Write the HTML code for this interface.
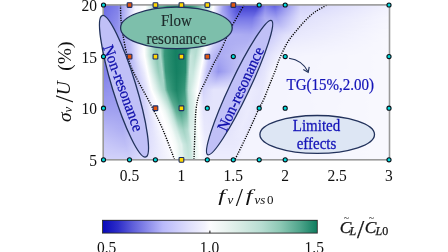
<!DOCTYPE html>
<html><head><meta charset="utf-8">
<style>
html,body{margin:0;padding:0;background:#fff;width:448px;height:252px;overflow:hidden;position:relative}
#hm{position:absolute;left:103.5px;top:5.2px;width:285.5px;height:154.3px;overflow:hidden}
#hm i{position:absolute;left:0;width:100%;display:block}
#cb{position:absolute;left:102.5px;top:220.3px;width:214.8px;height:12.8px;background:linear-gradient(90deg,#0a0ab9 0.00%,#2d2dc8 7.00%,#5f5fda 14.00%,#8c8cea 21.00%,#b9b9fa 28.00%,#dedefc 40.00%,#f2f2fd 47.50%,#fcfcfe 50.00%,#ebf4f1 57.00%,#d7ebe4 64.00%,#b7ddd2 74.00%,#8cc8b4 83.00%,#50a58c 92.00%,#0f7d5f 100.00%)}
svg{position:absolute;left:0;top:0}
text{font-family:"Liberation Serif","DejaVu Serif",serif}
</style></head><body>
<div id="hm">
<i style="top:0.0px;height:1.5px;background:linear-gradient(90deg,#6969e4 0.0px,#7171e6 4.5px,#7878e7 9.0px,#7f7fe9 13.5px,#a3a3f1 18.5px,#c3c3f7 23.5px,#ddddfb 27.5px,#f6f6fe 31.5px,#fafafe 36.5px,#ffffff 41.5px,#e4f2ee 45.0px,#c8e6de 48.5px,#9bd0bf 51.5px,#6ab59e 54.5px,#5faf96 58.5px,#2d9173 63.5px,#258b6d 67.1px,#1d8567 70.8px,#148062 74.5px,#1d8567 78.5px,#258b6d 82.5px,#2d9173 86.5px,#46a084 89.5px,#5faf96 92.5px,#80c1ad 96.0px,#a0d2c3 99.5px,#cee9e1 104.4px,#ffffff 109.4px,#dedefb 113.0px,#bcbcf6 116.7px,#9797ee 120.3px,#7e7ee9 124.3px,#6666e3 128.3px,#5252d8 132.3px,#3e3ece 136.3px,#3e3ece 140.8px,#3e3ece 145.3px,#3e3ece 149.8px,#3e3ece 154.3px,#5d5dde 157.9px,#8181e9 161.5px,#7171e6 166.0px,#6262e0 170.6px,#7474e6 174.9px,#8888eb 179.2px,#9c9cef 183.5px,#afaff3 187.9px,#c1c1f7 192.2px,#d3d3fa 196.5px,#d4d4fa 201.4px,#d6d6fa 206.4px,#d8d8fb 211.3px,#d9d9fb 216.3px,#dbdbfb 221.2px,#ddddfb 226.2px,#dfdffb 231.1px,#e0e0fc 236.1px,#e2e2fc 241.0px,#e4e4fc 245.9px,#e6e6fc 250.9px,#e7e7fc 255.8px,#e9e9fd 260.8px,#ebebfd 265.7px,#ececfd 270.7px,#eeeefd 275.6px,#f0f0fd 280.6px,#f2f2fe 285.5px)"></i>
<i style="top:1.0px;height:1.5px;background:linear-gradient(90deg,#6a6ae4 0.0px,#7272e6 4.5px,#7979e7 9.0px,#8080e9 13.5px,#a3a3f1 18.4px,#c3c3f7 23.4px,#ddddfb 27.4px,#f6f6fe 31.4px,#fafafe 36.4px,#ffffff 41.4px,#e4f2ee 44.9px,#c8e6de 48.4px,#9bd0bf 51.4px,#6ab59e 54.4px,#5faf96 58.4px,#2d9173 63.4px,#258b6d 67.0px,#1d8567 70.7px,#148062 74.4px,#1d8567 78.4px,#258b6d 82.4px,#2d9173 86.4px,#46a084 89.4px,#5faf96 92.4px,#80c1ad 95.9px,#a0d2c3 99.4px,#cee9e1 104.3px,#ffffff 109.3px,#dfdffb 112.8px,#bebef6 116.4px,#9a9aef 119.9px,#8282e9 123.9px,#6a6ae4 127.9px,#5656da 131.8px,#4242d0 135.8px,#4242d0 140.3px,#4242d0 144.8px,#4242d0 149.3px,#4242d0 153.8px,#6161e0 157.6px,#8484ea 161.4px,#7575e7 166.1px,#6666e3 170.7px,#7979e7 175.0px,#8c8cec 179.3px,#9f9ff0 183.6px,#b1b1f3 187.9px,#c2c2f7 192.2px,#d4d4fa 196.5px,#d5d5fa 201.4px,#d7d7fb 206.4px,#d9d9fb 211.3px,#dadafb 216.3px,#dcdcfb 221.2px,#dedefb 226.2px,#dfdffb 231.1px,#e1e1fc 236.1px,#e3e3fc 241.0px,#e4e4fc 245.9px,#e6e6fc 250.9px,#e8e8fc 255.8px,#eaeafd 260.8px,#ebebfd 265.7px,#ededfd 270.7px,#efeffd 275.6px,#f0f0fd 280.6px,#f2f2fe 285.5px)"></i>
<i style="top:2.0px;height:1.5px;background:linear-gradient(90deg,#6b6be4 0.0px,#7272e6 4.5px,#7a7ae8 9.0px,#8181e9 13.5px,#a3a3f1 18.4px,#c3c3f7 23.3px,#ddddfb 27.3px,#f6f6fe 31.3px,#fafafe 36.3px,#ffffff 41.3px,#e4f2ee 44.8px,#c8e6de 48.3px,#9bd0bf 51.3px,#6ab59e 54.3px,#5faf96 58.3px,#2d9173 63.3px,#258b6d 67.0px,#1d8567 70.6px,#148062 74.3px,#1d8567 78.3px,#258b6d 82.3px,#2d9173 86.3px,#46a084 89.3px,#5faf96 92.3px,#80c1ad 95.8px,#a0d2c3 99.3px,#cee9e1 104.2px,#ffffff 109.1px,#e0e0fc 112.6px,#c0c0f6 116.1px,#9e9eef 119.5px,#8686ea 123.5px,#6e6ee5 127.4px,#5a5adc 131.4px,#4747d2 135.3px,#4747d2 139.8px,#4747d2 144.3px,#4747d2 148.8px,#4747d2 153.3px,#6464e2 157.3px,#8888eb 161.3px,#7979e8 166.1px,#6b6be4 170.9px,#7d7de8 175.2px,#9090ed 179.4px,#a2a2f0 183.7px,#b3b3f4 188.0px,#c4c4f7 192.2px,#d5d5fa 196.5px,#d6d6fa 201.4px,#d8d8fb 206.4px,#dadafb 211.3px,#dbdbfb 216.3px,#ddddfb 221.2px,#dfdffb 226.2px,#e0e0fc 231.1px,#e2e2fc 236.1px,#e4e4fc 241.0px,#e5e5fc 245.9px,#e7e7fc 250.9px,#e8e8fc 255.8px,#eaeafd 260.8px,#ececfd 265.7px,#ededfd 270.7px,#efeffd 275.6px,#f1f1fd 280.6px,#f2f2fe 285.5px)"></i>
<i style="top:3.0px;height:1.5px;background:linear-gradient(90deg,#6c6ce5 0.0px,#7373e6 4.5px,#7b7be8 9.0px,#8282e9 13.5px,#a4a4f1 18.4px,#c3c3f7 23.2px,#ddddfb 27.2px,#f6f6fe 31.2px,#fafafe 36.2px,#ffffff 41.2px,#e4f2ee 44.7px,#c8e6de 48.2px,#9bd0bf 51.2px,#6ab59e 54.2px,#5faf96 58.2px,#2d9173 63.2px,#258b6d 66.9px,#1d8567 70.6px,#148062 74.2px,#1d8567 78.2px,#258b6d 82.2px,#2d9173 86.2px,#46a084 89.2px,#5faf96 92.2px,#80c1ad 95.7px,#a0d2c3 99.2px,#cee9e1 104.1px,#ffffff 109.0px,#e1e1fc 112.3px,#c2c2f7 115.7px,#a1a1f0 119.1px,#8a8aeb 123.1px,#7373e6 127.0px,#5e5ede 130.9px,#4b4bd5 134.9px,#4b4bd5 139.4px,#4b4bd5 143.9px,#4b4bd5 148.4px,#4b4bd5 152.9px,#6868e3 157.0px,#8b8beb 161.2px,#7e7ee8 166.1px,#7070e6 171.0px,#8282e9 175.3px,#9494ed 179.5px,#a5a5f1 183.8px,#b6b6f4 188.0px,#c6c6f8 192.3px,#d6d6fa 196.5px,#d7d7fb 201.4px,#d9d9fb 206.4px,#dbdbfb 211.3px,#dcdcfb 216.3px,#dedefb 221.2px,#dfdffb 226.2px,#e1e1fc 231.1px,#e3e3fc 236.1px,#e4e4fc 241.0px,#e6e6fc 245.9px,#e7e7fc 250.9px,#e9e9fd 255.8px,#ebebfd 260.8px,#ececfd 265.7px,#eeeefd 270.7px,#f0f0fd 275.6px,#f1f1fd 280.6px,#f3f3fe 285.5px)"></i>
<i style="top:4.0px;height:1.5px;background:linear-gradient(90deg,#6d6de5 0.0px,#7474e6 4.5px,#7c7ce8 9.0px,#8383ea 13.5px,#a4a4f1 18.3px,#c3c3f7 23.1px,#ddddfb 27.1px,#f6f6fe 31.1px,#fafafe 36.1px,#ffffff 41.1px,#e4f2ee 44.6px,#c8e6de 48.1px,#9bd0bf 51.1px,#6ab59e 54.1px,#5faf96 58.1px,#2d9173 63.1px,#258b6d 66.8px,#1d8567 70.5px,#148062 74.1px,#1d8567 78.1px,#258b6d 82.1px,#2d9173 86.1px,#46a084 89.1px,#5faf96 92.1px,#80c1ad 95.6px,#a0d2c3 99.1px,#cee9e1 104.0px,#ffffff 108.8px,#d4d4fa 113.8px,#a4a4f1 118.7px,#8e8eec 122.7px,#7777e7 126.6px,#6262e0 130.5px,#4f4fd7 134.4px,#4f4fd7 138.9px,#4f4fd7 143.4px,#4f4fd7 147.9px,#4f4fd7 152.4px,#6c6ce5 156.8px,#8e8eec 161.1px,#8686ea 164.5px,#7e7ee8 167.9px,#7575e7 171.2px,#8686ea 175.4px,#9898ee 179.6px,#a8a8f2 183.9px,#b8b8f5 188.1px,#c8c8f8 192.3px,#d7d7fb 196.5px,#d8d8fb 201.4px,#dadafb 206.4px,#dbdbfb 211.3px,#ddddfb 216.3px,#dfdffb 221.2px,#e0e0fc 226.2px,#e2e2fc 231.1px,#e3e3fc 236.1px,#e5e5fc 241.0px,#e6e6fc 245.9px,#e8e8fc 250.9px,#eaeafd 255.8px,#ebebfd 260.8px,#ededfd 265.7px,#eeeefd 270.7px,#f0f0fd 275.6px,#f2f2fe 280.6px,#f3f3fe 285.5px)"></i>
<i style="top:5.0px;height:1.5px;background:linear-gradient(90deg,#6e6ee5 0.0px,#7575e7 4.5px,#7c7ce8 9.0px,#8484ea 13.5px,#a5a5f1 18.3px,#c3c3f7 23.1px,#ddddfb 27.1px,#f6f6fe 31.1px,#fafafe 36.1px,#ffffff 41.1px,#e4f2ee 44.6px,#c8e6de 48.1px,#9bd0bf 51.1px,#6ab59e 54.1px,#5faf96 58.1px,#2d9173 63.1px,#258b6d 66.7px,#1d8567 70.4px,#148062 74.1px,#1d8567 78.1px,#258b6d 82.1px,#2d9173 86.1px,#46a084 89.1px,#5faf96 92.1px,#80c1ad 95.6px,#a0d2c3 99.1px,#cee9e1 103.9px,#ffffff 108.6px,#d5d5fa 113.5px,#a7a7f1 118.4px,#9292ed 122.2px,#7b7be8 126.1px,#6666e2 130.0px,#5353d9 133.9px,#5353d9 138.4px,#5353d9 142.9px,#5353d9 147.4px,#5353d9 151.9px,#7070e6 156.5px,#9292ed 161.1px,#8a8aeb 164.5px,#8282ea 167.9px,#7a7ae8 171.4px,#8b8beb 175.5px,#9c9cef 179.7px,#ababf2 183.9px,#babaf5 188.1px,#c9c9f8 192.3px,#d8d8fb 196.5px,#d9d9fb 201.4px,#dbdbfb 206.4px,#dcdcfb 211.3px,#dedefb 216.3px,#dfdffb 221.2px,#e1e1fc 226.2px,#e3e3fc 231.1px,#e4e4fc 236.1px,#e6e6fc 241.0px,#e7e7fc 245.9px,#e9e9fd 250.9px,#eaeafd 255.8px,#ececfd 260.8px,#ededfd 265.7px,#efeffd 270.7px,#f0f0fd 275.6px,#f2f2fe 280.6px,#f3f3fe 285.5px)"></i>
<i style="top:6.0px;height:1.5px;background:linear-gradient(90deg,#6f6fe5 0.0px,#7676e7 4.5px,#7d7de8 9.0px,#8585ea 13.5px,#a5a5f1 18.2px,#c3c3f7 23.0px,#ddddfb 27.0px,#f6f6fe 31.0px,#fafafe 36.0px,#ffffff 41.0px,#e4f2ee 44.5px,#c8e6de 48.0px,#9bd0bf 51.0px,#6ab59e 54.0px,#5faf96 58.0px,#2d9173 63.0px,#258b6d 66.7px,#1d8567 70.3px,#148062 74.0px,#1d8567 78.0px,#258b6d 82.0px,#2d9173 86.0px,#46a084 89.0px,#5faf96 92.0px,#80c1ad 95.5px,#a0d2c3 99.0px,#cee9e1 103.7px,#ffffff 108.5px,#d7d7fb 113.2px,#aaaaf2 118.0px,#9595ee 121.8px,#7f7fe9 125.7px,#6969e4 129.6px,#5757db 133.5px,#5757db 138.0px,#5757db 142.5px,#5757db 147.0px,#5757db 151.5px,#7474e6 156.2px,#9595ee 161.0px,#8e8eec 164.5px,#8787ea 168.0px,#8080e9 171.5px,#9393ed 176.5px,#a5a5f1 181.5px,#b7b7f5 186.5px,#c8c8f8 191.5px,#d9d9fb 196.5px,#dadafb 201.4px,#dcdcfb 206.4px,#ddddfb 211.3px,#dfdffb 216.3px,#e0e0fc 221.2px,#e2e2fc 226.2px,#e3e3fc 231.1px,#e5e5fc 236.1px,#e6e6fc 241.0px,#e8e8fc 245.9px,#e9e9fd 250.9px,#ebebfd 255.8px,#ececfd 260.8px,#eeeefd 265.7px,#efeffd 270.7px,#f1f1fd 275.6px,#f2f2fe 280.6px,#f4f4fe 285.5px)"></i>
<i style="top:7.0px;height:1.5px;background:linear-gradient(90deg,#6f6fe5 0.0px,#7777e7 4.5px,#7e7ee9 9.0px,#8585ea 13.5px,#a5a5f1 18.2px,#c3c3f7 22.9px,#ddddfb 26.9px,#f6f6fe 30.9px,#fafafe 35.9px,#ffffff 40.9px,#e4f2ee 44.4px,#c8e6de 47.9px,#9bd0bf 50.9px,#6ab59e 53.9px,#5faf96 57.9px,#2d9173 62.9px,#258b6d 66.6px,#1d8567 70.2px,#148062 73.9px,#1d8567 77.9px,#258b6d 81.9px,#2d9173 85.9px,#46a084 88.9px,#5faf96 91.9px,#80c1ad 95.4px,#a0d2c3 98.9px,#cee9e1 103.6px,#ffffff 108.3px,#d8d8fb 112.9px,#adadf3 117.6px,#9999ef 121.4px,#8484ea 125.3px,#6e6ee5 129.1px,#5c5cdd 133.0px,#5c5cdd 137.5px,#5c5cdd 142.0px,#5c5cdd 146.5px,#5c5cdd 151.0px,#7979e7 155.9px,#9999ee 160.9px,#9292ed 164.5px,#8b8bec 168.1px,#8585ea 171.7px,#9797ee 176.6px,#a9a9f2 181.6px,#b9b9f5 186.6px,#cacaf8 191.5px,#dadafb 196.5px,#dbdbfb 201.4px,#ddddfb 206.4px,#dedefb 211.3px,#e0e0fc 216.3px,#e1e1fc 221.2px,#e3e3fc 226.2px,#e4e4fc 231.1px,#e6e6fc 236.1px,#e7e7fc 241.0px,#e8e8fc 245.9px,#eaeafd 250.9px,#ebebfd 255.8px,#ededfd 260.8px,#eeeefd 265.7px,#f0f0fd 270.7px,#f1f1fd 275.6px,#f3f3fe 280.6px,#f4f4fe 285.5px)"></i>
<i style="top:8.0px;height:1.5px;background:linear-gradient(90deg,#7070e6 0.0px,#7878e7 4.5px,#7f7fe9 9.0px,#8686ea 13.5px,#a6a6f1 18.2px,#c3c3f7 22.8px,#ddddfb 26.8px,#f6f6fe 30.8px,#fafafe 35.8px,#ffffff 40.8px,#e4f2ee 44.3px,#c8e6de 47.8px,#9bd0bf 50.8px,#6ab59e 53.8px,#5faf96 57.8px,#2d9173 62.8px,#258b6d 66.5px,#1d8567 70.2px,#148062 73.8px,#1d8567 77.8px,#258b6d 81.8px,#2d9173 85.8px,#46a084 88.8px,#5faf96 91.8px,#80c1ad 95.3px,#a0d2c3 98.8px,#cee9e1 103.5px,#ffffff 108.2px,#d9d9fb 112.7px,#b1b1f3 117.2px,#9d9def 121.0px,#8888eb 124.8px,#7373e6 128.7px,#6060df 132.5px,#6060df 137.0px,#6060df 141.5px,#6060df 146.0px,#6060df 150.5px,#7373e6 154.0px,#8787eb 157.4px,#9c9cef 160.8px,#9696ee 164.5px,#9090ec 168.2px,#8a8aeb 171.8px,#9b9bef 176.8px,#acacf2 181.7px,#bcbcf6 186.6px,#ccccf9 191.6px,#dbdbfb 196.5px,#dcdcfb 201.4px,#dedefb 206.4px,#dfdffb 211.3px,#e1e1fc 216.3px,#e2e2fc 221.2px,#e3e3fc 226.2px,#e5e5fc 231.1px,#e6e6fc 236.1px,#e8e8fc 241.0px,#e9e9fd 245.9px,#ebebfd 250.9px,#ececfd 255.8px,#ededfd 260.8px,#efeffd 265.7px,#f0f0fd 270.7px,#f2f2fe 275.6px,#f3f3fe 280.6px,#f4f4fe 285.5px)"></i>
<i style="top:9.0px;height:1.5px;background:linear-gradient(90deg,#7171e6 0.0px,#7878e7 4.5px,#8080e9 9.0px,#8787eb 13.5px,#a6a6f1 18.1px,#c3c3f7 22.8px,#ddddfb 26.8px,#f6f6fe 30.8px,#fafafe 35.8px,#ffffff 40.8px,#e4f2ee 44.3px,#c8e6de 47.8px,#9bd0bf 50.8px,#6ab59e 53.8px,#5faf96 57.8px,#2d9173 62.8px,#258b6d 66.4px,#1d8567 70.1px,#148062 73.8px,#1d8567 77.8px,#258b6d 81.8px,#2d9173 85.8px,#46a084 88.8px,#5faf96 91.8px,#80c1ad 95.3px,#a0d2c3 98.8px,#cee9e1 103.4px,#ffffff 108.0px,#dbdbfb 112.4px,#b4b4f4 116.8px,#a1a1f0 120.6px,#8c8cec 124.4px,#7878e7 128.2px,#6464e1 132.0px,#6464e1 136.5px,#6464e1 141.0px,#6464e1 145.5px,#6464e1 150.0px,#7777e7 153.6px,#8b8bec 157.2px,#a0a0f0 160.8px,#9a9aef 164.5px,#9595ee 168.2px,#8f8fec 172.0px,#a0a0f0 176.9px,#afaff3 181.8px,#bebef6 186.7px,#cecef9 191.6px,#dcdcfb 196.5px,#ddddfb 201.4px,#dfdffb 206.4px,#e0e0fc 211.3px,#e2e2fc 216.3px,#e3e3fc 221.2px,#e4e4fc 226.2px,#e6e6fc 231.1px,#e7e7fc 236.1px,#e8e8fc 241.0px,#eaeafd 245.9px,#ebebfd 250.9px,#ededfd 255.8px,#eeeefd 260.8px,#efeffd 265.7px,#f1f1fd 270.7px,#f2f2fe 275.6px,#f3f3fe 280.6px,#f5f5fe 285.5px)"></i>
<i style="top:10.0px;height:1.5px;background:linear-gradient(90deg,#7272e6 0.0px,#7979e8 4.5px,#8181e9 9.0px,#8888eb 13.5px,#a7a7f1 18.1px,#c3c3f7 22.7px,#ddddfb 26.7px,#f6f6fe 30.7px,#fafafe 35.7px,#ffffff 40.7px,#e4f2ee 44.2px,#c8e6de 47.7px,#9bd0bf 50.7px,#6ab59e 53.7px,#5faf96 57.7px,#2d9173 62.7px,#258b6d 66.3px,#1d8567 70.0px,#148062 73.7px,#1d8567 77.7px,#258b6d 81.7px,#2d9173 85.7px,#46a084 88.7px,#5faf96 91.7px,#80c1ad 95.2px,#a0d2c3 98.7px,#cee9e1 103.3px,#ffffff 107.9px,#dcdcfb 112.1px,#b7b7f5 116.4px,#a4a4f1 120.2px,#9191ed 124.0px,#7c7ce8 127.8px,#6868e4 131.6px,#6868e4 136.1px,#6868e4 140.6px,#6868e4 145.1px,#6868e4 149.6px,#7c7ce8 153.3px,#8f8fec 157.0px,#a3a3f1 160.7px,#9e9ef0 164.5px,#9999ee 168.3px,#9494ed 172.1px,#a4a4f1 177.0px,#b2b2f4 181.9px,#c1c1f7 186.8px,#d0d0fa 191.6px,#ddddfb 196.5px,#dedefb 201.4px,#e0e0fc 206.4px,#e1e1fc 211.3px,#e2e2fc 216.3px,#e4e4fc 221.2px,#e5e5fc 226.2px,#e6e6fc 231.1px,#e8e8fc 236.1px,#e9e9fd 241.0px,#eaeafd 245.9px,#ececfd 250.9px,#ededfd 255.8px,#eeeefd 260.8px,#f0f0fd 265.7px,#f1f1fd 270.7px,#f3f3fe 275.6px,#f4f4fe 280.6px,#f5f5fe 285.5px)"></i>
<i style="top:11.0px;height:1.5px;background:linear-gradient(90deg,#7373e6 0.0px,#7a7ae8 4.5px,#8282e9 9.0px,#8989eb 13.5px,#a7a7f1 18.1px,#c3c3f7 22.6px,#ddddfb 26.6px,#f6f6fe 30.6px,#fafafe 35.6px,#ffffff 40.6px,#e4f2ee 44.1px,#c8e6de 47.6px,#9bcfbf 50.6px,#6ab59e 53.6px,#5faf96 57.6px,#2d9173 62.6px,#258b6d 66.3px,#1d8567 69.9px,#158062 73.6px,#1d8567 77.6px,#258b6d 81.6px,#2d9173 85.6px,#46a084 88.6px,#5faf96 91.6px,#80c1ad 95.1px,#a0d2c3 98.6px,#cee9e1 103.2px,#ffffff 107.7px,#dedefb 111.9px,#babaf5 116.0px,#a8a8f2 119.8px,#9595ee 123.6px,#8181e9 127.3px,#6d6de5 131.1px,#6d6de5 135.6px,#6d6de5 140.1px,#6d6de5 144.6px,#6d6de5 149.1px,#8080e9 152.9px,#9393ed 156.8px,#a6a6f1 160.6px,#a2a2f0 164.5px,#9e9ef0 168.4px,#9999ef 172.3px,#a8a8f2 177.1px,#b6b6f4 182.0px,#c4c4f7 186.8px,#d2d2fa 191.7px,#dedefb 196.5px,#dfdffb 201.4px,#e1e1fc 206.4px,#e2e2fc 211.3px,#e3e3fc 216.3px,#e5e5fc 221.2px,#e6e6fc 226.2px,#e7e7fc 231.1px,#e9e9fd 236.1px,#eaeafd 241.0px,#ebebfd 245.9px,#ececfd 250.9px,#eeeefd 255.8px,#efeffd 260.8px,#f0f0fd 265.7px,#f2f2fe 270.7px,#f3f3fe 275.6px,#f4f4fe 280.6px,#f6f6fe 285.5px)"></i>
<i style="top:12.0px;height:1.5px;background:linear-gradient(90deg,#7474e6 0.0px,#7b7be8 4.5px,#8282ea 9.0px,#8a8aeb 13.5px,#a7a7f1 18.0px,#c3c3f7 22.5px,#ddddfb 26.5px,#f6f6fe 30.5px,#fafafe 35.5px,#ffffff 40.5px,#e4f2ee 44.0px,#c8e6de 47.5px,#9bd0bf 50.5px,#6ab59e 53.5px,#5faf96 57.5px,#2d9173 62.5px,#258b6d 66.2px,#1d8567 69.9px,#148062 73.5px,#1d8567 77.5px,#258b6d 81.5px,#2d9173 85.5px,#46a084 88.5px,#5faf96 91.5px,#80c1ad 95.0px,#a0d2c3 98.5px,#cee9e1 103.0px,#ffffff 107.5px,#dfdffb 111.6px,#bdbdf6 115.6px,#ababf2 119.4px,#9999ef 123.1px,#8686ea 126.9px,#7272e6 130.6px,#7272e6 135.1px,#7272e6 139.6px,#7272e6 144.1px,#7272e6 148.6px,#8585ea 152.6px,#9797ee 156.6px,#a9a9f2 160.5px,#a6a6f1 164.5px,#a2a2f0 168.5px,#9e9ef0 172.5px,#acacf2 177.3px,#b9b9f5 182.1px,#c6c6f8 186.9px,#d3d3fa 191.7px,#dfdffb 196.5px,#e0e0fc 201.4px,#e2e2fc 206.4px,#e3e3fc 211.3px,#e4e4fc 216.3px,#e5e5fc 221.2px,#e7e7fc 226.2px,#e8e8fc 231.1px,#e9e9fd 236.1px,#ebebfd 241.0px,#ececfd 245.9px,#ededfd 250.9px,#eeeefd 255.8px,#f0f0fd 260.8px,#f1f1fd 265.7px,#f2f2fe 270.7px,#f3f3fe 275.6px,#f5f5fe 280.6px,#f6f6fe 285.5px)"></i>
<i style="top:13.0px;height:1.5px;background:linear-gradient(90deg,#7474e6 0.0px,#7c7ce8 4.5px,#8383ea 9.0px,#8b8beb 13.5px,#a8a8f2 18.1px,#c3c3f7 22.6px,#ddddfb 26.6px,#f5f5fe 30.6px,#fafafe 35.5px,#ffffff 40.5px,#e3f2ee 43.9px,#c8e6de 47.4px,#9cd0c0 50.4px,#6bb69f 53.4px,#5faf96 57.5px,#2d9173 62.5px,#258b6d 66.1px,#1d8567 69.8px,#148062 73.5px,#1d8567 77.5px,#258b6d 81.5px,#2d9173 85.5px,#47a085 88.4px,#61b097 91.4px,#81c2ae 94.9px,#a1d2c3 98.4px,#cee9e2 102.9px,#ffffff 107.4px,#e0e0fc 111.4px,#bfbff6 115.5px,#a8a8f2 120.4px,#9090ec 125.4px,#7676e7 130.3px,#7676e7 134.9px,#7676e7 139.4px,#7676e7 143.9px,#7676e7 148.4px,#8888eb 152.6px,#9b9bef 156.8px,#acacf2 161.0px,#a9a9f2 164.9px,#a6a6f1 168.9px,#a3a3f1 172.9px,#afaff3 177.6px,#bcbcf6 182.3px,#c8c8f8 187.0px,#d5d5fa 191.7px,#e0e0fc 196.4px,#e1e1fc 201.4px,#e2e2fc 206.3px,#e4e4fc 211.3px,#e5e5fc 216.2px,#e6e6fc 221.2px,#e7e7fc 226.1px,#e9e9fd 231.1px,#eaeafd 236.0px,#ebebfd 241.0px,#ececfd 245.9px,#ededfd 250.9px,#efeffd 255.8px,#f0f0fd 260.8px,#f1f1fd 265.7px,#f2f2fe 270.7px,#f4f4fe 275.6px,#f5f5fe 280.6px,#f6f6fe 285.5px)"></i>
<i style="top:14.0px;height:1.5px;background:linear-gradient(90deg,#7474e6 0.0px,#7c7ce8 4.5px,#8484ea 9.1px,#8c8cec 13.6px,#a8a8f2 18.2px,#c2c2f7 22.7px,#dcdcfb 26.8px,#f4f4fe 30.8px,#fafafe 35.6px,#ffffff 40.4px,#e4f2ee 43.8px,#c8e6de 47.3px,#9cd0c0 50.3px,#6db7a0 53.3px,#60b097 57.4px,#2d9173 62.4px,#258b6d 66.1px,#1d8567 69.7px,#148062 73.4px,#1d8567 77.4px,#258b6d 81.4px,#2d9173 85.4px,#48a186 88.3px,#63b199 91.2px,#83c3af 94.7px,#a1d3c4 98.2px,#cee9e2 102.7px,#ffffff 107.2px,#e0e0fc 111.3px,#c0c0f6 115.4px,#aaaaf2 120.3px,#9292ed 125.2px,#7a7ae8 130.1px,#7a7ae8 134.7px,#7a7ae8 139.2px,#7a7ae8 143.8px,#7a7ae8 148.3px,#8b8bec 152.7px,#9d9def 157.2px,#aeaef3 161.6px,#ababf2 165.5px,#a9a9f2 169.5px,#a6a6f1 173.4px,#b2b2f4 178.0px,#bebef6 182.6px,#cacaf8 187.1px,#d6d6fa 191.7px,#e0e0fc 196.3px,#e2e2fc 201.3px,#e3e3fc 206.2px,#e4e4fc 211.2px,#e5e5fc 216.1px,#e6e6fc 221.1px,#e8e8fc 226.0px,#e9e9fd 231.0px,#eaeafd 235.9px,#ebebfd 240.9px,#ededfd 245.9px,#eeeefd 250.8px,#efeffd 255.8px,#f0f0fd 260.7px,#f1f1fd 265.7px,#f3f3fe 270.6px,#f4f4fe 275.6px,#f5f5fe 280.5px,#f6f6fe 285.5px)"></i>
<i style="top:15.0px;height:1.5px;background:linear-gradient(90deg,#7474e6 0.0px,#7c7ce8 4.6px,#8484ea 9.1px,#8d8dec 13.7px,#a8a8f2 18.2px,#c1c1f7 22.8px,#dbdbfb 26.9px,#f3f3fe 31.0px,#f9f9fe 35.7px,#ffffff 40.3px,#e4f3ef 43.8px,#c8e6de 47.2px,#9dd1c1 50.2px,#6fb8a1 53.2px,#61b097 57.3px,#2d9173 62.3px,#258b6d 66.0px,#1d8567 69.7px,#148062 73.3px,#1d8567 77.3px,#258b6d 81.3px,#2d9173 85.3px,#49a287 88.2px,#66b39b 91.0px,#85c4b0 94.5px,#a2d3c4 98.0px,#cfe9e2 102.5px,#ffffff 107.0px,#e1e1fc 111.2px,#c1c1f7 115.3px,#acacf2 120.2px,#9595ee 125.0px,#7e7ee8 129.9px,#7d7de8 134.4px,#7d7de8 139.0px,#7d7de8 143.6px,#7d7de8 148.2px,#8e8eec 152.9px,#a0a0f0 157.6px,#b0b0f3 162.2px,#aeaef3 166.1px,#acacf2 170.0px,#aaaaf2 173.9px,#b6b6f4 178.4px,#c1c1f7 182.8px,#ccccf9 187.3px,#d7d7fb 191.7px,#e1e1fc 196.2px,#e2e2fc 201.1px,#e3e3fc 206.1px,#e5e5fc 211.1px,#e6e6fc 216.0px,#e7e7fc 221.0px,#e8e8fc 226.0px,#e9e9fd 230.9px,#eaeafd 235.9px,#ececfd 240.8px,#ededfd 245.8px,#eeeefd 250.8px,#efeffd 255.7px,#f0f0fd 260.7px,#f2f2fe 265.7px,#f3f3fe 270.6px,#f4f4fe 275.6px,#f5f5fe 280.5px,#f6f6fe 285.5px)"></i>
<i style="top:16.0px;height:1.5px;background:linear-gradient(90deg,#7474e6 0.0px,#7d7de8 4.6px,#8585ea 9.1px,#8e8eec 13.7px,#a8a8f2 18.3px,#c1c1f7 22.9px,#dadafb 27.0px,#f2f2fe 31.2px,#f9f9fe 35.7px,#ffffff 40.3px,#e3f2ee 43.7px,#c8e6de 47.1px,#9ed1c2 50.1px,#71b9a3 53.1px,#61b098 57.3px,#2d9173 62.3px,#258b6d 65.9px,#1d8567 69.6px,#148062 73.3px,#1d8567 77.3px,#258b6d 81.3px,#2d9173 85.3px,#4aa388 88.1px,#69b49d 90.8px,#87c5b1 94.3px,#a3d4c5 97.8px,#cfe9e2 102.3px,#ffffff 106.8px,#e1e1fc 111.1px,#c2c2f7 115.3px,#aeaef3 120.1px,#9898ee 124.8px,#8181e9 129.6px,#8181e9 134.2px,#8181e9 138.8px,#8080e9 143.5px,#8080e9 148.1px,#9292ed 153.0px,#a3a3f1 158.0px,#b3b3f4 162.9px,#b1b1f3 166.7px,#b0b0f3 170.6px,#aeaef3 174.5px,#b9b9f5 178.8px,#c3c3f7 183.1px,#cecef9 187.4px,#d8d8fb 191.7px,#e1e1fc 196.1px,#e3e3fc 201.0px,#e4e4fc 206.0px,#e5e5fc 211.0px,#e6e6fc 215.9px,#e7e7fc 220.9px,#e8e8fc 225.9px,#eaeafd 230.8px,#ebebfd 235.8px,#ececfd 240.8px,#ededfd 245.8px,#eeeefd 250.7px,#efeffd 255.7px,#f1f1fd 260.7px,#f2f2fe 265.6px,#f3f3fe 270.6px,#f4f4fe 275.6px,#f5f5fe 280.5px,#f6f6fe 285.5px)"></i>
<i style="top:17.0px;height:1.5px;background:linear-gradient(90deg,#7474e6 0.0px,#7d7de8 4.6px,#8686ea 9.2px,#8f8fec 13.8px,#a8a8f2 18.4px,#c0c0f6 23.1px,#dadafb 27.2px,#f1f1fd 31.3px,#f8f8fe 35.8px,#ffffff 40.2px,#e4f2ee 43.6px,#c8e6de 46.9px,#9fd2c2 49.9px,#73baa4 52.9px,#62b198 57.2px,#47a185 59.7px,#2d9173 62.2px,#258b6d 65.9px,#1d8567 69.6px,#148062 73.2px,#1d8567 77.2px,#258b6d 81.2px,#2d9173 85.2px,#4ca388 87.9px,#6bb69e 90.7px,#88c6b3 94.2px,#a4d4c6 97.7px,#d0eae3 102.2px,#ffffff 106.7px,#e2e2fc 110.9px,#c4c4f7 115.2px,#afaff3 119.9px,#9b9bef 124.7px,#8585ea 129.4px,#8484ea 134.0px,#8484ea 138.7px,#8484ea 143.3px,#8383ea 147.9px,#9090ed 151.8px,#9d9def 155.7px,#a9a9f2 159.6px,#b5b5f4 163.5px,#b4b4f4 167.4px,#b3b3f4 171.2px,#b2b2f4 175.0px,#bcbcf6 179.2px,#c6c6f8 183.4px,#d0d0fa 187.6px,#d9d9fb 191.8px,#e2e2fc 195.9px,#e3e3fc 200.9px,#e4e4fc 205.9px,#e5e5fc 210.9px,#e7e7fc 215.8px,#e8e8fc 220.8px,#e9e9fd 225.8px,#eaeafd 230.8px,#ebebfd 235.7px,#ececfd 240.7px,#ededfd 245.7px,#efeffd 250.7px,#f0f0fd 255.6px,#f1f1fd 260.6px,#f2f2fe 265.6px,#f3f3fe 270.6px,#f4f4fe 275.5px,#f5f5fe 280.5px,#f7f7fe 285.5px)"></i>
<i style="top:18.0px;height:1.5px;background:linear-gradient(90deg,#7474e6 0.0px,#7d7de8 4.6px,#8686ea 9.2px,#9090ec 13.8px,#a8a8f2 18.5px,#c0c0f6 23.2px,#d9d9fb 27.3px,#f0f0fd 31.5px,#f7f7fe 35.8px,#ffffff 40.2px,#e4f3ef 43.5px,#c8e6de 46.8px,#a0d2c3 49.8px,#75bba5 52.8px,#63b199 57.2px,#2d9173 62.2px,#258b6d 65.8px,#1d8567 69.5px,#147f61 73.2px,#1d8567 77.2px,#258b6d 81.2px,#2d9173 85.2px,#4da489 87.8px,#6eb7a0 90.5px,#8ac7b4 94.0px,#a5d5c6 97.5px,#d0eae3 102.0px,#ffffff 106.5px,#e3e3fc 110.8px,#c5c5f7 115.2px,#b1b1f3 119.8px,#9e9eef 124.5px,#8888eb 129.2px,#8888eb 133.8px,#8787eb 138.5px,#8787eb 143.2px,#8686ea 147.8px,#9393ed 151.9px,#a0a0f0 156.0px,#acacf2 160.1px,#b7b7f5 164.2px,#b7b7f5 168.0px,#b6b6f4 171.7px,#b6b6f4 175.5px,#bfbff6 179.6px,#c8c8f8 183.6px,#d2d2fa 187.7px,#dadafb 191.8px,#e3e3fc 195.8px,#e4e4fc 200.8px,#e5e5fc 205.8px,#e6e6fc 210.8px,#e7e7fc 215.8px,#e8e8fc 220.7px,#e9e9fd 225.7px,#eaeafd 230.7px,#ececfd 235.7px,#ededfd 240.7px,#eeeefd 245.6px,#efeffd 250.6px,#f0f0fd 255.6px,#f1f1fd 260.6px,#f2f2fe 265.6px,#f3f3fe 270.6px,#f5f5fe 275.5px,#f6f6fe 280.5px,#f7f7fe 285.5px)"></i>
<i style="top:19.0px;height:1.5px;background:linear-gradient(90deg,#7474e6 0.0px,#7e7ee8 4.6px,#8787eb 9.3px,#9191ed 13.9px,#a8a8f2 18.6px,#bfbff6 23.3px,#d8d8fb 27.5px,#efeffd 31.7px,#f7f7fe 35.9px,#ffffff 40.1px,#e4f2ee 43.4px,#c8e6de 46.7px,#a1d2c3 49.7px,#77bca7 52.7px,#63b199 57.1px,#2d9173 62.1px,#258b6d 65.8px,#1d8567 69.4px,#148062 73.1px,#1d8567 77.1px,#258b6d 81.1px,#2d9173 85.1px,#4ea58a 87.7px,#70b8a2 90.3px,#8cc8b5 93.8px,#a6d5c7 97.3px,#d1eae3 101.8px,#ffffff 106.3px,#e3e3fc 110.7px,#c6c6f8 115.1px,#b3b3f4 119.7px,#a0a0f0 124.3px,#8c8cec 128.9px,#8b8beb 133.6px,#8b8beb 138.3px,#8a8aeb 143.0px,#8a8aeb 147.7px,#9696ee 152.0px,#a3a3f1 156.3px,#aeaef3 160.6px,#babaf5 164.8px,#babaf5 168.6px,#babaf5 172.3px,#babaf5 176.0px,#c4c4f7 181.0px,#cfcff9 185.9px,#d9d9fb 190.8px,#e3e3fc 195.7px,#e4e4fc 200.7px,#e5e5fc 205.7px,#e6e6fc 210.7px,#e7e7fc 215.7px,#e9e9fd 220.7px,#eaeafd 225.6px,#ebebfd 230.6px,#ececfd 235.6px,#ededfd 240.6px,#eeeefd 245.6px,#efeffd 250.6px,#f0f0fd 255.6px,#f1f1fd 260.6px,#f2f2fe 265.5px,#f4f4fe 270.5px,#f5f5fe 275.5px,#f6f6fe 280.5px,#f7f7fe 285.5px)"></i>
<i style="top:20.0px;height:1.5px;background:linear-gradient(90deg,#7474e6 0.0px,#7e7ee9 4.7px,#8888eb 9.3px,#9191ed 14.0px,#a9a9f2 18.7px,#bebef6 23.4px,#d7d7fb 27.6px,#eeeefd 31.9px,#f6f6fe 36.0px,#ffffff 40.0px,#e4f3ef 43.3px,#c8e6de 46.6px,#a2d3c4 49.6px,#79bda8 52.6px,#64b299 57.0px,#2d9173 62.0px,#258b6d 65.7px,#1d8567 69.4px,#148062 73.0px,#1d8567 77.0px,#258b6d 81.0px,#2d9173 85.0px,#4fa58b 87.6px,#73baa4 90.1px,#8ec8b6 93.6px,#a7d5c7 97.1px,#d1eae4 101.6px,#ffffff 106.1px,#e4e4fc 110.6px,#c7c7f8 115.0px,#b5b5f4 119.6px,#a3a3f1 124.1px,#8f8fec 128.7px,#8f8fec 133.4px,#8e8eec 138.1px,#8e8eec 142.9px,#8d8dec 147.6px,#9999ef 152.1px,#a5a5f1 156.5px,#b1b1f3 161.0px,#bcbcf6 165.5px,#bdbdf6 169.2px,#bdbdf6 172.9px,#bdbdf6 176.6px,#c7c7f8 181.3px,#d1d1fa 186.1px,#dbdbfb 190.8px,#e4e4fc 195.6px,#e5e5fc 200.6px,#e6e6fc 205.6px,#e7e7fc 210.6px,#e8e8fc 215.6px,#e9e9fd 220.6px,#eaeafd 225.6px,#ebebfd 230.6px,#ececfd 235.6px,#ededfd 240.5px,#eeeefd 245.5px,#efeffd 250.5px,#f1f1fd 255.5px,#f2f2fe 260.5px,#f3f3fe 265.5px,#f4f4fe 270.5px,#f5f5fe 275.5px,#f6f6fe 280.5px,#f7f7fe 285.5px)"></i>
<i style="top:21.0px;height:1.5px;background:linear-gradient(90deg,#7474e6 0.0px,#7e7ee9 4.7px,#8888eb 9.3px,#9292ed 14.0px,#a9a9f2 18.8px,#bebef6 23.5px,#d6d6fa 27.8px,#ededfd 32.0px,#f6f6fe 36.0px,#ffffff 40.0px,#e4f2ee 43.2px,#c8e6de 46.5px,#a3d3c5 49.5px,#7bbea9 52.5px,#65b29a 57.0px,#2d9173 62.0px,#258b6d 65.7px,#1d8567 69.3px,#148062 73.0px,#1d8567 77.0px,#258b6d 81.0px,#2d9173 85.0px,#76bba6 90.0px,#8fc9b7 93.5px,#a8d6c8 97.0px,#d2eae4 101.5px,#ffffff 106.0px,#e4e4fc 110.5px,#c8c8f8 115.0px,#b7b7f5 119.5px,#a6a6f1 124.0px,#9393ed 128.5px,#9292ed 133.2px,#9292ed 138.0px,#9191ed 142.7px,#9090ed 147.5px,#9c9cef 152.1px,#a8a8f2 156.8px,#b3b3f4 161.5px,#bebef6 166.1px,#bfbff6 169.8px,#c0c0f6 173.4px,#c1c1f7 177.1px,#cacaf8 181.7px,#d4d4fa 186.3px,#dcdcfb 190.9px,#e4e4fc 195.5px,#e5e5fc 200.2px,#e6e6fc 205.0px,#e7e7fc 209.7px,#e8e8fc 214.4px,#e9e9fd 219.2px,#eaeafd 223.9px,#ebebfd 228.6px,#ececfd 233.4px,#ededfd 238.1px,#eeeefd 242.9px,#efeffd 247.6px,#f0f0fd 252.3px,#f1f1fd 257.1px,#f2f2fe 261.8px,#f3f3fe 266.5px,#f4f4fe 271.3px,#f5f5fe 276.0px,#f6f6fe 280.8px,#f7f7fe 285.5px)"></i>
<i style="top:22.0px;height:1.5px;background:linear-gradient(90deg,#7474e6 0.0px,#7e7ee9 4.7px,#8989eb 9.4px,#9393ed 14.1px,#a9a9f2 18.9px,#bdbdf6 23.6px,#d6d6fa 27.9px,#ececfd 32.2px,#f5f5fe 36.1px,#ffffff 39.9px,#e4f2ee 43.1px,#c8e6de 46.4px,#a4d4c5 49.4px,#7dbfab 52.4px,#65b29a 56.9px,#2d9173 61.9px,#258b6d 65.6px,#1d8567 69.3px,#148062 72.9px,#1d8567 76.9px,#258b6d 80.9px,#2d9173 84.9px,#78bda7 89.8px,#91cab9 93.3px,#a9d6c9 96.8px,#d2ebe4 101.3px,#ffffff 105.8px,#e5e5fc 110.4px,#c9c9f8 114.9px,#b9b9f5 119.4px,#a8a8f2 123.8px,#9797ee 128.2px,#9696ee 133.0px,#9595ee 137.8px,#9494ed 142.6px,#9393ed 147.4px,#a0a0f0 152.2px,#ababf2 157.1px,#b6b6f4 161.9px,#c1c1f7 166.8px,#c2c2f7 170.4px,#c4c4f7 174.0px,#c5c5f7 177.6px,#cdcdf9 182.1px,#d6d6fa 186.5px,#ddddfb 190.9px,#e5e5fc 195.4px,#e6e6fc 200.1px,#e7e7fc 204.8px,#e8e8fc 209.6px,#e9e9fd 214.3px,#eaeafd 219.1px,#ebebfd 223.8px,#ececfd 228.6px,#ececfd 233.3px,#ededfd 238.1px,#eeeefd 242.8px,#efeffd 247.5px,#f0f0fd 252.3px,#f1f1fd 257.0px,#f2f2fe 261.8px,#f3f3fe 266.5px,#f4f4fe 271.3px,#f5f5fe 276.0px,#f6f6fe 280.8px,#f7f7fe 285.5px)"></i>
<i style="top:23.0px;height:1.5px;background:linear-gradient(90deg,#7474e6 0.0px,#7f7fe9 4.7px,#8a8aeb 9.4px,#9494ed 14.1px,#a9a9f2 18.9px,#bdbdf6 23.8px,#d5d5fa 28.1px,#ebebfd 32.4px,#f5f5fe 36.1px,#ffffff 39.9px,#e4f2ee 43.1px,#c8e6de 46.2px,#a4d4c6 49.2px,#7fc0ac 52.2px,#66b39b 56.9px,#2d9173 61.9px,#258b6d 65.5px,#1d8567 69.2px,#148062 72.9px,#1d8567 76.9px,#258b6d 80.9px,#2d9173 84.9px,#7bbea9 89.6px,#93cbba 93.1px,#a9d7c9 96.6px,#d3ebe4 101.1px,#ffffff 105.6px,#e5e5fc 110.2px,#cbcbf9 114.9px,#bbbbf5 119.2px,#ababf2 123.6px,#9a9aef 128.0px,#9999ef 132.8px,#9898ee 137.6px,#9797ee 142.4px,#9797ee 147.2px,#a0a0f0 151.3px,#a9a9f2 155.3px,#b2b2f4 159.4px,#babaf5 163.4px,#c3c3f7 167.4px,#c5c5f7 171.0px,#c7c7f8 174.6px,#c9c9f8 178.2px,#d1d1fa 182.4px,#d7d7fb 186.7px,#dedefb 191.0px,#e5e5fc 195.2px,#e6e6fc 200.0px,#e7e7fc 204.7px,#e8e8fc 209.5px,#e9e9fd 214.2px,#eaeafd 219.0px,#ebebfd 223.7px,#ececfd 228.5px,#ededfd 233.2px,#eeeefd 238.0px,#efeffd 242.7px,#f0f0fd 247.5px,#f1f1fd 252.2px,#f2f2fe 257.0px,#f3f3fe 261.7px,#f4f4fe 266.5px,#f5f5fe 271.2px,#f5f5fe 276.0px,#f6f6fe 280.7px,#f7f7fe 285.5px)"></i>
<i style="top:24.0px;height:1.5px;background:linear-gradient(90deg,#7474e6 0.0px,#7f7fe9 4.7px,#8a8aeb 9.5px,#9595ee 14.2px,#a9a9f2 19.0px,#bcbcf6 23.9px,#d4d4fa 28.2px,#eaeafd 32.6px,#f4f4fe 36.2px,#ffffff 39.8px,#e4f2ee 43.0px,#c8e6de 46.1px,#a5d5c6 49.1px,#81c1ad 52.1px,#67b39b 56.8px,#2d9173 61.8px,#258b6d 65.5px,#1d8567 69.1px,#148062 72.8px,#1d8567 76.8px,#258b6d 80.8px,#2d9173 84.8px,#7dc0ab 89.4px,#95ccbb 92.9px,#aad7ca 96.4px,#d3ebe5 100.9px,#ffffff 105.4px,#e6e6fc 110.1px,#ccccf9 114.8px,#bcbcf6 119.1px,#adadf3 123.4px,#9e9eef 127.7px,#9d9def 132.6px,#9c9cef 137.4px,#9b9bef 142.3px,#9a9aef 147.1px,#a3a3f1 151.3px,#acacf2 155.5px,#b4b4f4 159.7px,#bdbdf6 163.9px,#c6c6f8 168.1px,#c8c8f8 171.6px,#cacaf8 175.2px,#cdcdf9 178.7px,#d3d3fa 182.8px,#d9d9fb 186.9px,#e0e0fc 191.0px,#e6e6fc 195.1px,#e7e7fc 199.9px,#e8e8fc 204.6px,#e9e9fd 209.4px,#e9e9fd 214.2px,#eaeafd 218.9px,#ebebfd 223.7px,#ececfd 228.4px,#ededfd 233.2px,#eeeefd 237.9px,#efeffd 242.7px,#f0f0fd 247.4px,#f1f1fd 252.2px,#f2f2fe 257.0px,#f3f3fe 261.7px,#f4f4fe 266.5px,#f5f5fe 271.2px,#f6f6fe 276.0px,#f7f7fe 280.7px,#f8f8fe 285.5px)"></i>
<i style="top:25.0px;height:1.5px;background:linear-gradient(90deg,#7474e6 0.0px,#7f7fe9 4.7px,#8b8beb 9.5px,#9696ee 14.2px,#a9a9f2 19.1px,#bcbcf6 24.0px,#d3d3fa 28.4px,#e9e9fd 32.7px,#f4f4fe 36.2px,#ffffff 39.8px,#e4f2ee 42.9px,#c8e6de 46.0px,#a6d5c7 49.0px,#83c2af 52.0px,#67b39c 56.8px,#2d9173 61.8px,#258b6d 65.4px,#1d8567 69.1px,#148062 72.8px,#1d8567 76.8px,#258b6d 80.8px,#2d9173 84.8px,#80c1ad 89.3px,#97cdbc 92.8px,#abd8ca 96.3px,#d4ebe5 100.8px,#ffffff 105.3px,#e6e6fc 110.0px,#cdcdf9 114.8px,#bebef6 119.0px,#b0b0f3 123.3px,#a1a1f0 127.5px,#a0a0f0 132.4px,#9f9ff0 137.3px,#9e9ef0 142.1px,#9d9def 147.0px,#a6a6f1 151.3px,#aeaef3 155.7px,#b7b7f5 160.0px,#bfbff6 164.4px,#c8c8f8 168.7px,#cbcbf9 172.2px,#cecef9 175.7px,#d1d1fa 179.2px,#d6d6fa 183.2px,#dbdbfb 187.1px,#e1e1fc 191.1px,#e6e6fc 195.0px,#e7e7fc 199.8px,#e8e8fc 204.5px,#e9e9fd 209.3px,#eaeafd 214.1px,#ebebfd 218.8px,#ececfd 223.6px,#ededfd 228.3px,#eeeefd 233.1px,#eeeefd 237.9px,#efeffd 242.6px,#f0f0fd 247.4px,#f1f1fd 252.2px,#f2f2fe 256.9px,#f3f3fe 261.7px,#f4f4fe 266.4px,#f5f5fe 271.2px,#f6f6fe 276.0px,#f7f7fe 280.7px,#f8f8fe 285.5px)"></i>
<i style="top:26.0px;height:1.5px;background:linear-gradient(90deg,#7474e6 0.0px,#8080e9 4.8px,#8c8cec 9.5px,#9797ee 14.3px,#aaaaf2 19.2px,#bbbbf5 24.1px,#d2d2fa 28.5px,#e7e7fc 32.9px,#f3f3fe 36.3px,#ffffff 39.7px,#e4f2ee 42.8px,#c8e6de 45.9px,#a7d6c8 48.9px,#85c4b0 51.9px,#68b49c 56.7px,#2d9173 61.7px,#258b6d 65.4px,#1d8567 69.0px,#158062 72.7px,#1d8567 76.7px,#258b6d 80.7px,#2d9173 84.7px,#82c2ae 89.1px,#98cebd 92.6px,#acd8cb 96.1px,#d4ece5 100.6px,#ffffff 105.1px,#e7e7fc 109.9px,#cecef9 114.7px,#c0c0f6 118.9px,#b2b2f4 123.1px,#a4a4f1 127.3px,#a3a3f1 132.2px,#a2a2f0 137.1px,#a1a1f0 142.0px,#a0a0f0 146.9px,#a9a9f2 151.4px,#b1b1f3 155.9px,#b9b9f5 160.4px,#c2c2f7 164.9px,#cacaf8 169.4px,#cecef9 172.8px,#d1d1fa 176.3px,#d4d4fa 179.8px,#d9d9fb 183.5px,#ddddfb 187.3px,#e2e2fc 191.1px,#e7e7fc 194.9px,#e8e8fc 199.7px,#e9e9fd 204.4px,#e9e9fd 209.2px,#eaeafd 214.0px,#ebebfd 218.7px,#ececfd 223.5px,#ededfd 228.3px,#eeeefd 233.0px,#efeffd 237.8px,#f0f0fd 242.6px,#f1f1fd 247.3px,#f2f2fe 252.1px,#f2f2fe 256.9px,#f3f3fe 261.7px,#f4f4fe 266.4px,#f5f5fe 271.2px,#f6f6fe 276.0px,#f7f7fe 280.7px,#f8f8fe 285.5px)"></i>
<i style="top:27.0px;height:1.5px;background:linear-gradient(90deg,#7474e6 0.0px,#8080e9 4.8px,#8c8cec 9.6px,#9898ee 14.4px,#aaaaf2 19.3px,#babaf5 24.2px,#d2d2fa 28.7px,#e6e6fc 33.1px,#f3f3fe 36.4px,#ffffff 39.6px,#e4f3ef 42.7px,#c8e6de 45.8px,#a8d6c8 48.8px,#87c5b1 51.8px,#69b49d 56.6px,#4aa388 59.1px,#2d9173 61.6px,#258b6d 65.3px,#1d8567 69.0px,#148062 72.6px,#1d8567 76.6px,#258b6d 80.6px,#2d9173 84.6px,#85c4b0 88.9px,#9acfbf 92.4px,#add8cc 95.9px,#d5ece6 100.4px,#ffffff 104.9px,#e7e7fc 109.8px,#cfcff9 114.6px,#c2c2f7 118.8px,#b5b5f4 122.9px,#a8a8f2 127.0px,#a6a6f1 132.0px,#a5a5f1 136.9px,#a4a4f1 141.8px,#a3a3f1 146.8px,#acacf2 151.4px,#b4b4f4 156.1px,#bcbcf6 160.7px,#c4c4f7 165.4px,#cdcdf9 170.0px,#d0d0fa 173.4px,#d4d4fa 176.9px,#d8d8fb 180.3px,#ddddfb 185.1px,#e2e2fc 189.9px,#e7e7fc 194.8px,#e8e8fc 199.5px,#e9e9fd 204.3px,#eaeafd 209.1px,#ebebfd 213.9px,#ececfd 218.6px,#ededfd 223.4px,#ededfd 228.2px,#eeeefd 233.0px,#efeffd 237.7px,#f0f0fd 242.5px,#f1f1fd 247.3px,#f2f2fe 252.1px,#f3f3fe 256.8px,#f4f4fe 261.6px,#f4f4fe 266.4px,#f5f5fe 271.2px,#f6f6fe 275.9px,#f7f7fe 280.7px,#f8f8fe 285.5px)"></i>
<i style="top:28.0px;height:1.5px;background:linear-gradient(90deg,#7474e6 0.0px,#8080e9 4.8px,#8d8dec 9.6px,#9999ef 14.4px,#aaaaf2 19.4px,#babaf5 24.3px,#d1d1fa 28.8px,#e5e5fc 33.3px,#f2f2fe 36.4px,#ffffff 39.6px,#e4f2ee 42.6px,#c8e6de 45.7px,#a9d6c9 48.7px,#88c6b3 51.7px,#69b59d 56.6px,#2d9173 61.6px,#258b6d 65.2px,#1d8567 68.9px,#148062 72.6px,#1d8567 76.6px,#258b6d 80.6px,#2d9173 84.6px,#88c5b2 88.7px,#9bd0c0 92.2px,#aed9cc 95.7px,#d5ece6 100.2px,#ffffff 104.7px,#e8e8fc 109.7px,#d0d0fa 114.6px,#c4c4f7 118.7px,#b7b7f5 122.7px,#ababf2 126.8px,#aaaaf2 131.8px,#a8a8f2 136.7px,#a7a7f1 141.7px,#a6a6f1 146.7px,#aeaef3 151.5px,#b6b6f4 156.3px,#bfbff6 161.1px,#c7c7f8 165.9px,#cfcff9 170.7px,#d3d3fa 174.0px,#d7d7fb 177.4px,#dbdbfb 180.8px,#dfdffb 185.4px,#e4e4fc 190.0px,#e8e8fc 194.7px,#e9e9fd 199.4px,#eaeafd 204.2px,#eaeafd 209.0px,#ebebfd 213.8px,#ececfd 218.6px,#ededfd 223.3px,#eeeefd 228.1px,#efeffd 232.9px,#f0f0fd 237.7px,#f0f0fd 242.5px,#f1f1fd 247.2px,#f2f2fe 252.0px,#f3f3fe 256.8px,#f4f4fe 261.6px,#f5f5fe 266.4px,#f6f6fe 271.2px,#f6f6fe 275.9px,#f7f7fe 280.7px,#f8f8fe 285.5px)"></i>
<i style="top:29.0px;height:1.5px;background:linear-gradient(90deg,#7474e6 0.0px,#8181e9 4.8px,#8d8dec 9.7px,#9a9aef 14.5px,#aaaaf2 19.5px,#b9b9f5 24.5px,#d0d0fa 29.0px,#e4e4fc 33.4px,#f2f2fe 36.5px,#ffffff 39.5px,#e4f3ef 42.5px,#c8e6de 45.5px,#aad7c9 48.5px,#8ac7b4 51.5px,#6ab59d 56.5px,#2d9173 61.5px,#258b6d 65.2px,#1d8567 68.9px,#148062 72.5px,#1d8567 76.5px,#258b6d 80.5px,#2d9173 84.5px,#8ac7b4 88.6px,#9dd1c1 92.1px,#afd9cd 95.6px,#d6ece6 100.1px,#ffffff 104.6px,#e8e8fc 109.5px,#d2d2fa 114.5px,#c6c6f8 118.5px,#babaf5 122.6px,#aeaef3 126.6px,#adadf3 131.6px,#acacf2 136.6px,#aaaaf2 141.5px,#a9a9f2 146.5px,#b1b1f3 151.5px,#b9b9f5 156.4px,#c1c1f7 161.4px,#c9c9f8 166.4px,#d1d1fa 171.3px,#d6d6fa 174.7px,#dadafb 178.0px,#dedefb 181.3px,#e2e2fc 185.7px,#e5e5fc 190.1px,#e8e8fc 194.5px,#e9e9fd 199.3px,#eaeafd 204.1px,#ebebfd 208.9px,#ececfd 213.7px,#ededfd 218.5px,#ededfd 223.3px,#eeeefd 228.0px,#efeffd 232.8px,#f0f0fd 237.6px,#f1f1fd 242.4px,#f2f2fe 247.2px,#f2f2fe 252.0px,#f3f3fe 256.8px,#f4f4fe 261.6px,#f5f5fe 266.3px,#f6f6fe 271.1px,#f7f7fe 275.9px,#f7f7fe 280.7px,#f8f8fe 285.5px)"></i>
<i style="top:30.0px;height:1.5px;background:linear-gradient(90deg,#7474e6 0.0px,#8181e9 4.8px,#8e8eec 9.7px,#9a9aef 14.5px,#a5a5f1 17.9px,#afaff3 21.2px,#b9b9f5 24.6px,#d0d0fa 29.1px,#e4e4fc 33.6px,#f2f2fe 36.6px,#ffffff 39.5px,#e3f2ee 42.5px,#c8e6de 45.5px,#aad7c9 48.5px,#8bc7b4 51.5px,#6cb69f 56.5px,#2d9173 61.5px,#258b6d 65.1px,#1d8567 68.8px,#148062 72.5px,#1d8567 76.4px,#258b6d 80.4px,#2d9173 84.4px,#8dc8b6 88.4px,#9fd1c2 91.9px,#afdacd 95.4px,#d6ece6 99.9px,#ffffff 104.3px,#e8e8fc 109.3px,#d2d2fa 114.2px,#c6c6f8 118.2px,#babaf5 122.1px,#afaff3 126.1px,#aeaef3 130.1px,#adadf3 134.1px,#acacf2 138.1px,#ababf2 142.2px,#ababf2 146.2px,#b3b3f4 151.1px,#babaf5 156.1px,#c2c2f7 161.0px,#cacaf8 166.0px,#d2d2fa 170.9px,#d7d7fb 174.3px,#dbdbfb 177.7px,#e0e0fc 181.1px,#e3e3fc 185.4px,#e6e6fc 189.7px,#e9e9fd 194.0px,#eaeafd 198.8px,#eaeafd 203.6px,#ebebfd 208.4px,#ececfd 213.2px,#ededfd 218.1px,#eeeefd 222.9px,#efeffd 227.7px,#efeffd 232.5px,#f0f0fd 237.3px,#f1f1fd 242.1px,#f2f2fe 247.0px,#f3f3fe 251.8px,#f3f3fe 256.6px,#f4f4fe 261.4px,#f5f5fe 266.2px,#f6f6fe 271.0px,#f7f7fe 275.9px,#f7f7fe 280.7px,#f8f8fe 285.5px)"></i>
<i style="top:31.0px;height:1.5px;background:linear-gradient(90deg,#7575e7 0.0px,#8181e9 4.8px,#8e8eec 9.7px,#9a9aef 14.5px,#a5a5f1 17.9px,#afaff3 21.3px,#b9b9f5 24.7px,#d0d0fa 29.2px,#e5e5fc 33.7px,#f2f2fe 36.6px,#ffffff 39.6px,#e3f2ee 42.6px,#c7e6dd 45.6px,#aad7c9 48.6px,#8bc7b4 51.6px,#6fb8a1 56.5px,#2e9174 61.4px,#258b6d 65.1px,#1d8567 68.8px,#148062 72.4px,#1c8567 76.4px,#248b6d 80.3px,#2c9072 84.3px,#90cab8 88.3px,#a0d2c3 91.8px,#afdacd 95.2px,#d6ece6 99.6px,#ffffff 104.1px,#e8e8fc 108.9px,#d1d1fa 113.8px,#c6c6f8 117.7px,#babaf5 121.6px,#afaff3 125.5px,#aeaef3 129.6px,#adadf3 133.6px,#adadf3 137.6px,#acacf2 141.7px,#acacf2 145.7px,#b3b3f4 150.6px,#bbbbf5 155.5px,#c3c3f7 160.4px,#cacaf8 165.2px,#d2d2fa 170.1px,#d7d7fb 173.6px,#dbdbfb 177.0px,#e0e0fc 180.4px,#e3e3fc 184.7px,#e6e6fc 189.0px,#e9e9fd 193.2px,#eaeafd 198.1px,#ebebfd 202.9px,#ececfd 207.8px,#ededfd 212.6px,#ededfd 217.5px,#eeeefd 222.4px,#efeffd 227.2px,#f0f0fd 232.1px,#f0f0fd 236.9px,#f1f1fd 241.8px,#f2f2fe 246.6px,#f3f3fe 251.5px,#f4f4fe 256.4px,#f4f4fe 261.2px,#f5f5fe 266.1px,#f6f6fe 270.9px,#f7f7fe 275.8px,#f7f7fe 280.6px,#f8f8fe 285.5px)"></i>
<i style="top:32.0px;height:1.5px;background:linear-gradient(90deg,#7575e7 0.0px,#8282e9 4.8px,#8e8eec 9.7px,#9a9aef 14.5px,#a5a5f1 18.0px,#afaff3 21.4px,#babaf5 24.9px,#d0d0fa 29.3px,#e5e5fc 33.8px,#f2f2fe 36.7px,#ffffff 39.6px,#e3f2ee 42.6px,#c7e5dd 45.6px,#a9d7c9 48.6px,#8bc7b4 51.6px,#72baa3 56.5px,#2e9274 61.4px,#258c6e 65.0px,#1d8668 68.7px,#147f61 72.4px,#1c8567 76.3px,#248a6c 80.2px,#2b9072 84.1px,#93ccba 88.2px,#a2d3c4 91.6px,#b0dacd 95.0px,#d6ece6 99.4px,#ffffff 103.9px,#e8e8fc 108.6px,#d1d1fa 113.3px,#c5c5f7 117.2px,#babaf5 121.1px,#aeaef3 125.0px,#aeaef3 129.0px,#aeaef3 133.1px,#adadf3 137.1px,#adadf3 141.2px,#adadf3 145.2px,#b4b4f4 150.0px,#bcbcf6 154.9px,#c3c3f7 159.7px,#cbcbf9 164.5px,#d2d2fa 169.3px,#d7d7fb 172.8px,#dcdcfb 176.3px,#e0e0fc 179.8px,#e4e4fc 184.0px,#e7e7fc 188.2px,#eaeafd 192.4px,#ebebfd 197.3px,#ebebfd 202.2px,#ececfd 207.1px,#ededfd 212.0px,#eeeefd 216.9px,#eeeefd 221.8px,#efeffd 226.7px,#f0f0fd 231.6px,#f1f1fd 236.5px,#f1f1fd 241.4px,#f2f2fe 246.3px,#f3f3fe 251.2px,#f4f4fe 256.1px,#f4f4fe 261.0px,#f5f5fe 265.9px,#f6f6fe 270.8px,#f7f7fe 275.7px,#f7f7fe 280.6px,#f8f8fe 285.5px)"></i>
<i style="top:33.0px;height:1.5px;background:linear-gradient(90deg,#7676e7 0.0px,#8282e9 4.8px,#8e8eec 9.7px,#9a9aef 14.5px,#a5a5f1 18.0px,#afaff3 21.5px,#babaf5 25.0px,#d1d1fa 29.4px,#e6e6fc 33.9px,#f2f2fe 36.8px,#ffffff 39.7px,#e3f2ee 42.7px,#c6e5dd 45.7px,#a9d7c9 48.7px,#8bc7b4 51.7px,#76bba6 56.5px,#2f9274 61.3px,#268c6e 65.0px,#1d8668 68.7px,#148062 72.3px,#1c8567 76.2px,#238a6c 80.1px,#2b8f71 84.0px,#97cdbc 88.1px,#a3d4c5 91.5px,#b0dace 94.8px,#d6ece7 99.2px,#ffffff 103.6px,#e8e8fc 108.3px,#d0d0fa 112.9px,#c5c5f7 116.7px,#b9b9f5 120.6px,#aeaef3 124.4px,#aeaef3 128.5px,#aeaef3 132.5px,#aeaef3 136.6px,#aeaef3 140.7px,#aeaef3 144.7px,#b5b5f4 149.5px,#bcbcf6 154.2px,#c3c3f7 159.0px,#cbcbf9 163.8px,#d2d2fa 168.5px,#d7d7fb 172.1px,#dcdcfb 175.6px,#e1e1fc 179.2px,#e4e4fc 183.4px,#e7e7fc 187.5px,#eaeafd 191.7px,#ebebfd 196.6px,#ececfd 201.6px,#ededfd 206.5px,#ededfd 211.4px,#eeeefd 216.4px,#efeffd 221.3px,#f0f0fd 226.2px,#f0f0fd 231.2px,#f1f1fd 236.1px,#f2f2fe 241.1px,#f2f2fe 246.0px,#f3f3fe 250.9px,#f4f4fe 255.9px,#f5f5fe 260.8px,#f5f5fe 265.7px,#f6f6fe 270.7px,#f7f7fe 275.6px,#f8f8fe 280.6px,#f8f8fe 285.5px)"></i>
<i style="top:34.0px;height:1.5px;background:linear-gradient(90deg,#7676e7 0.0px,#8282e9 4.8px,#8e8eec 9.7px,#9999ef 14.5px,#a5a5f1 18.1px,#afaff3 21.6px,#babaf5 25.2px,#d1d1fa 29.6px,#e6e6fc 33.9px,#f3f3fe 36.8px,#ffffff 39.7px,#e2f2ee 42.7px,#c6e5dc 45.7px,#a9d6c9 48.7px,#8bc7b4 51.7px,#79bda8 56.5px,#2f9275 61.3px,#268c6e 64.9px,#1d8668 68.6px,#148062 72.3px,#1c8567 76.1px,#238a6c 80.0px,#2a8f71 83.8px,#99cfbe 88.1px,#a5d4c6 91.3px,#b0dace 94.6px,#d6ede7 99.0px,#ffffff 103.4px,#e7e7fc 107.9px,#d0d0fa 112.5px,#c4c4f7 116.3px,#b9b9f5 120.0px,#aeaef3 123.8px,#aeaef3 127.9px,#aeaef3 132.0px,#aeaef3 136.1px,#aeaef3 140.2px,#aeaef3 144.3px,#b6b6f4 148.9px,#bdbdf6 153.6px,#c4c4f7 158.3px,#cbcbf9 163.0px,#d2d2fa 167.7px,#d7d7fb 171.3px,#dcdcfb 175.0px,#e1e1fc 178.6px,#e4e4fc 182.7px,#e8e8fc 186.8px,#ebebfd 190.9px,#ececfd 195.9px,#ececfd 200.9px,#ededfd 205.9px,#eeeefd 210.8px,#eeeefd 215.8px,#efeffd 220.8px,#f0f0fd 225.8px,#f1f1fd 230.7px,#f1f1fd 235.7px,#f2f2fe 240.7px,#f3f3fe 245.7px,#f3f3fe 250.7px,#f4f4fe 255.6px,#f5f5fe 260.6px,#f5f5fe 265.6px,#f6f6fe 270.6px,#f7f7fe 275.5px,#f8f8fe 280.5px,#f8f8fe 285.5px)"></i>
<i style="top:35.0px;height:1.5px;background:linear-gradient(90deg,#7777e7 0.0px,#8282ea 4.8px,#8e8eec 9.7px,#9999ee 14.5px,#a5a5f1 18.1px,#afaff3 21.7px,#babaf5 25.3px,#d2d2fa 29.7px,#e6e6fc 34.0px,#f3f3fe 36.9px,#ffffff 39.8px,#e2f2ee 42.8px,#c5e5dc 45.8px,#a9d6c9 48.8px,#8bc7b4 51.8px,#7cbfaa 56.5px,#309375 61.2px,#268c6e 64.9px,#1d8668 68.6px,#148062 72.2px,#1b8466 76.0px,#22896b 79.9px,#298e70 83.7px,#9cd0c0 88.0px,#a6d5c7 91.2px,#b0dace 94.4px,#d6ede7 98.8px,#ffffff 103.1px,#e7e7fc 107.6px,#cfcff9 112.1px,#c4c4f7 115.8px,#b9b9f5 119.5px,#aeaef3 123.2px,#aeaef3 127.4px,#aeaef3 131.5px,#afaff3 135.6px,#afaff3 139.7px,#afaff3 143.8px,#b6b6f4 148.4px,#bdbdf6 153.0px,#c4c4f7 157.6px,#cbcbf9 162.3px,#d2d2fa 166.9px,#d7d7fb 170.6px,#dcdcfb 174.3px,#e1e1fc 178.0px,#e5e5fc 182.0px,#e8e8fc 186.1px,#ececfd 190.2px,#ececfd 194.9px,#ededfd 199.7px,#ededfd 204.5px,#eeeefd 209.2px,#efeffd 214.0px,#efeffd 218.8px,#f0f0fd 223.5px,#f1f1fd 228.3px,#f1f1fd 233.1px,#f2f2fe 237.8px,#f3f3fe 242.6px,#f3f3fe 247.4px,#f4f4fe 252.1px,#f4f4fe 256.9px,#f5f5fe 261.7px,#f6f6fe 266.4px,#f6f6fe 271.2px,#f7f7fe 276.0px,#f8f8fe 280.7px,#f8f8fe 285.5px)"></i>
<i style="top:36.0px;height:1.5px;background:linear-gradient(90deg,#7878e7 0.0px,#8383ea 4.8px,#8e8eec 9.7px,#9999ee 14.5px,#a4a4f1 18.2px,#b0b0f3 21.8px,#bbbbf5 25.5px,#d2d2fa 29.8px,#e7e7fc 34.1px,#f3f3fe 37.0px,#ffffff 39.8px,#e2f2ed 42.8px,#c5e4dc 45.8px,#a8d6c9 48.8px,#8bc7b4 51.8px,#7fc0ac 56.5px,#309375 61.2px,#268c6e 64.8px,#1d8668 68.5px,#158062 72.2px,#1b8466 76.0px,#22896b 79.8px,#298e70 83.5px,#9fd2c2 87.9px,#a8d6c8 91.0px,#b1dace 94.2px,#d7ede7 98.6px,#ffffff 102.9px,#e7e7fc 107.3px,#cfcff9 111.6px,#c4c4f7 115.3px,#b9b9f5 119.0px,#adadf3 122.7px,#aeaef3 126.8px,#afaff3 130.9px,#afaff3 135.1px,#b0b0f3 139.2px,#b0b0f3 143.3px,#b7b7f5 147.9px,#bebef6 152.4px,#c5c5f7 157.0px,#cbcbf9 161.5px,#d2d2fa 166.1px,#d7d7fb 169.8px,#dcdcfb 173.6px,#e2e2fc 177.4px,#e5e5fc 181.4px,#e9e9fd 185.4px,#ececfd 189.4px,#ededfd 194.2px,#ededfd 199.0px,#eeeefd 203.8px,#efeffd 208.6px,#efeffd 213.4px,#f0f0fd 218.2px,#f0f0fd 223.0px,#f1f1fd 227.8px,#f2f2fe 232.6px,#f2f2fe 237.4px,#f3f3fe 242.3px,#f3f3fe 247.1px,#f4f4fe 251.9px,#f5f5fe 256.7px,#f5f5fe 261.5px,#f6f6fe 266.3px,#f6f6fe 271.1px,#f7f7fe 275.9px,#f8f8fe 280.7px,#f8f8fe 285.5px)"></i>
<i style="top:37.0px;height:1.5px;background:linear-gradient(90deg,#7878e7 0.0px,#8383ea 4.8px,#8e8eec 9.7px,#9898ee 14.5px,#a4a4f1 18.2px,#b0b0f3 21.9px,#bbbbf5 25.6px,#d2d2fa 29.9px,#e7e7fc 34.2px,#f3f3fe 37.1px,#ffffff 39.9px,#e1f2ed 42.9px,#c4e4dc 45.9px,#a8d6c8 48.9px,#8bc7b4 51.9px,#82c2ae 56.5px,#319376 61.1px,#278c6e 64.8px,#1e8668 68.5px,#148062 72.1px,#1b8466 75.9px,#21896b 79.6px,#288d6f 83.4px,#a2d3c4 87.8px,#a9d7c9 90.9px,#b1dace 94.0px,#d7ede7 98.3px,#ffffff 102.7px,#e7e7fc 106.9px,#cecef9 111.2px,#c3c3f7 114.8px,#b8b8f5 118.5px,#adadf3 122.1px,#aeaef3 126.2px,#afaff3 130.4px,#b0b0f3 134.5px,#b0b0f3 138.7px,#b1b1f3 142.8px,#b8b8f5 147.3px,#bebef6 151.8px,#c5c5f7 156.3px,#cbcbf9 160.8px,#d2d2fa 165.3px,#d7d7fb 169.1px,#ddddfb 172.9px,#e2e2fc 176.7px,#e6e6fc 180.7px,#e9e9fd 184.7px,#ededfd 188.6px,#ededfd 193.5px,#eeeefd 198.3px,#eeeefd 203.2px,#efeffd 208.0px,#f0f0fd 212.9px,#f0f0fd 217.7px,#f1f1fd 222.5px,#f1f1fd 227.4px,#f2f2fe 232.2px,#f2f2fe 237.1px,#f3f3fe 241.9px,#f4f4fe 246.8px,#f4f4fe 251.6px,#f5f5fe 256.4px,#f5f5fe 261.3px,#f6f6fe 266.1px,#f7f7fe 271.0px,#f7f7fe 275.8px,#f8f8fe 280.7px,#f8f8fe 285.5px)"></i>
<i style="top:38.0px;height:1.5px;background:linear-gradient(90deg,#7979e7 0.0px,#8383ea 4.8px,#8e8eec 9.7px,#9898ee 14.5px,#a4a4f1 18.2px,#b0b0f3 22.0px,#bbbbf5 25.7px,#d3d3fa 30.0px,#e8e8fc 34.3px,#f3f3fe 37.1px,#ffffff 39.9px,#e1f1ed 42.9px,#c4e4db 45.9px,#a8d6c8 48.9px,#8bc7b4 51.9px,#85c4b0 56.5px,#319376 61.1px,#278d6f 64.8px,#1e8668 68.4px,#147f61 72.1px,#1b8466 75.8px,#21886a 79.5px,#278d6f 83.3px,#a5d4c6 87.7px,#abd7ca 90.8px,#b1dbce 93.8px,#d7ede7 98.1px,#ffffff 102.4px,#e7e7fc 106.6px,#cecef9 110.8px,#c3c3f7 114.4px,#b8b8f5 117.9px,#adadf3 121.5px,#aeaef3 125.7px,#afaff3 129.9px,#b0b0f3 134.0px,#b1b1f3 138.2px,#b2b2f4 142.4px,#b9b9f5 146.8px,#bfbff6 151.2px,#c5c5f7 155.6px,#ccccf9 160.0px,#d2d2fa 164.5px,#d7d7fb 168.3px,#ddddfb 172.2px,#e2e2fc 176.1px,#e6e6fc 180.0px,#eaeafd 184.0px,#ededfd 187.9px,#eeeefd 192.8px,#eeeefd 197.6px,#efeffd 202.5px,#efeffd 207.4px,#f0f0fd 212.3px,#f0f0fd 217.2px,#f1f1fd 222.0px,#f2f2fe 226.9px,#f2f2fe 231.8px,#f3f3fe 236.7px,#f3f3fe 241.6px,#f4f4fe 246.4px,#f4f4fe 251.3px,#f5f5fe 256.2px,#f5f5fe 261.1px,#f6f6fe 266.0px,#f7f7fe 270.9px,#f7f7fe 275.7px,#f8f8fe 280.6px,#f8f8fe 285.5px)"></i>
<i style="top:39.0px;height:1.5px;background:linear-gradient(90deg,#7979e8 0.0px,#8383ea 4.8px,#8e8eec 9.7px,#9898ee 14.5px,#a4a4f1 18.3px,#b0b0f3 22.1px,#bbbbf5 25.9px,#d3d3fa 30.2px,#e8e8fc 34.4px,#f4f4fe 37.2px,#ffffff 40.0px,#e1f1ed 43.0px,#c3e4db 46.0px,#a8d6c8 49.0px,#8bc7b4 52.0px,#88c6b3 56.5px,#329476 61.0px,#278d6f 64.7px,#1e8668 68.4px,#148062 72.0px,#1b8466 75.7px,#21886a 79.4px,#278c6e 83.1px,#a8d6c8 87.6px,#add8cb 90.6px,#b1dbcf 93.7px,#d7ede7 97.9px,#ffffff 102.2px,#e6e6fc 106.3px,#cdcdf9 110.3px,#c2c2f7 113.9px,#b8b8f5 117.4px,#adadf3 121.0px,#aeaef3 125.1px,#afaff3 129.3px,#b1b1f3 133.5px,#b2b2f4 137.7px,#b3b3f4 141.9px,#b9b9f5 146.2px,#c0c0f6 150.6px,#c6c6f8 154.9px,#ccccf9 159.3px,#d2d2fa 163.6px,#d8d8fb 167.6px,#ddddfb 171.5px,#e3e3fc 175.5px,#e6e6fc 179.4px,#eaeafd 183.2px,#eeeefd 187.1px,#eeeefd 192.0px,#efeffd 196.9px,#efeffd 201.9px,#f0f0fd 206.8px,#f0f0fd 211.7px,#f1f1fd 216.6px,#f1f1fd 221.5px,#f2f2fe 226.5px,#f2f2fe 231.4px,#f3f3fe 236.3px,#f4f4fe 241.2px,#f4f4fe 246.1px,#f5f5fe 251.1px,#f5f5fe 256.0px,#f6f6fe 260.9px,#f6f6fe 265.8px,#f7f7fe 270.7px,#f7f7fe 275.7px,#f8f8fe 280.6px,#f8f8fe 285.5px)"></i>
<i style="top:40.0px;height:1.5px;background:linear-gradient(90deg,#7a7ae8 0.0px,#8484ea 4.8px,#8e8eec 9.7px,#9898ee 14.5px,#a4a4f1 18.3px,#b0b0f3 22.2px,#bcbcf6 26.0px,#d3d3fa 30.3px,#e9e9fd 34.5px,#f4f4fe 37.3px,#ffffff 40.0px,#e1f1ed 43.0px,#c3e3db 46.0px,#a7d6c8 49.0px,#8bc7b4 52.0px,#8cc7b5 56.5px,#329477 61.0px,#278d6f 64.7px,#1e8668 68.3px,#148062 72.0px,#1a8466 75.7px,#20886a 79.3px,#268c6e 83.0px,#abd7ca 87.5px,#aed9cc 90.5px,#b2dbcf 93.5px,#d7ede7 97.7px,#ffffff 102.0px,#e6e6fc 105.9px,#cdcdf9 109.9px,#c2c2f7 113.4px,#b7b7f5 116.9px,#acacf2 120.4px,#aeaef3 124.6px,#b0b0f3 128.8px,#b1b1f3 133.0px,#b3b3f4 137.2px,#b4b4f4 141.4px,#babaf5 145.7px,#c0c0f6 150.0px,#c6c6f8 154.3px,#ccccf9 158.6px,#d2d2fa 162.8px,#d8d8fb 166.9px,#ddddfb 170.9px,#e3e3fc 174.9px,#e7e7fc 178.7px,#eaeafd 182.5px,#eeeefd 186.3px,#efeffd 191.3px,#efeffd 196.3px,#f0f0fd 201.2px,#f0f0fd 206.2px,#f1f1fd 211.1px,#f1f1fd 216.1px,#f2f2fe 221.1px,#f2f2fe 226.0px,#f3f3fe 231.0px,#f3f3fe 235.9px,#f4f4fe 240.9px,#f4f4fe 245.8px,#f5f5fe 250.8px,#f5f5fe 255.8px,#f6f6fe 260.7px,#f6f6fe 265.7px,#f7f7fe 270.6px,#f7f7fe 275.6px,#f8f8fe 280.5px,#f8f8fe 285.5px)"></i>
<i style="top:41.0px;height:1.5px;background:linear-gradient(90deg,#7a7ae8 0.0px,#8484ea 4.8px,#8e8eec 9.7px,#9797ee 14.5px,#a4a4f1 18.4px,#b0b0f3 22.3px,#bcbcf6 26.2px,#d4d4fa 30.4px,#e9e9fd 34.6px,#f4f4fe 37.3px,#ffffff 40.1px,#e0f1ed 43.1px,#c2e3da 46.1px,#a7d6c8 49.1px,#8bc7b4 52.1px,#8fc9b7 56.5px,#339477 60.9px,#278d6f 64.6px,#1e8668 68.3px,#148062 71.9px,#1a8365 75.6px,#208769 79.2px,#258b6d 82.8px,#add9cc 87.4px,#b0dacd 90.3px,#b2dbcf 93.3px,#d7ede7 97.5px,#ffffff 101.7px,#e6e6fc 105.6px,#ccccf9 109.5px,#c2c2f7 112.9px,#b7b7f5 116.4px,#acacf2 119.8px,#aeaef3 124.0px,#b0b0f3 128.3px,#b2b2f4 132.5px,#b3b3f4 136.7px,#b5b5f4 140.9px,#bbbbf5 145.1px,#c1c1f7 149.4px,#c6c6f8 153.6px,#ccccf9 157.8px,#d2d2fa 162.0px,#d8d8fb 166.1px,#dedefb 170.2px,#e3e3fc 174.3px,#e7e7fc 178.0px,#ebebfd 181.8px,#efeffd 185.6px,#efeffd 190.6px,#f0f0fd 195.6px,#f0f0fd 200.6px,#f1f1fd 205.6px,#f1f1fd 210.6px,#f2f2fe 215.6px,#f2f2fe 220.6px,#f3f3fe 225.6px,#f3f3fe 230.5px,#f4f4fe 235.5px,#f4f4fe 240.5px,#f4f4fe 245.5px,#f5f5fe 250.5px,#f5f5fe 255.5px,#f6f6fe 260.5px,#f6f6fe 265.5px,#f7f7fe 270.5px,#f7f7fe 275.5px,#f8f8fe 280.5px,#f8f8fe 285.5px)"></i>
<i style="top:42.0px;height:1.5px;background:linear-gradient(90deg,#7b7be8 0.0px,#8484ea 4.8px,#8e8eec 9.7px,#9797ee 14.5px,#a4a4f1 18.4px,#b0b0f3 22.4px,#bcbcf6 26.3px,#d4d4fa 30.5px,#e9e9fd 34.7px,#f4f4fe 37.4px,#ffffff 40.1px,#e0f1ed 43.1px,#c2e3da 46.1px,#a7d5c8 49.1px,#8bc7b4 52.1px,#92cbb9 56.5px,#339577 60.9px,#288d6f 64.6px,#1e8668 68.2px,#148062 71.9px,#1a8365 75.5px,#1f8769 79.1px,#258b6d 82.7px,#b0dace 87.3px,#b1dbce 90.2px,#b2dbcf 93.1px,#d7ede7 97.3px,#ffffff 101.5px,#e6e6fc 105.3px,#ccccf9 109.1px,#c1c1f7 112.5px,#b7b7f5 115.8px,#acacf2 119.2px,#aeaef3 123.5px,#b0b0f3 127.7px,#b2b2f4 132.0px,#b4b4f4 136.2px,#b6b6f4 140.5px,#bcbcf6 144.6px,#c1c1f7 148.8px,#c7c7f8 152.9px,#ccccf9 157.1px,#d2d2fa 161.2px,#d8d8fb 165.4px,#dedefb 169.5px,#e4e4fc 173.6px,#e7e7fc 177.4px,#ebebfd 181.1px,#efeffd 184.8px,#f0f0fd 189.6px,#f0f0fd 194.4px,#f1f1fd 199.2px,#f1f1fd 204.0px,#f1f1fd 208.8px,#f2f2fe 213.6px,#f2f2fe 218.4px,#f3f3fe 223.2px,#f3f3fe 228.0px,#f4f4fe 232.8px,#f4f4fe 237.6px,#f4f4fe 242.4px,#f5f5fe 247.1px,#f5f5fe 251.9px,#f6f6fe 256.7px,#f6f6fe 261.5px,#f7f7fe 266.3px,#f7f7fe 271.1px,#f7f7fe 275.9px,#f8f8fe 280.7px,#f8f8fe 285.5px)"></i>
<i style="top:43.0px;height:1.5px;background:linear-gradient(90deg,#7b7be8 0.0px,#8484ea 4.8px,#8e8eec 9.7px,#9797ee 14.5px,#a4a4f1 18.5px,#b0b0f3 22.5px,#bcbcf6 26.5px,#d4d4fa 30.6px,#eaeafd 34.8px,#f4f4fe 37.5px,#ffffff 40.2px,#e0f1ec 43.2px,#c1e3da 46.2px,#a7d5c7 49.2px,#8bc7b4 52.2px,#95ccbb 56.5px,#349578 60.8px,#288d6f 64.5px,#1e8668 68.2px,#148062 71.8px,#1a8365 75.4px,#1f8769 79.0px,#248a6c 82.5px,#b3dcd0 87.2px,#b3dbd0 90.0px,#b2dbcf 92.9px,#d8ede7 97.1px,#ffffff 101.2px,#e6e6fc 104.9px,#cbcbf9 108.6px,#c1c1f7 112.0px,#b6b6f4 115.3px,#acacf2 118.7px,#aeaef3 122.9px,#b0b0f3 127.2px,#b3b3f4 131.5px,#b5b5f4 135.7px,#b7b7f5 140.0px,#bcbcf6 144.1px,#c2c2f7 148.1px,#c7c7f8 152.2px,#cdcdf9 156.3px,#d2d2fa 160.4px,#d8d8fb 164.6px,#dedefb 168.8px,#e4e4fc 173.0px,#e8e8fc 176.7px,#ececfd 180.4px,#f0f0fd 184.1px,#f0f0fd 188.9px,#f1f1fd 193.7px,#f1f1fd 198.6px,#f1f1fd 203.4px,#f2f2fe 208.2px,#f2f2fe 213.0px,#f3f3fe 217.9px,#f3f3fe 222.7px,#f3f3fe 227.5px,#f4f4fe 232.4px,#f4f4fe 237.2px,#f5f5fe 242.0px,#f5f5fe 246.9px,#f5f5fe 251.7px,#f6f6fe 256.5px,#f6f6fe 261.3px,#f7f7fe 266.2px,#f7f7fe 271.0px,#f7f7fe 275.8px,#f8f8fe 280.7px,#f8f8fe 285.5px)"></i>
<i style="top:44.0px;height:1.5px;background:linear-gradient(90deg,#7c7ce8 0.0px,#8585ea 4.8px,#8e8eec 9.7px,#9797ee 14.5px,#a4a4f1 18.5px,#b0b0f3 22.6px,#bcbcf6 26.6px,#d4d4fa 30.8px,#eaeafd 34.9px,#f5f5fe 37.6px,#ffffff 40.2px,#e0f1ec 43.2px,#c1e2d9 46.2px,#a6d5c7 49.2px,#8bc7b4 52.2px,#98cebd 56.5px,#349578 60.8px,#288e70 64.5px,#1e8668 68.1px,#158062 71.8px,#198365 75.3px,#1e8668 78.9px,#238a6c 82.4px,#b6ddd2 87.1px,#b4dcd1 89.9px,#b3dbcf 92.7px,#d8ede7 96.8px,#ffffff 101.0px,#e5e5fc 104.6px,#cbcbf9 108.2px,#bbbbf5 113.2px,#ababf2 118.1px,#aeaef3 122.4px,#b0b0f3 126.7px,#b3b3f4 130.9px,#b5b5f4 135.2px,#b8b8f5 139.5px,#bdbdf6 143.5px,#c2c2f7 147.5px,#c8c8f8 151.6px,#cdcdf9 155.6px,#d2d2fa 159.6px,#d8d8fb 163.9px,#dedefb 168.1px,#e4e4fc 172.4px,#e8e8fc 176.0px,#ececfd 179.7px,#f0f0fd 183.3px,#f1f1fd 188.2px,#f1f1fd 193.0px,#f1f1fe 197.9px,#f2f2fe 202.8px,#f2f2fe 207.6px,#f3f3fe 212.5px,#f3f3fe 217.4px,#f3f3fe 222.2px,#f4f4fe 227.1px,#f4f4fe 232.0px,#f4f4fe 236.8px,#f5f5fe 241.7px,#f5f5fe 246.6px,#f6f6fe 251.4px,#f6f6fe 256.3px,#f6f6fe 261.2px,#f7f7fe 266.0px,#f7f7fe 270.9px,#f7f7fe 275.8px,#f8f8fe 280.6px,#f8f8fe 285.5px)"></i>
<i style="top:45.0px;height:1.5px;background:linear-gradient(90deg,#7c7ce8 0.0px,#8585ea 4.8px,#8e8eec 9.7px,#9696ee 14.5px,#a4a4f1 18.6px,#b0b0f3 22.7px,#bdbdf6 26.7px,#d5d5fa 30.9px,#ebebfd 35.0px,#f5f5fe 37.6px,#ffffff 40.2px,#dff1ec 43.2px,#c1e2d9 46.2px,#a6d5c7 49.2px,#8bc7b4 52.2px,#9bcfbf 56.5px,#349578 60.8px,#288e70 64.4px,#1e8769 68.1px,#148062 71.8px,#198365 75.3px,#1e8668 78.8px,#238a6c 82.3px,#b9ded4 87.0px,#b6ddd2 89.8px,#b3dbd0 92.5px,#d8ede7 96.6px,#ffffff 100.8px,#e5e5fc 104.3px,#cbcbf9 107.8px,#bbbbf5 112.6px,#ababf2 117.5px,#aeaef3 121.8px,#b1b1f3 126.1px,#b3b3f4 130.4px,#b6b6f4 134.7px,#b9b9f5 139.0px,#bfbff6 144.0px,#c5c5f7 148.9px,#ccccf9 153.8px,#d2d2fa 158.8px,#d8d8fb 163.1px,#dedefb 167.5px,#e5e5fc 171.8px,#e9e9fd 175.4px,#ededfd 179.0px,#f1f1fd 182.5px,#f1f1fd 187.4px,#f2f2fe 192.3px,#f2f2fe 197.2px,#f2f2fe 202.1px,#f3f3fe 207.1px,#f3f3fe 212.0px,#f3f3fe 216.9px,#f4f4fe 221.8px,#f4f4fe 226.7px,#f4f4fe 231.6px,#f5f5fe 236.5px,#f5f5fe 241.4px,#f5f5fe 246.3px,#f6f6fe 251.2px,#f6f6fe 256.1px,#f7f7fe 261.0px,#f7f7fe 265.9px,#f7f7fe 270.8px,#f8f8fe 275.7px,#f8f8fe 280.6px,#f8f8fe 285.5px)"></i>
<i style="top:46.0px;height:1.5px;background:linear-gradient(90deg,#7d7de8 0.0px,#8585ea 4.8px,#8e8eec 9.7px,#9696ee 14.5px,#a4a4f1 18.6px,#b0b0f3 22.8px,#bdbdf6 26.9px,#d5d5fa 31.0px,#ebebfd 35.1px,#f5f5fe 37.7px,#ffffff 40.3px,#dff1ec 43.3px,#c0e2d9 46.3px,#a6d5c7 49.3px,#8bc7b4 52.3px,#9ed1c1 56.5px,#359679 60.7px,#298e70 64.4px,#1f8769 68.0px,#148062 71.7px,#198365 75.2px,#1d8668 78.6px,#22896b 82.1px,#bce0d6 86.9px,#b7ded3 89.6px,#b3dbd0 92.3px,#d8ede8 96.4px,#ffffff 100.5px,#e5e5fc 103.9px,#cacaf8 107.3px,#bbbbf5 112.2px,#ababf2 117.0px,#aeaef3 121.3px,#b1b1f3 125.6px,#b4b4f4 129.9px,#b7b7f5 134.2px,#babaf5 138.5px,#c0c0f6 143.4px,#c6c6f8 148.3px,#ccccf9 153.1px,#d2d2fa 158.0px,#d8d8fb 162.4px,#dfdffb 166.8px,#e5e5fc 171.2px,#e9e9fd 174.7px,#ededfd 178.2px,#f1f1fd 181.8px,#f2f2fe 186.7px,#f2f2fe 191.7px,#f2f2fe 196.6px,#f3f3fe 201.5px,#f3f3fe 206.5px,#f3f3fe 211.4px,#f4f4fe 216.4px,#f4f4fe 221.3px,#f4f4fe 226.2px,#f5f5fe 231.2px,#f5f5fe 236.1px,#f5f5fe 241.0px,#f6f6fe 246.0px,#f6f6fe 250.9px,#f6f6fe 255.9px,#f7f7fe 260.8px,#f7f7fe 265.7px,#f7f7fe 270.7px,#f8f8fe 275.6px,#f8f8fe 280.6px,#f8f8fe 285.5px)"></i>
<i style="top:47.0px;height:1.5px;background:linear-gradient(90deg,#7d7de8 0.0px,#8585ea 4.8px,#8e8eec 9.7px,#9696ee 14.5px,#a4a4f1 18.7px,#b0b0f3 22.9px,#bdbdf6 27.0px,#d5d5fa 31.1px,#ececfd 35.2px,#f5f5fe 37.8px,#ffffff 40.3px,#dff0ec 43.3px,#c0e2d8 46.3px,#a6d5c7 49.3px,#8bc7b4 52.3px,#a1d2c3 56.5px,#359679 60.7px,#298e70 64.3px,#1f8769 68.0px,#148062 71.7px,#198365 75.1px,#1d8668 78.5px,#21896b 82.0px,#bfe1d8 86.8px,#b9ded4 89.5px,#b3dcd0 92.1px,#d8ede8 96.2px,#ffffff 100.3px,#e5e5fc 103.6px,#cacaf8 106.9px,#babaf5 111.6px,#ababf2 116.4px,#aeaef3 120.7px,#b1b1f3 125.1px,#b4b4f4 129.4px,#b8b8f5 133.7px,#bbbbf5 138.1px,#c1c1f7 142.8px,#c6c6f8 147.6px,#ccccf9 152.4px,#d2d2fa 157.2px,#d8d8fb 161.6px,#dfdffb 166.1px,#e5e5fc 170.5px,#e9e9fd 174.0px,#eeeefd 177.5px,#f2f2fe 181.0px,#f2f2fe 186.0px,#f3f3fe 191.0px,#f3f3fe 195.9px,#f3f3fe 200.9px,#f3f3fe 205.9px,#f4f4fe 210.9px,#f4f4fe 215.8px,#f4f4fe 220.8px,#f5f5fe 225.8px,#f5f5fe 230.8px,#f5f5fe 235.7px,#f6f6fe 240.7px,#f6f6fe 245.7px,#f6f6fe 250.7px,#f6f6fe 255.6px,#f7f7fe 260.6px,#f7f7fe 265.6px,#f7f7fe 270.6px,#f8f8fe 275.5px,#f8f8fe 280.5px,#f8f8fe 285.5px)"></i>
<i style="top:48.0px;height:1.5px;background:linear-gradient(90deg,#7e7ee9 0.0px,#8686ea 4.8px,#8e8eec 9.7px,#9696ee 14.5px,#a4a4f1 18.7px,#b0b0f3 22.9px,#bdbdf6 27.2px,#d6d6fa 31.2px,#ececfd 35.3px,#f6f6fe 37.8px,#ffffff 40.4px,#dff0ec 43.4px,#bfe2d8 46.4px,#a6d5c7 49.4px,#8bc7b4 52.4px,#a3d4c5 56.5px,#369679 60.6px,#298e70 64.3px,#1f8769 67.9px,#148062 71.6px,#198264 75.0px,#1d8567 78.4px,#21886a 81.8px,#c1e3da 86.7px,#badfd5 89.3px,#b3dcd0 91.9px,#d8ede8 96.0px,#ffffff 100.0px,#e4e4fc 103.3px,#c9c9f8 106.5px,#babaf5 111.1px,#ababf2 115.8px,#aeaef3 120.2px,#b1b1f3 124.5px,#b5b5f4 128.9px,#b8b8f5 133.2px,#bcbcf6 137.6px,#c1c1f7 142.3px,#c7c7f8 147.0px,#ccccf9 151.7px,#d2d2fa 156.4px,#d9d9fb 160.9px,#dfdffb 165.4px,#e6e6fc 169.9px,#eaeafd 173.4px,#eeeefd 176.8px,#f3f3fe 180.3px,#f3f3fe 185.0px,#f3f3fe 189.8px,#f3f3fe 194.6px,#f4f4fe 199.4px,#f4f4fe 204.2px,#f4f4fe 209.0px,#f4f4fe 213.7px,#f5f5fe 218.5px,#f5f5fe 223.3px,#f5f5fe 228.1px,#f5f5fe 232.9px,#f6f6fe 237.7px,#f6f6fe 242.4px,#f6f6fe 247.2px,#f6f6fe 252.0px,#f7f7fe 256.8px,#f7f7fe 261.6px,#f7f7fe 266.4px,#f7f7fe 271.1px,#f8f8fe 275.9px,#f8f8fe 280.7px,#f8f8fe 285.5px)"></i>
<i style="top:49.0px;height:1.5px;background:linear-gradient(90deg,#7e7ee9 0.0px,#8686ea 4.8px,#8e8eec 9.7px,#9595ee 14.5px,#a3a3f1 18.8px,#b1b1f3 23.0px,#bebef6 27.3px,#d6d6fa 31.3px,#ececfd 35.4px,#f6f6fe 37.9px,#ffffff 40.4px,#def0eb 43.4px,#bfe1d8 46.4px,#a5d5c6 49.4px,#8bc7b4 52.4px,#a6d5c7 56.5px,#36977a 60.6px,#298e70 64.2px,#1f8769 67.9px,#148062 71.6px,#188264 74.9px,#1c8567 78.3px,#20886a 81.7px,#c4e4db 86.6px,#bce0d6 89.2px,#b4dcd0 91.7px,#d8ede8 95.8px,#ffffff 99.8px,#e4e4fc 102.9px,#c9c9f8 106.1px,#b9b9f5 110.6px,#aaaaf2 115.2px,#aeaef3 119.6px,#b2b2f4 124.0px,#b5b5f4 128.4px,#b9b9f5 132.7px,#bdbdf6 137.1px,#c2c2f7 141.7px,#c7c7f8 146.3px,#cdcdf9 150.9px,#d2d2fa 155.6px,#d9d9fb 160.1px,#dfdffb 164.7px,#e6e6fc 169.3px,#eaeafd 172.7px,#efeffd 176.1px,#f3f3fe 179.5px,#f3f3fe 184.3px,#f4f4fe 189.1px,#f4f4fe 193.9px,#f4f4fe 198.8px,#f4f4fe 203.6px,#f4f4fe 208.4px,#f5f5fe 213.2px,#f5f5fe 218.0px,#f5f5fe 222.9px,#f5f5fe 227.7px,#f6f6fe 232.5px,#f6f6fe 237.3px,#f6f6fe 242.1px,#f6f6fe 247.0px,#f7f7fe 251.8px,#f7f7fe 256.6px,#f7f7fe 261.4px,#f7f7fe 266.2px,#f8f8fe 271.0px,#f8f8fe 275.9px,#f8f8fe 280.7px,#f8f8fe 285.5px)"></i>
<i style="top:50.0px;height:1.5px;background:linear-gradient(90deg,#7f7fe9 0.0px,#8686ea 4.8px,#8e8eec 9.7px,#9595ee 14.5px,#a3a3f1 18.8px,#b1b1f3 23.1px,#bebef6 27.5px,#d6d6fa 31.5px,#ededfd 35.5px,#f6f6fe 38.0px,#ffffff 40.5px,#def0eb 43.5px,#bee1d7 46.5px,#a5d5c6 49.5px,#8bc7b4 52.5px,#a9d7c9 56.5px,#37977a 60.5px,#298e70 64.2px,#1f8769 67.8px,#148062 71.5px,#188264 74.9px,#1c8567 78.2px,#1f8769 81.5px,#c7e6dd 86.5px,#bee1d7 89.0px,#b4dcd0 91.6px,#d8ede8 95.6px,#ffffff 99.6px,#e4e4fc 102.6px,#c8c8f8 105.6px,#b9b9f5 110.2px,#aaaaf2 114.7px,#aeaef3 119.1px,#b2b2f4 123.5px,#b6b6f4 127.9px,#babaf5 132.2px,#bebef6 136.6px,#c3c3f7 141.2px,#c8c8f8 145.7px,#cdcdf9 150.2px,#d2d2fa 154.7px,#d9d9fb 159.4px,#dfdffb 164.0px,#e6e6fc 168.7px,#ebebfd 172.0px,#efeffd 175.4px,#f4f4fe 178.7px,#f4f4fe 183.6px,#f4f4fe 188.4px,#f4f4fe 193.3px,#f4f4fe 198.1px,#f5f5fe 203.0px,#f5f5fe 207.8px,#f5f5fe 212.7px,#f5f5fe 217.6px,#f5f5fe 222.4px,#f6f6fe 227.3px,#f6f6fe 232.1px,#f6f6fe 237.0px,#f6f6fe 241.8px,#f7f7fe 246.7px,#f7f7fe 251.5px,#f7f7fe 256.4px,#f7f7fe 261.2px,#f7f7fe 266.1px,#f8f8fe 270.9px,#f8f8fe 275.8px,#f8f8fe 280.6px,#f8f8fe 285.5px)"></i>
<i style="top:51.0px;height:1.5px;background:linear-gradient(90deg,#7f7fe9 0.0px,#8686ea 4.8px,#8e8eec 9.7px,#9595ee 14.5px,#a3a3f1 18.9px,#b1b1f3 23.3px,#bebef6 27.6px,#d6d6fa 31.7px,#ededfd 35.7px,#ffffff 40.6px,#def0eb 43.6px,#bee1d7 46.6px,#a5d5c6 49.6px,#8bc7b5 52.6px,#aad7ca 56.6px,#37977a 60.5px,#2a8e70 64.2px,#1f8769 67.9px,#148062 71.5px,#1a8365 76.5px,#1f8769 81.5px,#c8e6de 86.5px,#b5dcd1 91.4px,#d9eee8 95.4px,#ffffff 99.4px,#e4e4fc 102.4px,#c8c8f8 105.4px,#b9b9f5 109.9px,#a9a9f2 114.5px,#adadf3 118.9px,#b1b1f3 123.2px,#b6b6f4 127.6px,#babaf5 131.9px,#bebef6 136.3px,#c3c3f7 140.8px,#c8c8f8 145.3px,#cdcdf9 149.7px,#d2d2fa 154.2px,#d9d9fb 158.9px,#dfdffc 163.5px,#e6e6fc 168.2px,#ededfd 173.1px,#f4f4fe 178.1px,#f4f4fe 182.9px,#f4f4fe 187.8px,#f4f4fe 192.7px,#f5f5fe 197.6px,#f5f5fe 202.5px,#f5f5fe 207.4px,#f5f5fe 212.2px,#f5f5fe 217.1px,#f6f6fe 222.0px,#f6f6fe 226.9px,#f6f6fe 231.8px,#f6f6fe 236.7px,#f6f6fe 241.5px,#f7f7fe 246.4px,#f7f7fe 251.3px,#f7f7fe 256.2px,#f7f7fe 261.1px,#f7f7fe 266.0px,#f8f8fe 270.8px,#f8f8fe 275.7px,#f8f8fe 280.6px,#f8f8fe 285.5px)"></i>
<i style="top:52.0px;height:1.5px;background:linear-gradient(90deg,#7f7fe9 0.0px,#8686ea 4.8px,#8d8dec 9.7px,#9494ed 14.5px,#a3a3f1 18.9px,#b1b1f3 23.4px,#bfbff6 27.8px,#d6d6fa 31.9px,#ededfd 35.9px,#ffffff 40.8px,#dff0ec 43.8px,#bfe2d8 46.8px,#a6d5c7 49.8px,#8cc8b5 52.7px,#aad7ca 56.7px,#37977a 60.6px,#2a8f71 64.3px,#1f8769 67.9px,#158062 71.6px,#1a8466 76.6px,#20886a 81.5px,#c8e6de 86.4px,#b6ddd2 91.3px,#daeee9 95.2px,#ffffff 99.2px,#e4e4fc 102.2px,#c8c8f8 105.2px,#b8b8f5 109.8px,#a8a8f2 114.5px,#acacf2 118.8px,#b1b1f3 123.1px,#b5b5f4 127.4px,#babaf5 131.7px,#bebef6 136.0px,#c3c3f7 140.4px,#c8c8f8 144.9px,#cdcdf9 149.4px,#d2d2fa 153.9px,#d9d9fb 158.5px,#dfdffc 163.1px,#e6e6fc 167.8px,#ededfd 172.6px,#f4f4fe 177.4px,#f4f4fe 182.3px,#f4f4fe 187.3px,#f4f4fe 192.2px,#f5f5fe 197.1px,#f5f5fe 202.0px,#f5f5fe 206.9px,#f5f5fe 211.8px,#f5f5fe 216.7px,#f6f6fe 221.6px,#f6f6fe 226.6px,#f6f6fe 231.5px,#f6f6fe 236.4px,#f6f6fe 241.3px,#f7f7fe 246.2px,#f7f7fe 251.1px,#f7f7fe 256.0px,#f7f7fe 260.9px,#f7f7fe 265.9px,#f8f8fe 270.8px,#f8f8fe 275.7px,#f8f8fe 280.6px,#f8f8fe 285.5px)"></i>
<i style="top:53.0px;height:1.5px;background:linear-gradient(90deg,#7f7fe9 0.0px,#8686ea 4.8px,#8d8dec 9.7px,#9494ed 14.5px,#a3a3f1 19.0px,#b1b1f3 23.5px,#bfbff6 28.0px,#d6d6fa 32.1px,#ececfd 36.2px,#ffffff 41.0px,#dff0ec 44.0px,#c0e2d8 47.0px,#a7d5c7 49.9px,#8dc8b6 52.8px,#aad7ca 56.8px,#37977a 60.7px,#2a8e70 64.3px,#1f8769 68.0px,#148062 71.7px,#1a8466 76.6px,#20886a 81.5px,#c8e6de 86.3px,#b7ded3 91.2px,#daeee9 95.1px,#ffffff 99.0px,#e4e4fc 102.0px,#c8c8f8 105.0px,#b7b7f5 109.7px,#a7a7f1 114.5px,#ababf2 118.7px,#b0b0f3 123.0px,#b5b5f4 127.2px,#b9b9f5 131.4px,#bebef6 135.7px,#c3c3f7 140.1px,#c8c8f8 144.6px,#cdcdf9 149.0px,#d2d2fa 153.5px,#d9d9fb 158.1px,#e0e0fc 162.7px,#e6e6fc 167.3px,#ededfd 172.1px,#f4f4fe 176.8px,#f4f4fe 181.8px,#f4f4fe 186.7px,#f4f4fe 191.6px,#f5f5fe 196.6px,#f5f5fe 201.5px,#f5f5fe 206.5px,#f5f5fe 211.4px,#f5f5fe 216.3px,#f6f6fe 221.3px,#f6f6fe 226.2px,#f6f6fe 231.2px,#f6f6fe 236.1px,#f6f6fe 241.0px,#f7f7fe 246.0px,#f7f7fe 250.9px,#f7f7fe 255.9px,#f7f7fe 260.8px,#f7f7fe 265.7px,#f8f8fe 270.7px,#f8f8fe 275.6px,#f8f8fe 280.6px,#f8f8fe 285.5px)"></i>
<i style="top:54.0px;height:1.5px;background:linear-gradient(90deg,#7f7fe9 0.0px,#8686ea 4.8px,#8d8dec 9.7px,#9494ed 14.5px,#a3a3f1 19.1px,#b1b1f3 23.6px,#bfbff6 28.2px,#d6d6fa 32.3px,#ececfd 36.4px,#ffffff 41.2px,#dff1ec 44.2px,#c0e2d9 47.2px,#a7d6c8 50.1px,#8ec8b6 53.0px,#aad7ca 57.0px,#37977a 60.7px,#2a8e70 64.4px,#1f8769 68.1px,#148062 71.7px,#1b8466 76.6px,#21886a 81.5px,#c8e6de 86.3px,#b9ded4 91.0px,#dbefe9 94.9px,#ffffff 98.8px,#e4e4fc 101.8px,#c8c8f8 104.8px,#b7b7f5 109.7px,#a5a5f1 114.5px,#aaaaf2 118.7px,#afaff3 122.8px,#b4b4f4 127.0px,#b9b9f5 131.2px,#bebef6 135.3px,#c3c3f7 139.8px,#c8c8f8 144.2px,#cdcdf9 148.7px,#d2d2fa 153.1px,#d9d9fb 157.7px,#e0e0fc 162.3px,#e6e6fc 166.9px,#ededfd 171.5px,#f4f4fe 176.2px,#f4f4fe 181.2px,#f4f4fe 186.1px,#f4f4fe 191.1px,#f5f5fe 196.1px,#f5f5fe 201.0px,#f5f5fe 206.0px,#f5f5fe 211.0px,#f5f5fe 215.9px,#f6f6fe 220.9px,#f6f6fe 225.9px,#f6f6fe 230.8px,#f6f6fe 235.8px,#f6f6fe 240.8px,#f7f7fe 245.8px,#f7f7fe 250.7px,#f7f7fe 255.7px,#f7f7fe 260.7px,#f7f7fe 265.6px,#f8f8fe 270.6px,#f8f8fe 275.6px,#f8f8fe 280.5px,#f8f8fe 285.5px)"></i>
<i style="top:55.0px;height:1.5px;background:linear-gradient(90deg,#7f7fe9 0.0px,#8686ea 4.8px,#8d8dec 9.7px,#9393ed 14.5px,#a3a3f1 19.1px,#b1b1f3 23.8px,#bfbff6 28.4px,#d6d6fa 32.5px,#ececfd 36.7px,#ffffff 41.4px,#e0f1ec 44.4px,#c1e2d9 47.4px,#a8d6c8 50.2px,#8ec9b7 53.1px,#aad7ca 57.1px,#37977a 60.8px,#2a8e70 64.5px,#1f8769 68.1px,#147f61 71.8px,#1b8466 76.6px,#21886a 81.5px,#c8e6de 86.2px,#badfd4 90.9px,#dcefea 94.8px,#ffffff 98.6px,#e4e4fc 101.6px,#c8c8f8 104.6px,#b6b6f4 109.6px,#a4a4f1 114.5px,#a9a9f2 118.6px,#aeaef3 122.7px,#b4b4f4 126.8px,#b9b9f5 130.9px,#bebef6 135.0px,#c3c3f7 139.5px,#c8c8f8 143.9px,#cdcdf9 148.3px,#d2d2fa 152.7px,#d9d9fb 157.3px,#dfdffc 161.9px,#e6e6fc 166.4px,#ededfd 171.0px,#f4f4fe 175.6px,#f4f4fe 180.6px,#f4f4fe 185.6px,#f4f4fe 190.6px,#f5f5fe 195.6px,#f5f5fe 200.5px,#f5f5fe 205.5px,#f5f5fe 210.5px,#f5f5fe 215.5px,#f6f6fe 220.5px,#f6f6fe 225.5px,#f6f6fe 230.5px,#f6f6fe 235.5px,#f6f6fe 240.5px,#f7f7fe 245.5px,#f7f7fe 250.5px,#f7f7fe 255.5px,#f7f7fe 260.5px,#f7f7fe 265.5px,#f8f8fe 270.5px,#f8f8fe 275.5px,#f8f8fe 280.5px,#f8f8fe 285.5px)"></i>
<i style="top:56.0px;height:1.5px;background:linear-gradient(90deg,#7f7fe9 0.0px,#8686ea 4.8px,#8c8cec 9.7px,#9393ed 14.5px,#a3a3f1 19.2px,#b1b1f3 23.9px,#c0c0f6 28.6px,#d6d6fa 32.7px,#ebebfd 36.9px,#ffffff 41.6px,#e0f1ec 44.6px,#c2e3da 47.6px,#a9d6c9 50.4px,#8fc9b7 53.2px,#aad7ca 57.2px,#37977a 60.9px,#2a8e70 64.5px,#1f8769 68.2px,#148062 71.9px,#1b8466 76.7px,#21896b 81.5px,#c8e6de 86.1px,#bbe0d5 90.8px,#dcefea 94.6px,#ffffff 98.4px,#e4e4fc 101.4px,#c8c8f8 104.4px,#bcbcf6 107.8px,#afaff3 111.1px,#a3a3f1 114.5px,#a8a8f2 118.5px,#aeaef3 122.6px,#b3b3f4 126.6px,#b9b9f5 130.7px,#bebef6 134.7px,#c3c3f7 139.1px,#c8c8f8 143.5px,#cdcdf9 148.0px,#d2d2fa 152.4px,#d9d9fb 156.9px,#e0e0fc 161.5px,#e6e6fc 166.0px,#ededfd 170.5px,#f4f4fe 174.9px,#f4f4fe 179.7px,#f4f4fe 184.6px,#f4f4fe 189.4px,#f5f5fe 194.2px,#f5f5fe 199.0px,#f5f5fe 203.8px,#f5f5fe 208.6px,#f5f5fe 213.4px,#f6f6fe 218.2px,#f6f6fe 223.0px,#f6f6fe 227.8px,#f6f6fe 232.6px,#f6f6fe 237.4px,#f6f6fe 242.2px,#f7f7fe 247.0px,#f7f7fe 251.9px,#f7f7fe 256.7px,#f7f7fe 261.5px,#f7f7fe 266.3px,#f8f8fe 271.1px,#f8f8fe 275.9px,#f8f8fe 280.7px,#f8f8fe 285.5px)"></i>
<i style="top:57.0px;height:1.5px;background:linear-gradient(90deg,#7f7fe9 0.0px,#8686ea 4.8px,#8c8cec 9.7px,#9393ed 14.5px,#a3a3f1 19.3px,#b1b1f3 24.0px,#c0c0f6 28.8px,#d6d6fa 33.0px,#ebebfd 37.2px,#ffffff 41.8px,#e0f1ed 44.8px,#c2e3da 47.8px,#a9d7c9 50.5px,#90cab8 53.3px,#aad7ca 57.3px,#37977a 60.9px,#2a8e70 64.6px,#1f8769 68.3px,#148062 71.9px,#1b8466 76.7px,#22896b 81.5px,#c8e6de 86.1px,#bce0d6 90.7px,#ddf0eb 94.5px,#ffffff 98.2px,#e4e4fc 101.2px,#c8c8f8 104.2px,#bbbbf5 107.7px,#aeaef3 111.1px,#a2a2f0 114.5px,#a9a9f2 119.5px,#b0b0f3 124.5px,#b7b7f5 129.4px,#bebef6 134.4px,#c3c3f7 138.8px,#c8c8f8 143.2px,#cdcdf9 147.6px,#d2d2fa 152.0px,#d9d9fb 156.5px,#e0e0fc 161.0px,#e6e6fc 165.6px,#ededfd 169.9px,#f4f4fe 174.3px,#f4f4fe 179.1px,#f4f4fe 184.0px,#f4f4fe 188.8px,#f5f5fe 193.6px,#f5f5fe 198.5px,#f5f5fe 203.3px,#f5f5fe 208.2px,#f5f5fe 213.0px,#f6f6fe 217.8px,#f6f6fe 222.7px,#f6f6fe 227.5px,#f6f6fe 232.3px,#f6f6fe 237.2px,#f6f6fe 242.0px,#f7f7fe 246.8px,#f7f7fe 251.7px,#f7f7fe 256.5px,#f7f7fe 261.3px,#f7f7fe 266.2px,#f8f8fe 271.0px,#f8f8fe 275.8px,#f8f8fe 280.7px,#f8f8fe 285.5px)"></i>
<i style="top:58.0px;height:1.5px;background:linear-gradient(90deg,#7f7fe9 0.0px,#8585ea 4.8px,#8c8cec 9.7px,#9292ed 14.5px,#a3a3f1 19.3px,#b1b1f3 24.1px,#c0c0f6 28.9px,#d6d6fa 33.2px,#ebebfd 37.4px,#ffffff 41.9px,#e1f1ed 44.9px,#c3e3da 47.9px,#aad7c9 50.7px,#90cab8 53.5px,#aad7ca 57.5px,#37977a 61.0px,#2a8e70 64.6px,#1f8769 68.3px,#148062 72.0px,#1b8466 76.7px,#22896b 81.5px,#c8e6de 86.0px,#bee1d7 90.5px,#def0eb 94.3px,#ffffff 98.1px,#e4e4fc 101.1px,#c8c8f8 104.1px,#bbbbf5 107.5px,#aeaef3 111.0px,#a0a0f0 114.5px,#a8a8f2 119.4px,#afaff3 124.3px,#b7b7f5 129.2px,#bebef6 134.1px,#c3c3f7 138.5px,#c8c8f8 142.9px,#cdcdf9 147.2px,#d2d2fa 151.6px,#d9d9fb 156.1px,#dfdffc 160.6px,#e6e6fc 165.1px,#ededfd 169.4px,#f4f4fe 173.7px,#f4f4fe 178.5px,#f4f4fe 183.4px,#f4f4fe 188.3px,#f5f5fe 193.1px,#f5f5fe 198.0px,#f5f5fe 202.9px,#f5f5fe 207.7px,#f5f5fe 212.6px,#f6f6fe 217.4px,#f6f6fe 222.3px,#f6f6fe 227.2px,#f6f6fe 232.0px,#f6f6fe 236.9px,#f6f6fe 241.7px,#f7f7fe 246.6px,#f7f7fe 251.5px,#f7f7fe 256.3px,#f7f7fe 261.2px,#f7f7fe 266.1px,#f8f8fe 270.9px,#f8f8fe 275.8px,#f8f8fe 280.6px,#f8f8fe 285.5px)"></i>
<i style="top:59.0px;height:1.5px;background:linear-gradient(90deg,#7f7fe9 0.0px,#8585ea 4.8px,#8c8cec 9.7px,#9292ed 14.5px,#a2a2f0 19.4px,#b2b2f4 24.3px,#c1c1f7 29.1px,#d6d6fa 33.4px,#ebebfd 37.7px,#ffffff 42.1px,#e1f1ed 45.1px,#c3e4db 48.1px,#aad7ca 50.9px,#91cab9 53.6px,#aad7ca 57.6px,#37977a 61.0px,#2a8e70 64.7px,#1f8769 68.4px,#148062 72.0px,#1c8567 76.8px,#238a6c 81.5px,#c8e6de 86.0px,#bfe1d8 90.4px,#def0eb 94.1px,#ffffff 97.9px,#e4e4fc 100.9px,#c8c8f8 103.9px,#babaf5 107.4px,#adadf3 111.0px,#9f9ff0 114.5px,#a7a7f1 119.3px,#afaff3 124.1px,#b6b6f4 129.0px,#bebef6 133.8px,#c3c3f7 138.1px,#c8c8f8 142.5px,#cdcdf9 146.9px,#d2d2fa 151.2px,#d9d9fb 155.7px,#e0e0fc 160.2px,#e6e6fc 164.7px,#ededfd 168.9px,#f4f4fe 173.1px,#f4f4fe 178.0px,#f4f4fe 182.8px,#f4f4fe 187.7px,#f5f5fe 192.6px,#f5f5fe 197.5px,#f5f5fe 202.4px,#f5f5fe 207.3px,#f5f5fe 212.2px,#f6f6fe 217.1px,#f6f6fe 221.9px,#f6f6fe 226.8px,#f6f6fe 231.7px,#f6f6fe 236.6px,#f6f6fe 241.5px,#f7f7fe 246.4px,#f7f7fe 251.3px,#f7f7fe 256.2px,#f7f7fe 261.1px,#f7f7fe 265.9px,#f8f8fe 270.8px,#f8f8fe 275.7px,#f8f8fe 280.6px,#f8f8fe 285.5px)"></i>
<i style="top:60.0px;height:1.5px;background:linear-gradient(90deg,#7f7fe9 0.0px,#8585ea 4.8px,#8b8bec 9.7px,#9292ed 14.5px,#a2a2f0 19.4px,#b2b2f4 24.4px,#c1c1f7 29.3px,#d6d6fa 33.6px,#eaeafd 37.9px,#ffffff 42.3px,#e1f2ed 45.3px,#c4e4db 48.3px,#abd8ca 51.0px,#92cbb9 53.7px,#aad7ca 57.7px,#37977a 61.1px,#2a8e70 64.8px,#1f8769 68.4px,#148062 72.1px,#1c8567 76.8px,#238a6c 81.5px,#c8e6de 85.9px,#c0e2d9 90.3px,#dff1ec 94.0px,#ffffff 97.7px,#e4e4fc 100.7px,#c8c8f8 103.7px,#babaf5 107.3px,#acacf2 110.9px,#9e9eef 114.5px,#a6a6f1 119.2px,#aeaef3 124.0px,#b6b6f4 128.7px,#bebef6 133.5px,#c3c3f7 137.8px,#c8c8f8 142.2px,#cdcdf9 146.5px,#d2d2fa 150.9px,#d9d9fb 155.3px,#e0e0fc 159.8px,#e6e6fc 164.3px,#ededfd 168.3px,#f4f4fe 172.4px,#f4f4fe 177.4px,#f4f4fe 182.3px,#f4f4fe 187.2px,#f5f5fe 192.1px,#f5f5fe 197.0px,#f5f5fe 201.9px,#f5f5fe 206.8px,#f5f5fe 211.8px,#f6f6fe 216.7px,#f6f6fe 221.6px,#f6f6fe 226.5px,#f6f6fe 231.4px,#f6f6fe 236.3px,#f6f6fe 241.3px,#f7f7fe 246.2px,#f7f7fe 251.1px,#f7f7fe 256.0px,#f7f7fe 260.9px,#f7f7fe 265.8px,#f8f8fe 270.8px,#f8f8fe 275.7px,#f8f8fe 280.6px,#f8f8fe 285.5px)"></i>
<i style="top:61.0px;height:1.5px;background:linear-gradient(90deg,#7f7fe9 0.0px,#8585ea 4.8px,#8b8beb 9.7px,#9191ed 14.5px,#9e9ef0 18.3px,#aaaaf2 22.0px,#b6b6f4 25.8px,#c1c1f7 29.5px,#d6d6fa 33.8px,#eaeafd 38.2px,#ffffff 42.5px,#e2f2ed 45.5px,#c5e4dc 48.5px,#acd8cb 51.2px,#92cbb9 53.8px,#aad7ca 57.8px,#37977a 61.2px,#2a8e70 64.8px,#1f8769 68.5px,#148062 72.2px,#1c8567 76.8px,#248a6c 81.5px,#c8e6de 85.8px,#c1e3d9 90.2px,#e0f1ec 93.8px,#ffffff 97.5px,#e4e4fc 100.5px,#c8c8f8 103.5px,#babaf5 107.2px,#ababf2 110.8px,#9c9cef 114.5px,#a5a5f1 119.2px,#adadf3 123.8px,#b6b6f4 128.5px,#bebef6 133.2px,#c3c3f7 137.5px,#c8c8f8 141.8px,#cdcdf9 146.2px,#d2d2fa 150.5px,#d9d9fb 154.9px,#e0e0fc 159.4px,#e6e6fc 163.8px,#ededfd 167.8px,#f4f4fe 171.8px,#f4f4fe 176.8px,#f4f4fe 181.7px,#f4f4fe 186.6px,#f5f5fe 191.6px,#f5f5fe 196.5px,#f5f5fe 201.5px,#f5f5fe 206.4px,#f5f5fe 211.4px,#f6f6fe 216.3px,#f6f6fe 221.2px,#f6f6fe 226.2px,#f6f6fe 231.1px,#f6f6fe 236.1px,#f6f6fe 241.0px,#f7f7fe 246.0px,#f7f7fe 250.9px,#f7f7fe 255.8px,#f7f7fe 260.8px,#f7f7fe 265.7px,#f8f8fe 270.7px,#f8f8fe 275.6px,#f8f8fe 280.6px,#f8f8fe 285.5px)"></i>
<i style="top:62.0px;height:1.5px;background:linear-gradient(90deg,#7f7fe9 0.0px,#8585ea 4.8px,#8b8beb 9.7px,#9191ed 14.5px,#9e9ef0 18.3px,#aaaaf2 22.1px,#b6b6f4 25.9px,#c2c2f7 29.7px,#d6d6fa 34.1px,#eaeafd 38.4px,#ffffff 42.7px,#e2f2ee 45.7px,#c5e5dc 48.7px,#acd8cb 51.3px,#93cbba 54.0px,#aad7ca 58.0px,#37977a 61.2px,#2a8e70 64.9px,#1f8769 68.6px,#148062 72.2px,#1c8567 76.9px,#248b6d 81.5px,#c8e6de 85.8px,#c3e3da 90.0px,#e1f1ed 93.7px,#ffffff 97.3px,#e4e4fc 100.3px,#c8c8f8 103.3px,#b9b9f5 107.0px,#aaaaf2 110.8px,#9b9bef 114.5px,#a4a4f1 119.1px,#adadf3 123.7px,#b5b5f4 128.3px,#bebef6 132.8px,#c3c3f7 137.2px,#c8c8f8 141.5px,#cdcdf9 145.8px,#d2d2fa 150.1px,#d9d9fb 154.5px,#e0e0fc 159.0px,#e6e6fc 163.4px,#ededfd 167.3px,#f4f4fe 171.2px,#f4f4fe 176.2px,#f4f4fe 181.1px,#f4f4fe 186.1px,#f5f5fe 191.1px,#f5f5fe 196.0px,#f5f5fe 201.0px,#f5f5fe 206.0px,#f5f5fe 210.9px,#f6f6fe 215.9px,#f6f6fe 220.9px,#f6f6fe 225.9px,#f6f6fe 230.8px,#f6f6fe 235.8px,#f6f6fe 240.8px,#f7f7fe 245.7px,#f7f7fe 250.7px,#f7f7fe 255.7px,#f7f7fe 260.6px,#f7f7fe 265.6px,#f8f8fe 270.6px,#f8f8fe 275.6px,#f8f8fe 280.5px,#f8f8fe 285.5px)"></i>
<i style="top:63.0px;height:1.5px;background:linear-gradient(90deg,#7f7fe9 0.0px,#8585ea 4.8px,#8b8beb 9.7px,#9191ed 14.5px,#9e9ef0 18.3px,#aaaaf2 22.2px,#b6b6f4 26.0px,#c2c2f7 29.9px,#d6d6fa 34.3px,#e9e9fd 38.7px,#ffffff 42.9px,#e2f2ee 45.9px,#c6e5dd 48.9px,#add8cc 51.5px,#94ccba 54.1px,#aad7ca 58.1px,#37977a 61.3px,#2a8e70 65.0px,#1f8769 68.6px,#148062 72.3px,#1d8567 76.9px,#258b6d 81.5px,#c8e6de 85.7px,#c4e4db 89.9px,#e1f1ed 93.5px,#ffffff 97.1px,#e4e4fc 100.1px,#c8c8f8 103.1px,#b9b9f5 106.9px,#a9a9f2 110.7px,#9a9aef 114.5px,#a3a3f1 119.0px,#acacf2 123.5px,#b5b5f4 128.0px,#bebef6 132.5px,#c3c3f7 136.8px,#c8c8f8 141.1px,#cdcdf9 145.4px,#d2d2fa 149.7px,#d9d9fb 154.1px,#e0e0fc 158.5px,#e6e6fc 162.9px,#ededfd 166.8px,#f4f4fe 170.6px,#f4f4fe 175.6px,#f4f4fe 180.6px,#f4f4fe 185.6px,#f5f5fe 190.6px,#f5f5fe 195.5px,#f5f5fe 200.5px,#f5f5fe 205.5px,#f5f5fe 210.5px,#f6f6fe 215.5px,#f6f6fe 220.5px,#f6f6fe 225.5px,#f6f6fe 230.5px,#f6f6fe 235.5px,#f6f6fe 240.5px,#f7f7fe 245.5px,#f7f7fe 250.5px,#f7f7fe 255.5px,#f7f7fe 260.5px,#f7f7fe 265.5px,#f8f8fe 270.5px,#f8f8fe 275.5px,#f8f8fe 280.5px,#f8f8fe 285.5px)"></i>
<i style="top:64.0px;height:1.5px;background:linear-gradient(90deg,#7f7fe9 0.0px,#8585ea 4.8px,#8b8beb 9.7px,#9090ed 14.5px,#9e9eef 18.4px,#aaaaf2 22.3px,#b6b6f4 26.2px,#c2c2f7 30.1px,#d6d6fa 34.5px,#e9e9fd 38.9px,#ffffff 43.1px,#e3f2ee 46.1px,#c7e5dd 49.1px,#aed9cc 51.6px,#94ccbb 54.2px,#aad7ca 58.2px,#37977a 61.4px,#2a8e70 65.0px,#1f8769 68.7px,#148062 72.4px,#1d8567 76.9px,#258b6d 81.5px,#c8e6de 85.6px,#c5e5dc 89.8px,#e2f2ee 93.4px,#ffffff 96.9px,#e4e4fc 99.9px,#c8c8f8 102.9px,#b8b8f5 106.8px,#a9a9f2 110.6px,#9898ee 114.5px,#a2a2f0 118.9px,#ababf2 123.4px,#b5b5f4 127.8px,#bebef6 132.2px,#c3c3f7 136.5px,#c8c8f8 140.8px,#cdcdf9 145.1px,#d2d2fa 149.4px,#d9d9fb 153.7px,#dfdffc 158.1px,#e6e6fc 162.5px,#ededfd 166.2px,#f4f4fe 169.9px,#f4f4fe 174.8px,#f4f4fe 179.6px,#f4f4fe 184.4px,#f4f4fe 189.2px,#f5f5fe 194.0px,#f5f5fe 198.8px,#f5f5fe 203.6px,#f5f5fe 208.5px,#f5f5fe 213.3px,#f6f6fe 218.1px,#f6f6fe 222.9px,#f6f6fe 227.7px,#f6f6fe 232.5px,#f6f6fe 237.3px,#f7f7fe 242.2px,#f7f7fe 247.0px,#f7f7fe 251.8px,#f7f7fe 256.6px,#f7f7fe 261.4px,#f7f7fe 266.2px,#f8f8fe 271.1px,#f8f8fe 275.9px,#f8f8fe 280.7px,#f8f8fe 285.5px)"></i>
<i style="top:65.0px;height:1.5px;background:linear-gradient(90deg,#7f7fe9 0.0px,#8585ea 4.8px,#8a8aeb 9.7px,#9090ec 14.5px,#9d9def 18.4px,#aaaaf2 22.4px,#b6b6f4 26.3px,#c3c3f7 30.3px,#d6d6fa 34.7px,#e9e9fd 39.2px,#ffffff 43.3px,#e3f2ee 46.3px,#c7e6dd 49.3px,#aed9cc 51.8px,#95cdbb 54.3px,#aad7ca 58.3px,#37977a 61.4px,#2a8e70 65.1px,#1f8769 68.8px,#148062 72.4px,#1d8668 77.0px,#258c6e 81.5px,#c8e6de 85.6px,#c6e5dd 89.7px,#e3f2ee 93.2px,#ffffff 96.7px,#e4e4fc 99.7px,#c8c8f8 102.7px,#b8b8f5 106.7px,#a8a8f2 110.6px,#9797ee 114.5px,#a1a1f0 118.9px,#ababf2 123.2px,#b4b4f4 127.6px,#bebef6 131.9px,#c3c3f7 136.2px,#c8c8f8 140.4px,#cdcdf9 144.7px,#d2d2fa 149.0px,#d9d9fb 153.3px,#e0e0fc 157.7px,#e6e6fc 162.1px,#ededfd 165.7px,#f4f4fe 169.3px,#f4f4fe 174.2px,#f4f4fe 179.0px,#f4f4fe 183.8px,#f4f4fe 188.7px,#f5f5fe 193.5px,#f5f5fe 198.4px,#f5f5fe 203.2px,#f5f5fe 208.0px,#f5f5fe 212.9px,#f6f6fe 217.7px,#f6f6fe 222.6px,#f6f6fe 227.4px,#f6f6fe 232.2px,#f6f6fe 237.1px,#f7f7fe 241.9px,#f7f7fe 246.8px,#f7f7fe 251.6px,#f7f7fe 256.5px,#f7f7fe 261.3px,#f7f7fe 266.1px,#f8f8fe 271.0px,#f8f8fe 275.8px,#f8f8fe 280.7px,#f8f8fe 285.5px)"></i>
<i style="top:66.0px;height:1.5px;background:linear-gradient(90deg,#7f7fe9 0.0px,#8585ea 4.8px,#8a8aeb 9.7px,#9090ec 14.5px,#9d9def 18.5px,#aaaaf2 22.5px,#b6b6f4 26.5px,#c3c3f7 30.4px,#d6d6fa 34.9px,#e9e9fd 39.4px,#ffffff 43.4px,#e3f2ee 46.4px,#c8e6de 49.4px,#afd9cd 52.0px,#96cdbc 54.5px,#aad7ca 58.5px,#37977a 61.5px,#2a8e70 65.1px,#1f8769 68.8px,#148062 72.5px,#1d8668 77.0px,#268c6e 81.5px,#c8e6de 85.5px,#c8e6de 89.5px,#e3f2ee 93.0px,#ffffff 96.6px,#e4e4fc 99.6px,#c8c8f8 102.6px,#b7b7f5 106.5px,#a7a7f1 110.5px,#9595ee 114.5px,#a0a0f0 118.8px,#aaaaf2 123.0px,#b4b4f4 127.3px,#bebef6 131.6px,#c3c3f7 135.8px,#c8c8f8 140.1px,#cdcdf9 144.4px,#d2d2fa 148.6px,#d9d9fb 153.0px,#e0e0fc 157.3px,#e6e6fc 161.6px,#ededfd 165.2px,#f4f4fe 168.7px,#f4f4fe 173.6px,#f4f4fe 178.4px,#f4f4fe 183.3px,#f4f4fe 188.2px,#f5f5fe 193.0px,#f5f5fe 197.9px,#f5f5fe 202.8px,#f5f5fe 207.6px,#f5f5fe 212.5px,#f6f6fe 217.4px,#f6f6fe 222.2px,#f6f6fe 227.1px,#f6f6fe 232.0px,#f6f6fe 236.8px,#f7f7fe 241.7px,#f7f7fe 246.6px,#f7f7fe 251.4px,#f7f7fe 256.3px,#f7f7fe 261.2px,#f7f7fe 266.0px,#f8f8fe 270.9px,#f8f8fe 275.8px,#f8f8fe 280.6px,#f8f8fe 285.5px)"></i>
<i style="top:67.0px;height:1.5px;background:linear-gradient(90deg,#8080e9 0.0px,#8585ea 4.9px,#8a8aeb 9.7px,#9090ec 14.6px,#9e9eef 18.6px,#aaaaf2 22.7px,#b7b7f5 26.7px,#c3c3f7 30.7px,#d7d7fb 35.2px,#e8e8fc 39.7px,#ffffff 43.7px,#e4f3ef 46.6px,#c9e6df 49.6px,#97cebd 54.6px,#aad7c9 58.6px,#38977b 61.6px,#2a8f71 65.2px,#1f8769 68.9px,#158062 72.5px,#1e8668 77.0px,#278c6e 81.5px,#c8e6de 85.5px,#c9e6df 89.5px,#e4f3ef 92.9px,#ffffff 96.4px,#e4e4fc 99.4px,#c8c8f8 102.4px,#b9b9f5 106.4px,#a9a9f2 110.3px,#9898ee 114.3px,#a3a3f1 118.6px,#acacf2 122.9px,#b6b6f4 127.2px,#c0c0f6 131.5px,#c4c4f7 135.7px,#c9c9f8 140.0px,#cecef9 144.2px,#d3d3fa 148.4px,#d9d9fb 152.7px,#e0e0fc 157.0px,#e6e6fc 161.3px,#ededfd 164.8px,#f4f4fe 168.3px,#f4f4fe 173.2px,#f4f4fe 178.1px,#f4f4fe 183.0px,#f4f4fe 187.9px,#f5f5fe 192.8px,#f5f5fe 197.6px,#f5f5fe 202.5px,#f5f5fe 207.4px,#f5f5fe 212.3px,#f6f6fe 217.2px,#f6f6fe 222.0px,#f6f6fe 226.9px,#f6f6fe 231.8px,#f6f6fe 236.7px,#f7f7fe 241.6px,#f7f7fe 246.4px,#f7f7fe 251.3px,#f7f7fe 256.2px,#f7f7fe 261.1px,#f7f7fe 266.0px,#f8f8fe 270.9px,#f8f8fe 275.7px,#f8f8fe 280.6px,#f8f8fe 285.5px)"></i>
<i style="top:68.0px;height:1.5px;background:linear-gradient(90deg,#8181e9 0.0px,#8686ea 4.9px,#8b8beb 9.8px,#9191ed 14.7px,#9e9ef0 18.8px,#ababf2 22.9px,#b7b7f5 27.0px,#c3c3f7 31.1px,#d7d7fb 35.5px,#e8e8fc 39.9px,#ffffff 43.9px,#e5f3ef 46.8px,#cae7df 49.8px,#99cebe 54.8px,#a9d7c9 58.7px,#39987b 61.7px,#2b8f71 65.3px,#20886a 68.9px,#158062 72.5px,#1e8668 77.0px,#278d6f 81.4px,#c7e6dd 85.4px,#cae7df 89.4px,#e5f3ef 92.8px,#ffffff 96.2px,#e4e4fc 99.2px,#c9c9f8 102.2px,#babaf5 106.2px,#acacf2 110.1px,#9d9def 114.0px,#a7a7f1 118.4px,#b0b0f3 122.8px,#b9b9f5 127.1px,#c2c2f7 131.5px,#c6c6f8 135.7px,#cbcbf9 139.9px,#d0d0fa 144.1px,#d4d4fa 148.3px,#dadafb 152.6px,#e0e0fc 156.9px,#e6e6fc 161.1px,#ededfd 164.6px,#f4f4fe 168.1px,#f4f4fe 173.0px,#f4f4fe 177.9px,#f4f4fe 182.8px,#f4f4fe 187.7px,#f5f5fe 192.6px,#f5f5fe 197.5px,#f5f5fe 202.4px,#f5f5fe 207.2px,#f5f5fe 212.1px,#f6f6fe 217.0px,#f6f6fe 221.9px,#f6f6fe 226.8px,#f6f6fe 231.7px,#f6f6fe 236.6px,#f7f7fe 241.5px,#f7f7fe 246.4px,#f7f7fe 251.3px,#f7f7fe 256.2px,#f7f7fe 261.0px,#f8f8fe 265.9px,#f8f8fe 270.8px,#f8f8fe 275.7px,#f8f8fe 280.6px,#f8f8fe 285.5px)"></i>
<i style="top:69.0px;height:1.5px;background:linear-gradient(90deg,#8181e9 0.0px,#8787ea 4.9px,#8c8cec 9.9px,#9191ed 14.8px,#9f9ff0 19.0px,#ababf2 23.1px,#b7b7f5 27.2px,#c4c4f7 31.4px,#d7d7fb 35.8px,#e9e9fc 40.1px,#ffffff 44.1px,#e5f3ef 47.0px,#cbe8e0 50.0px,#9acfbf 55.0px,#a8d6c9 58.8px,#3a997c 61.8px,#2b9072 65.4px,#20886a 68.9px,#168062 72.5px,#1f8769 76.9px,#288d6f 81.3px,#c6e5dd 85.4px,#cbe8e0 89.4px,#e5f3ef 92.7px,#ffffff 96.1px,#e5e5fc 99.1px,#cacaf8 102.1px,#bcbcf6 106.0px,#afaff3 109.9px,#a2a2f0 113.8px,#aaaaf2 118.2px,#b3b3f4 122.6px,#bbbbf6 127.1px,#c4c4f7 131.5px,#c9c9f8 135.7px,#cdcdf9 139.8px,#d2d2fa 144.0px,#d6d6fa 148.2px,#dbdbfb 152.4px,#e1e1fc 156.7px,#e6e6fc 160.9px,#ededfd 164.4px,#f4f4fe 167.9px,#f4f4fe 172.8px,#f4f4fe 177.7px,#f4f4fe 182.6px,#f5f5fe 187.5px,#f5f5fe 192.4px,#f5f5fe 197.3px,#f5f5fe 202.2px,#f5f5fe 207.1px,#f5f5fe 212.0px,#f6f6fe 216.9px,#f6f6fe 221.8px,#f6f6fe 226.7px,#f6f6fe 231.6px,#f6f6fe 236.5px,#f7f7fe 241.4px,#f7f7fe 246.3px,#f7f7fe 251.2px,#f7f7fe 256.1px,#f7f7fe 261.0px,#f7f7fe 265.9px,#f8f8fe 270.8px,#f8f8fe 275.7px,#f8f8fe 280.6px,#f8f8fe 285.5px)"></i>
<i style="top:70.0px;height:1.5px;background:linear-gradient(90deg,#8282ea 0.0px,#8888eb 5.0px,#8d8dec 9.9px,#9292ed 14.9px,#9f9ff0 19.1px,#acacf2 23.3px,#b8b8f5 27.5px,#c4c4f7 31.7px,#d7d7fb 36.0px,#e8e8fc 40.3px,#ffffff 44.3px,#e6f4f0 47.2px,#cde8e1 50.1px,#9cd0c0 55.1px,#a8d6c8 58.9px,#3b997d 61.9px,#2c9072 65.4px,#21886a 69.0px,#168163 72.5px,#1f8769 76.9px,#298e70 81.3px,#c6e5dd 85.3px,#cde8e1 89.3px,#e6f4f0 92.6px,#ffffff 95.9px,#e5e5fc 98.9px,#cacaf8 101.9px,#bebef6 105.7px,#b2b2f4 109.6px,#a6a6f1 113.5px,#aeaef3 118.0px,#b6b6f4 122.5px,#bebef6 127.0px,#c6c6f8 131.5px,#cbcbf9 135.6px,#cfcff9 139.8px,#d3d3fa 143.9px,#d7d7fb 148.1px,#dcdcfb 152.3px,#e1e1fc 156.5px,#e6e6fc 160.7px,#ededfd 164.2px,#f4f4fe 167.7px,#f4f4fe 172.6px,#f4f4fe 177.5px,#f4f4fe 182.4px,#f4f4fe 187.3px,#f5f5fe 192.2px,#f5f5fe 197.1px,#f5f5fe 202.0px,#f5f5fe 207.0px,#f5f5fe 211.9px,#f6f6fe 216.8px,#f6f6fe 221.7px,#f6f6fe 226.6px,#f6f6fe 231.5px,#f6f6fe 236.4px,#f7f7fe 241.3px,#f7f7fe 246.2px,#f7f7fe 251.1px,#f7f7fe 256.0px,#f7f7fe 261.0px,#f7f7fe 265.9px,#f8f8fe 270.8px,#f8f8fe 275.7px,#f8f8fe 280.6px,#f8f8fe 285.5px)"></i>
<i style="top:71.0px;height:1.5px;background:linear-gradient(90deg,#8383ea 0.0px,#8787eb 3.8px,#8b8beb 7.5px,#8f8fec 11.3px,#9292ed 15.0px,#a0a0f0 19.3px,#acacf2 23.5px,#b8b8f5 27.8px,#c4c4f7 32.1px,#d7d7fb 36.3px,#e8e8fc 40.5px,#ffffff 44.5px,#e6f4f0 47.4px,#cee9e1 50.3px,#9ed1c1 55.3px,#a7d6c8 59.0px,#3c9a7e 62.0px,#2d9173 65.5px,#21896b 69.0px,#168163 72.5px,#20886a 76.9px,#2a8f71 81.2px,#c5e5dc 85.2px,#cee9e1 89.2px,#e6f4f0 92.5px,#ffffff 95.7px,#e5e5fc 98.7px,#cbcbf9 101.7px,#c0c0f6 105.5px,#b5b5f4 109.4px,#ababf2 113.2px,#b2b2f4 117.8px,#babaf5 122.3px,#c1c1f7 126.9px,#c8c8f8 131.5px,#cdcdf9 135.6px,#d1d1fa 139.7px,#d5d5fa 143.9px,#d8d8fb 148.0px,#ddddfb 152.1px,#e2e2fc 156.3px,#e6e6fc 160.5px,#ededfd 164.0px,#f4f4fe 167.5px,#f4f4fe 172.4px,#f4f4fe 177.3px,#f4f4fe 182.2px,#f4f4fe 187.1px,#f5f5fe 192.0px,#f5f5fe 197.0px,#f5f5fe 201.9px,#f5f5fe 206.8px,#f5f5fe 211.7px,#f6f6fe 216.6px,#f6f6fe 221.6px,#f6f6fe 226.5px,#f6f6fe 231.4px,#f6f6fe 236.3px,#f7f7fe 241.2px,#f7f7fe 246.2px,#f7f7fe 251.1px,#f7f7fe 256.0px,#f7f7fe 260.9px,#f7f7fe 265.8px,#f8f8fe 270.7px,#f8f8fe 275.7px,#f8f8fe 280.6px,#f8f8fe 285.5px)"></i>
<i style="top:72.0px;height:1.5px;background:linear-gradient(90deg,#8484ea 0.0px,#8888eb 3.8px,#8c8cec 7.6px,#8f8fec 11.3px,#9393ed 15.1px,#a0a0f0 19.4px,#acacf2 23.8px,#b8b8f5 28.1px,#c5c5f7 32.4px,#d7d7fb 36.6px,#e8e8fc 40.8px,#ffffff 44.8px,#e7f4f1 47.6px,#cfe9e2 50.4px,#a0d2c2 55.4px,#a7d5c7 59.1px,#3d9b7e 62.1px,#2d9173 65.6px,#22896b 69.0px,#178163 72.5px,#21886a 76.8px,#2a8f71 81.2px,#c5e4dc 85.2px,#cfe9e2 89.2px,#e7f4f1 92.4px,#ffffff 95.5px,#e5e5fc 98.5px,#cbcbf9 101.5px,#c2c2f7 105.3px,#b9b9f5 109.1px,#afaff3 112.9px,#b6b6f4 117.6px,#bdbdf6 122.2px,#c4c4f7 126.9px,#cbcbf9 131.5px,#cfcff9 135.6px,#d3d3fa 139.7px,#d6d6fa 143.8px,#dadafb 147.9px,#dedefb 152.0px,#e2e2fc 156.1px,#e6e6fc 160.2px,#ededfd 163.7px,#f4f4fe 167.2px,#f4f4fe 172.2px,#f4f4fe 177.1px,#f4f4fe 182.0px,#f4f4fe 186.9px,#f5f5fe 191.9px,#f5f5fe 196.8px,#f5f5fe 201.7px,#f5f5fe 206.7px,#f5f5fe 211.6px,#f6f6fe 216.5px,#f6f6fe 221.4px,#f6f6fe 226.4px,#f6f6fe 231.3px,#f6f6fe 236.2px,#f7f7fe 241.1px,#f7f7fe 246.1px,#f7f7fe 251.0px,#f7f7fe 255.9px,#f7f7fe 260.9px,#f7f7fe 265.8px,#f8f8fe 270.7px,#f8f8fe 275.6px,#f8f8fe 280.6px,#f8f8fe 285.5px)"></i>
<i style="top:73.0px;height:1.5px;background:linear-gradient(90deg,#8585ea 0.0px,#8989eb 3.8px,#8c8cec 7.6px,#9090ed 11.4px,#9494ed 15.2px,#a1a1f0 19.6px,#adadf3 24.0px,#b9b9f5 28.4px,#c5c5f7 32.7px,#d7d7fb 36.9px,#e8e8fc 41.0px,#ffffff 45.0px,#e8f4f1 47.8px,#d0eae3 50.6px,#a1d3c4 55.6px,#a6d5c7 59.2px,#3e9b7f 62.2px,#2e9274 65.7px,#22896b 69.1px,#178163 72.5px,#21896b 76.8px,#2b9072 81.1px,#c4e4db 85.1px,#d0eae3 89.1px,#e8f4f1 92.3px,#ffffff 95.4px,#e6e6fc 98.4px,#ccccf9 101.4px,#c4c4f7 105.1px,#bcbcf6 108.9px,#b4b4f4 112.6px,#babaf5 117.4px,#c0c0f6 122.1px,#c7c7f8 126.8px,#cdcdf9 131.5px,#d1d1fa 135.6px,#d4d4fa 139.6px,#d8d8fb 143.7px,#dbdbfb 147.8px,#dfdffb 151.8px,#e3e3fc 155.9px,#e6e6fc 160.0px,#ededfd 163.5px,#f4f4fe 167.0px,#f4f4fe 171.9px,#f4f4fe 176.9px,#f4f4fe 181.8px,#f4f4fe 186.8px,#f5f5fe 191.7px,#f5f5fe 196.6px,#f5f5fe 201.6px,#f5f5fe 206.5px,#f5f5fe 211.4px,#f6f6fe 216.4px,#f6f6fe 221.3px,#f6f6fe 226.3px,#f6f6fe 231.2px,#f6f6fe 236.1px,#f7f7fe 241.1px,#f7f7fe 246.0px,#f7f7fe 250.9px,#f7f7fe 255.9px,#f7f7fe 260.8px,#f7f7fe 265.8px,#f8f8fe 270.7px,#f8f8fe 275.6px,#f8f8fe 280.6px,#f8f8fe 285.5px)"></i>
<i style="top:74.0px;height:1.5px;background:linear-gradient(90deg,#8686ea 0.0px,#8a8aeb 3.8px,#8d8dec 7.7px,#9191ed 11.5px,#9494ed 15.4px,#a1a1f0 19.8px,#adadf3 24.2px,#b9b9f5 28.6px,#c5c5f7 33.1px,#d7d7fb 37.1px,#e8e8fc 41.2px,#ffffff 45.2px,#e8f5f1 48.0px,#d1eae4 50.8px,#a3d3c5 55.8px,#a6d5c7 59.4px,#409c80 62.4px,#2f9274 65.7px,#238a6c 69.1px,#178264 72.5px,#22896b 76.8px,#2c9072 81.1px,#c4e4db 85.1px,#d1eae4 89.1px,#e8f5f1 92.1px,#ffffff 95.2px,#e6e6fc 98.2px,#ccccf9 101.2px,#c6c6f8 104.9px,#bfbff6 108.6px,#b8b8f5 112.4px,#bebef6 117.1px,#c4c4f7 121.9px,#c9c9f8 126.7px,#cfcff9 131.5px,#d3d3fa 135.5px,#d6d6fa 139.6px,#d9d9fb 143.6px,#ddddfb 147.6px,#e0e0fc 151.7px,#e3e3fc 155.7px,#e6e6fc 159.8px,#ededfd 163.3px,#f4f4fe 166.8px,#f4f4fe 171.7px,#f4f4fe 176.7px,#f4f4fe 181.6px,#f4f4fe 186.6px,#f5f5fe 191.5px,#f5f5fe 196.5px,#f5f5fe 201.4px,#f5f5fe 206.4px,#f5f5fe 211.3px,#f6f6fe 216.3px,#f6f6fe 221.2px,#f6f6fe 226.1px,#f6f6fe 231.1px,#f6f6fe 236.0px,#f7f7fe 241.0px,#f7f7fe 245.9px,#f7f7fe 250.9px,#f7f7fe 255.8px,#f7f7fe 260.8px,#f7f7fe 265.7px,#f8f8fe 270.7px,#f8f8fe 275.6px,#f8f8fe 280.6px,#f8f8fe 285.5px)"></i>
<i style="top:75.0px;height:1.5px;background:linear-gradient(90deg,#8787eb 0.0px,#8a8aeb 3.9px,#8e8eec 7.7px,#9191ed 11.6px,#9595ee 15.5px,#a2a2f0 19.9px,#aeaef3 24.4px,#babaf5 28.9px,#c5c5f7 33.4px,#d8d8fb 37.4px,#e8e8fc 41.4px,#ffffff 45.4px,#e9f5f2 48.2px,#d3ebe4 50.9px,#a5d4c6 55.9px,#a5d5c6 59.5px,#419d81 62.5px,#309375 65.8px,#248a6c 69.2px,#188264 72.5px,#22896b 76.8px,#2d9173 81.0px,#c3e4db 85.0px,#d3ebe4 89.0px,#e9f5f2 92.0px,#ffffff 95.1px,#e6e6fc 98.1px,#cdcdf9 101.1px,#c7c7f8 104.7px,#c2c2f7 108.4px,#bdbdf6 112.1px,#c2c2f7 116.9px,#c7c7f8 121.8px,#ccccf9 126.6px,#d1d1fa 131.5px,#d5d5fa 135.5px,#d8d8fb 139.5px,#dbdbfb 143.5px,#dedefb 147.5px,#e1e1fc 151.5px,#e3e3fc 155.6px,#e6e6fc 159.6px,#ededfd 163.1px,#f4f4fe 166.6px,#f4f4fe 171.5px,#f4f4fe 176.5px,#f4f4fe 181.4px,#f4f4fe 186.4px,#f5f5fe 191.3px,#f5f5fe 196.3px,#f5f5fe 201.3px,#f5f5fe 206.2px,#f5f5fe 211.2px,#f6f6fe 216.1px,#f6f6fe 221.1px,#f6f6fe 226.0px,#f6f6fe 231.0px,#f6f6fe 235.9px,#f7f7fe 240.9px,#f7f7fe 245.9px,#f7f7fe 250.8px,#f7f7fe 255.8px,#f7f7fe 260.7px,#f7f7fe 265.7px,#f8f8fe 270.6px,#f8f8fe 275.6px,#f8f8fe 280.5px,#f8f8fe 285.5px)"></i>
<i style="top:76.0px;height:1.5px;background:linear-gradient(90deg,#8888eb 0.0px,#8b8beb 3.9px,#8f8fec 7.8px,#9292ed 11.7px,#9595ee 15.6px,#a2a2f0 20.1px,#aeaef3 24.7px,#babaf5 29.2px,#c6c6f8 33.7px,#d8d8fb 37.7px,#e8e8fc 41.7px,#ffffff 45.7px,#e9f5f2 48.4px,#d4ebe5 51.1px,#a6d5c7 56.1px,#a5d4c6 59.6px,#429d82 62.6px,#2a8f71 67.5px,#188264 72.5px,#238a6c 76.7px,#2e9174 81.0px,#c3e3da 85.0px,#d4ebe5 89.0px,#e9f5f2 91.9px,#ffffff 94.9px,#e6e6fc 97.9px,#cdcdf9 100.9px,#c9c9f8 104.5px,#c5c5f7 108.2px,#c1c1f7 111.8px,#c6c6f8 116.7px,#cacaf8 121.7px,#cfcff9 126.6px,#d3d3fa 131.5px,#d6d6fa 135.5px,#d9d9fb 139.5px,#dcdcfb 143.4px,#dfdffb 147.4px,#e2e2fc 151.4px,#e4e4fc 155.4px,#e6e6fc 159.3px,#ededfd 162.8px,#f4f4fe 166.3px,#f4f4fe 171.3px,#f4f4fe 176.3px,#f4f4fe 181.2px,#f4f4fe 186.2px,#f5f5fe 191.2px,#f5f5fe 196.1px,#f5f5fe 201.1px,#f5f5fe 206.1px,#f5f5fe 211.0px,#f6f6fe 216.0px,#f6f6fe 221.0px,#f6f6fe 225.9px,#f6f6fe 230.9px,#f6f6fe 235.9px,#f7f7fe 240.8px,#f7f7fe 245.8px,#f7f7fe 250.7px,#f7f7fe 255.7px,#f7f7fe 260.7px,#f7f7fe 265.6px,#f8f8fe 270.6px,#f8f8fe 275.6px,#f8f8fe 280.5px,#f8f8fe 285.5px)"></i>
<i style="top:77.0px;height:1.5px;background:linear-gradient(90deg,#8989eb 0.0px,#8c8cec 3.9px,#8f8fec 7.8px,#9393ed 11.8px,#9696ee 15.7px,#a3a3f1 20.3px,#aeaef3 24.9px,#babaf5 29.5px,#c6c6f8 34.1px,#d8d8fb 38.0px,#e8e8fc 41.9px,#ffffff 45.9px,#eaf5f2 48.6px,#d5ece6 51.3px,#a8d6c8 56.3px,#a4d4c6 59.7px,#439e82 62.7px,#2a8f71 67.6px,#198264 72.5px,#238a6c 76.7px,#2f9274 80.9px,#c2e3da 84.9px,#d5ece6 88.9px,#eaf5f2 91.8px,#ffffff 94.7px,#e7e7fc 97.7px,#cecef9 100.7px,#cbcbf9 104.3px,#c8c8f8 107.9px,#c6c6f8 111.5px,#cacaf8 116.5px,#cecef9 121.5px,#d2d2fa 126.5px,#d5d5fa 131.5px,#d8d8fb 135.5px,#dbdbfb 139.4px,#dedefb 143.4px,#e1e1fc 147.3px,#e3e3fc 151.2px,#e4e4fc 155.2px,#e6e6fc 159.1px,#ededfd 162.6px,#f4f4fe 166.1px,#f4f4fe 171.1px,#f4f4fe 176.1px,#f4f4fe 181.0px,#f4f4fe 186.0px,#f5f5fe 191.0px,#f5f5fe 196.0px,#f5f5fe 200.9px,#f5f5fe 205.9px,#f5f5fe 210.9px,#f6f6fe 215.9px,#f6f6fe 220.8px,#f6f6fe 225.8px,#f6f6fe 230.8px,#f6f6fe 235.8px,#f7f7fe 240.7px,#f7f7fe 245.7px,#f7f7fe 250.7px,#f7f7fe 255.7px,#f7f7fe 260.6px,#f7f7fe 265.6px,#f8f8fe 270.6px,#f8f8fe 275.6px,#f8f8fe 280.5px,#f8f8fe 285.5px)"></i>
<i style="top:78.0px;height:1.5px;background:linear-gradient(90deg,#8a8aeb 0.0px,#8d8dec 4.0px,#9090ed 7.9px,#9393ed 11.8px,#9797ee 15.8px,#a3a3f1 20.5px,#afaff3 25.1px,#bbbbf5 29.8px,#c6c6f8 34.4px,#d8d8fb 38.2px,#e8e8fc 42.1px,#ffffff 46.1px,#ebf6f3 48.8px,#d6ece7 51.4px,#aad7c9 56.4px,#a3d4c5 59.8px,#449f83 62.8px,#2b9072 67.7px,#198365 72.5px,#248b6d 76.7px,#309375 80.8px,#c2e3da 84.9px,#d6ece7 88.8px,#ebf6f3 91.7px,#ffffff 94.6px,#e7e7fc 97.6px,#cecef9 100.5px,#cdcdf9 104.1px,#ccccf9 107.7px,#cacaf8 111.2px,#cdcdf9 115.3px,#d0d0fa 119.3px,#d2d2fa 123.4px,#d5d5fa 127.4px,#d7d7fb 131.5px,#dadafb 135.4px,#ddddfb 139.3px,#dfdffb 143.3px,#e2e2fc 147.2px,#e3e3fc 151.1px,#e5e5fc 155.0px,#e6e6fc 158.9px,#ededfd 162.4px,#f4f4fe 165.9px,#f4f4fe 170.9px,#f4f4fe 175.9px,#f4f4fe 180.8px,#f5f5fe 185.8px,#f5f5fe 190.8px,#f5f5fe 195.8px,#f5f5fe 200.8px,#f5f5fe 205.8px,#f5f5fe 210.8px,#f6f6fe 215.7px,#f6f6fe 220.7px,#f6f6fe 225.7px,#f6f6fe 230.7px,#f6f6fe 235.7px,#f7f7fe 240.6px,#f7f7fe 245.6px,#f7f7fe 250.6px,#f7f7fe 255.6px,#f7f7fe 260.6px,#f8f8fe 265.6px,#f8f8fe 270.6px,#f8f8fe 275.5px,#f8f8fe 280.5px,#f8f8fe 285.5px)"></i>
<i style="top:79.0px;height:1.5px;background:linear-gradient(90deg,#8b8beb 0.0px,#8e8eec 4.0px,#9191ed 8.0px,#9494ed 11.9px,#9797ee 15.9px,#a4a4f1 20.6px,#afaff3 25.3px,#bbbbf5 30.0px,#c7c7f8 34.7px,#d8d8fb 38.5px,#e8e8fc 42.3px,#ffffff 46.3px,#ebf6f3 49.0px,#d8ede7 51.6px,#abd8ca 56.6px,#a3d3c5 59.9px,#459f84 62.9px,#2c9072 67.7px,#198365 72.5px,#258b6d 76.6px,#319376 80.8px,#c1e2d9 84.8px,#d8ede7 88.8px,#ebf6f3 91.6px,#ffffff 94.4px,#e7e7fc 97.4px,#cfcff9 100.4px,#cfcff9 103.9px,#cfcff9 107.4px,#cecef9 111.0px,#d1d1fa 115.1px,#d3d3fa 119.2px,#d5d5fa 123.3px,#d7d7fb 127.4px,#d9d9fb 131.5px,#dcdcfb 135.4px,#dedefb 139.3px,#e1e1fc 143.2px,#e3e3fc 147.1px,#e4e4fc 151.0px,#e5e5fc 154.8px,#e6e6fc 158.7px,#ededfd 162.2px,#f4f4fe 165.7px,#f4f4fe 170.7px,#f4f4fe 175.7px,#f4f4fe 180.7px,#f4f4fe 185.6px,#f5f5fe 190.6px,#f5f5fe 195.6px,#f5f5fe 200.6px,#f5f5fe 205.6px,#f5f5fe 210.6px,#f6f6fe 215.6px,#f6f6fe 220.6px,#f6f6fe 225.6px,#f6f6fe 230.6px,#f6f6fe 235.6px,#f7f7fe 240.6px,#f7f7fe 245.6px,#f7f7fe 250.6px,#f7f7fe 255.5px,#f7f7fe 260.5px,#f7f7fe 265.5px,#f8f8fe 270.5px,#f8f8fe 275.5px,#f8f8fe 280.5px,#f8f8fe 285.5px)"></i>
<i style="top:80.0px;height:1.5px;background:linear-gradient(90deg,#8c8cec 0.0px,#8f8fec 4.0px,#9292ed 8.0px,#9595ee 12.0px,#9898ee 16.0px,#a4a4f1 20.8px,#b0b0f3 25.5px,#bbbbf5 30.3px,#c7c7f8 35.1px,#d8d8fb 38.8px,#e8e8fc 42.5px,#ffffff 46.5px,#ecf6f4 49.2px,#d9eee8 51.8px,#add8cc 56.8px,#a2d3c4 60.0px,#46a085 63.0px,#2c9072 67.8px,#1a8365 72.5px,#258b6d 76.6px,#329477 80.7px,#c0e2d9 84.7px,#d9eee8 88.7px,#ecf6f4 91.5px,#ffffff 94.2px,#e7e7fc 97.2px,#d0d0fa 100.2px,#d1d1fa 103.7px,#d2d2fa 107.2px,#d3d3fa 110.7px,#d5d5fa 114.9px,#d6d6fa 119.0px,#d8d8fb 123.2px,#dadafb 127.3px,#dbdbfb 131.5px,#dedefb 135.4px,#e0e0fc 139.2px,#e2e2fc 143.1px,#e5e5fc 147.0px,#e5e5fc 150.8px,#e6e6fc 154.6px,#e6e6fc 158.5px,#ededfd 162.0px,#f4f4fe 165.5px,#f4f4fe 170.3px,#f4f4fe 175.1px,#f4f4fe 179.9px,#f4f4fe 184.7px,#f5f5fe 189.5px,#f5f5fe 194.3px,#f5f5fe 199.1px,#f5f5fe 203.9px,#f5f5fe 208.7px,#f6f6fe 213.5px,#f6f6fe 218.3px,#f6f6fe 223.1px,#f6f6fe 227.9px,#f6f6fe 232.7px,#f6f6fe 237.5px,#f7f7fe 242.3px,#f7f7fe 247.1px,#f7f7fe 251.9px,#f7f7fe 256.7px,#f7f7fe 261.5px,#f8f8fe 266.3px,#f8f8fe 271.1px,#f8f8fe 275.9px,#f8f8fe 280.7px,#f8f8fe 285.5px)"></i>
<i style="top:81.0px;height:1.5px;background:linear-gradient(90deg,#8c8cec 0.0px,#8f8fec 4.0px,#9292ed 8.1px,#9595ee 12.1px,#9898ee 16.1px,#a5a5f1 21.0px,#b0b0f3 25.8px,#bcbcf6 30.6px,#c7c7f8 35.4px,#d8d8fb 39.1px,#e8e8fc 42.8px,#ffffff 46.8px,#ecf7f4 49.4px,#daeee9 51.9px,#c3e4db 54.4px,#afd9cd 57.0px,#a2d3c4 60.1px,#47a185 63.1px,#2d9173 67.8px,#1a8466 72.5px,#268c6e 76.6px,#339577 80.7px,#c0e2d8 84.7px,#daeee9 88.7px,#ecf7f4 91.4px,#ffffff 94.1px,#e8e8fc 97.1px,#d0d0fa 100.1px,#d3d3fa 103.5px,#d5d5fa 107.0px,#d7d7fb 110.4px,#d8d8fb 114.6px,#d9d9fb 118.8px,#dbdbfb 123.1px,#dcdcfb 127.3px,#ddddfb 131.5px,#e0e0fc 135.3px,#e2e2fc 139.2px,#e4e4fc 143.0px,#e6e6fc 146.9px,#e6e6fc 150.7px,#e6e6fc 154.4px,#e6e6fc 158.2px,#ededfd 161.7px,#f4f4fe 165.2px,#f4f4fe 170.0px,#f4f4fe 174.9px,#f4f4fe 179.7px,#f4f4fe 184.5px,#f5f5fe 189.3px,#f5f5fe 194.1px,#f5f5fe 198.9px,#f5f5fe 203.7px,#f5f5fe 208.5px,#f6f6fe 213.3px,#f6f6fe 218.2px,#f6f6fe 223.0px,#f6f6fe 227.8px,#f6f6fe 232.6px,#f6f6fe 237.4px,#f7f7fe 242.2px,#f7f7fe 247.0px,#f7f7fe 251.8px,#f7f7fe 256.6px,#f7f7fe 261.4px,#f8f8fe 266.3px,#f8f8fe 271.1px,#f8f8fe 275.9px,#f8f8fe 280.7px,#f8f8fe 285.5px)"></i>
<i style="top:82.0px;height:1.5px;background:linear-gradient(90deg,#8d8dec 0.0px,#9090ed 4.1px,#9393ed 8.1px,#9696ee 12.2px,#9999ee 16.2px,#a5a5f1 21.1px,#b1b1f3 26.0px,#bcbcf6 30.9px,#c7c7f8 35.7px,#d8d8fb 39.4px,#e8e8fc 43.0px,#ffffff 47.0px,#edf7f4 49.6px,#dbefea 52.1px,#b0dace 57.1px,#a1d3c4 60.2px,#48a186 63.2px,#2e9173 67.9px,#1b8466 72.5px,#268c6e 76.6px,#349578 80.6px,#bfe2d8 84.6px,#dbefea 88.6px,#edf7f4 91.3px,#ffffff 93.9px,#e8e8fc 96.9px,#d1d1fa 99.9px,#d4d4fa 103.3px,#d7d7fb 106.7px,#dbdbfb 110.1px,#dcdcfb 114.4px,#ddddfb 118.7px,#dedefb 123.0px,#dedefb 127.2px,#dfdffb 131.5px,#e1e1fc 135.3px,#e3e3fc 139.1px,#e6e6fc 142.9px,#e8e8fc 146.8px,#e7e7fc 150.5px,#e7e7fc 154.3px,#e6e6fc 158.0px,#ededfd 161.5px,#f4f4fe 165.0px,#f4f4fe 169.8px,#f4f4fe 174.7px,#f4f4fe 179.5px,#f4f4fe 184.3px,#f5f5fe 189.1px,#f5f5fe 193.9px,#f5f5fe 198.7px,#f5f5fe 203.6px,#f5f5fe 208.4px,#f6f6fe 213.2px,#f6f6fe 218.0px,#f6f6fe 222.8px,#f6f6fe 227.7px,#f6f6fe 232.5px,#f6f6fe 237.3px,#f7f7fe 242.1px,#f7f7fe 246.9px,#f7f7fe 251.8px,#f7f7fe 256.6px,#f7f7fe 261.4px,#f8f8fe 266.2px,#f8f8fe 271.0px,#f8f8fe 275.9px,#f8f8fe 280.7px,#f8f8fe 285.5px)"></i>
<i style="top:83.0px;height:1.5px;background:linear-gradient(90deg,#8e8eec 0.0px,#9191ed 4.1px,#9494ed 8.2px,#9797ee 12.3px,#9a9aef 16.4px,#a6a6f1 21.3px,#b1b1f3 26.2px,#bcbcf6 31.1px,#c8c8f8 36.1px,#d9d9fb 39.6px,#e8e8fc 43.2px,#ffffff 47.2px,#eef7f5 49.7px,#dcefea 52.3px,#b2dbcf 57.3px,#a1d2c3 60.4px,#4aa287 63.4px,#2e9274 67.9px,#1b8466 72.5px,#278d6f 76.5px,#369679 80.6px,#bfe1d8 84.6px,#dcefea 88.6px,#eef7f5 91.1px,#ffffff 93.7px,#e8e8fc 96.7px,#d1d1fa 99.7px,#d6d6fa 103.1px,#dadafb 106.5px,#dfdffb 109.9px,#dfdffb 114.2px,#e0e0fc 118.5px,#e0e0fc 122.8px,#e1e1fc 127.2px,#e1e1fc 131.5px,#e3e3fc 135.3px,#e5e5fc 139.1px,#e7e7fc 142.9px,#e9e9fd 146.6px,#e8e8fc 150.4px,#e7e7fc 154.1px,#e6e6fc 157.8px,#ededfd 161.3px,#f4f4fe 164.8px,#f4f4fe 169.6px,#f4f4fe 174.4px,#f4f4fe 179.3px,#f4f4fe 184.1px,#f5f5fe 188.9px,#f5f5fe 193.8px,#f5f5fe 198.6px,#f5f5fe 203.4px,#f5f5fe 208.2px,#f6f6fe 213.1px,#f6f6fe 217.9px,#f6f6fe 222.7px,#f6f6fe 227.6px,#f6f6fe 232.4px,#f6f6fe 237.2px,#f7f7fe 242.0px,#f7f7fe 246.9px,#f7f7fe 251.7px,#f7f7fe 256.5px,#f7f7fe 261.4px,#f8f8fe 266.2px,#f8f8fe 271.0px,#f8f8fe 275.8px,#f8f8fe 280.7px,#f8f8fe 285.5px)"></i>
<i style="top:84.0px;height:1.5px;background:linear-gradient(90deg,#8f8fec 0.0px,#9292ed 4.1px,#9595ee 8.2px,#9898ee 12.3px,#9a9aef 16.5px,#a6a6f1 21.4px,#b1b1f3 26.4px,#bdbdf6 31.4px,#c8c8f8 36.4px,#d9d9fb 39.9px,#e8e8fc 43.4px,#ffffff 47.4px,#eef7f5 49.9px,#def0eb 52.5px,#b4dcd0 57.4px,#a0d2c3 60.5px,#4ba388 63.5px,#2f9275 68.0px,#1b8466 72.5px,#288d6f 76.5px,#37977a 80.5px,#bee1d7 84.5px,#def0eb 88.5px,#eef7f5 91.0px,#ffffff 93.5px,#e8e8fc 96.6px,#d2d2fa 99.6px,#d7d7fb 102.9px,#ddddfb 106.2px,#e3e3fc 109.6px,#e3e3fc 114.0px,#e3e3fc 118.3px,#e3e3fc 122.7px,#e3e3fc 127.1px,#e3e3fc 131.5px,#e5e5fc 135.3px,#e7e7fc 139.0px,#e9e9fd 142.8px,#eaeafd 146.5px,#e9e9fd 150.2px,#e8e8fc 153.9px,#e6e6fc 157.6px,#ededfd 161.1px,#f4f4fe 164.6px,#f4f4fe 169.4px,#f4f4fe 174.2px,#f4f4fe 179.1px,#f4f4fe 183.9px,#f5f5fe 188.8px,#f5f5fe 193.6px,#f5f5fe 198.4px,#f5f5fe 203.3px,#f5f5fe 208.1px,#f6f6fe 212.9px,#f6f6fe 217.8px,#f6f6fe 222.6px,#f6f6fe 227.5px,#f6f6fe 232.3px,#f6f6fe 237.1px,#f7f7fe 242.0px,#f7f7fe 246.8px,#f7f7fe 251.6px,#f7f7fe 256.5px,#f7f7fe 261.3px,#f8f8fe 266.2px,#f8f8fe 271.0px,#f8f8fe 275.8px,#f8f8fe 280.7px,#f8f8fe 285.5px)"></i>
<i style="top:85.0px;height:1.5px;background:linear-gradient(90deg,#9090ed 0.0px,#9393ed 4.1px,#9595ee 8.3px,#9898ee 12.4px,#9b9bef 16.6px,#a4a4f1 20.6px,#adadf3 24.6px,#b6b6f4 28.7px,#bfbff6 32.7px,#c9c9f8 36.7px,#d9d9fb 40.2px,#e9e9fd 43.7px,#ffffff 47.8px,#dff0ec 52.8px,#b5ddd1 57.7px,#a1d2c3 60.7px,#4ca388 63.8px,#319376 68.2px,#1d8567 72.6px,#298e70 76.6px,#39987b 80.6px,#bee1d7 84.5px,#def0eb 88.5px,#ffffff 93.5px,#e9e9fd 96.5px,#d3d3fa 99.5px,#dbdbfb 104.5px,#e4e4fc 109.5px,#e4e4fc 113.9px,#e4e4fc 118.3px,#e4e4fc 122.6px,#e4e4fc 127.0px,#e4e4fc 131.4px,#e6e6fc 135.2px,#e7e7fc 138.9px,#e9e9fd 142.7px,#ebebfd 146.4px,#e9e9fd 150.1px,#e8e8fc 153.7px,#e6e6fc 157.3px,#ededfd 160.8px,#f4f4fe 164.3px,#f4f4fe 169.1px,#f4f4fe 174.0px,#f4f4fe 178.8px,#f4f4fe 183.7px,#f5f5fe 188.5px,#f5f5fe 193.4px,#f5f5fe 198.2px,#f5f5fe 203.1px,#f5f5fe 207.9px,#f6f6fe 212.8px,#f6f6fe 217.6px,#f6f6fe 222.5px,#f6f6fe 227.3px,#f6f6fe 232.2px,#f6f6fe 237.0px,#f7f7fe 241.9px,#f7f7fe 246.7px,#f7f7fe 251.6px,#f7f7fe 256.4px,#f7f7fe 261.3px,#f8f8fe 266.1px,#f8f8fe 271.0px,#f8f8fe 275.8px,#f8f8fe 280.7px,#f8f8fe 285.5px)"></i>
<i style="top:86.0px;height:1.5px;background:linear-gradient(90deg,#9191ed 0.0px,#9393ed 4.2px,#9696ee 8.3px,#9898ee 12.5px,#9b9bef 16.7px,#a5a5f1 20.7px,#aeaef3 24.8px,#b7b7f5 28.9px,#c0c0f6 32.9px,#c9c9f8 37.0px,#dadafb 40.5px,#eaeafd 44.0px,#ffffff 48.3px,#dff1ec 53.2px,#b7ddd2 58.1px,#a1d3c4 61.1px,#4da489 64.2px,#329477 68.5px,#1e8668 72.8px,#2b8f71 76.8px,#3b9a7d 80.7px,#bfe1d8 84.6px,#def0eb 88.5px,#eef7f5 91.0px,#ffffff 93.5px,#e9e9fd 96.5px,#d4d4fa 99.5px,#dcdcfb 104.5px,#e4e4fc 109.5px,#e4e4fc 113.8px,#e4e4fc 118.2px,#e4e4fc 122.5px,#e4e4fc 126.9px,#e4e4fc 131.2px,#e6e6fc 135.0px,#e7e7fc 138.8px,#e9e9fd 142.6px,#ebebfd 146.3px,#e9e9fd 149.9px,#e8e8fc 153.5px,#e6e6fc 157.1px,#ededfd 160.5px,#f4f4fe 164.0px,#f4f4fe 168.9px,#f4f4fe 173.7px,#f4f4fe 178.6px,#f4f4fe 183.4px,#f5f5fe 188.3px,#f5f5fe 193.2px,#f5f5fe 198.0px,#f5f5fe 202.9px,#f5f5fe 207.7px,#f6f6fe 212.6px,#f6f6fe 217.5px,#f6f6fe 222.3px,#f6f6fe 227.2px,#f6f6fe 232.0px,#f6f6fe 236.9px,#f7f7fe 241.8px,#f7f7fe 246.6px,#f7f7fe 251.5px,#f7f7fe 256.3px,#f7f7fe 261.2px,#f8f8fe 266.1px,#f8f8fe 270.9px,#f8f8fe 275.8px,#f8f8fe 280.6px,#f8f8fe 285.5px)"></i>
<i style="top:87.0px;height:1.5px;background:linear-gradient(90deg,#9292ed 0.0px,#9494ed 4.2px,#9696ee 8.4px,#9999ee 12.6px,#9b9bef 16.8px,#a5a5f1 20.9px,#aeaef3 25.0px,#b7b7f5 29.1px,#c1c1f7 33.2px,#cacaf8 37.3px,#dbdbfb 40.8px,#eaeafd 44.3px,#ffffff 48.7px,#e0f1ed 53.6px,#b8ded3 58.4px,#a2d3c4 61.4px,#4ea58a 64.6px,#349578 68.8px,#20886a 73.0px,#2c9072 76.9px,#3e9b7f 80.8px,#bfe2d8 84.6px,#ddf0eb 88.5px,#ffffff 93.5px,#eaeafd 96.5px,#d4d4fa 99.5px,#dcdcfb 104.5px,#e4e4fc 109.5px,#e4e4fc 113.8px,#e4e4fc 118.1px,#e4e4fc 122.5px,#e4e4fc 126.8px,#e4e4fc 131.1px,#e6e6fc 134.9px,#e7e7fc 138.7px,#e9e9fd 142.4px,#ebebfd 146.2px,#e9e9fd 149.8px,#e8e8fc 153.3px,#e6e6fc 156.8px,#ededfd 160.3px,#f4f4fe 163.7px,#f4f4fe 168.6px,#f4f4fe 173.4px,#f4f4fe 178.3px,#f4f4fe 183.2px,#f5f5fe 188.1px,#f5f5fe 192.9px,#f5f5fe 197.8px,#f5f5fe 202.7px,#f5f5fe 207.5px,#f6f6fe 212.4px,#f6f6fe 217.3px,#f6f6fe 222.2px,#f6f6fe 227.0px,#f6f6fe 231.9px,#f6f6fe 236.8px,#f7f7fe 241.6px,#f7f7fe 246.5px,#f7f7fe 251.4px,#f7f7fe 256.3px,#f7f7fe 261.1px,#f8f8fe 266.0px,#f8f8fe 270.9px,#f8f8fe 275.8px,#f8f8fe 280.6px,#f8f8fe 285.5px)"></i>
<i style="top:88.0px;height:1.5px;background:linear-gradient(90deg,#9393ed 0.0px,#9595ee 4.2px,#9797ee 8.4px,#9999ef 12.7px,#9c9cef 16.9px,#a5a5f1 21.0px,#afaff3 25.2px,#b8b8f5 29.3px,#c1c1f7 33.5px,#cbcbf9 37.6px,#dbdbfb 41.1px,#ebebfd 44.6px,#ffffff 49.2px,#e1f1ed 54.0px,#badfd4 58.8px,#a3d3c5 61.8px,#4fa58b 65.0px,#369679 69.1px,#21896b 73.2px,#2e9274 77.1px,#409d80 80.9px,#c0e2d8 84.7px,#ddf0eb 88.5px,#ffffff 93.5px,#eaeafd 96.5px,#d5d5fa 99.5px,#ddddfb 104.5px,#e4e4fc 109.5px,#e4e4fc 113.8px,#e4e4fc 118.1px,#e4e4fc 122.4px,#e4e4fc 126.7px,#e4e4fc 130.9px,#e6e6fc 134.7px,#e7e7fc 138.5px,#e9e9fd 142.3px,#ebebfd 146.1px,#e9e9fd 149.6px,#e8e8fc 153.1px,#e6e6fc 156.6px,#ededfd 160.0px,#f4f4fe 163.4px,#f4f4fe 168.3px,#f4f4fe 173.2px,#f4f4fe 178.0px,#f4f4fe 182.9px,#f5f5fe 187.8px,#f5f5fe 192.7px,#f5f5fe 197.6px,#f5f5fe 202.5px,#f5f5fe 207.3px,#f6f6fe 212.2px,#f6f6fe 217.1px,#f6f6fe 222.0px,#f6f6fe 226.9px,#f6f6fe 231.8px,#f6f6fe 236.7px,#f7f7fe 241.5px,#f7f7fe 246.4px,#f7f7fe 251.3px,#f7f7fe 256.2px,#f7f7fe 261.1px,#f8f8fe 266.0px,#f8f8fe 270.8px,#f8f8fe 275.7px,#f8f8fe 280.6px,#f8f8fe 285.5px)"></i>
<i style="top:89.0px;height:1.5px;background:linear-gradient(90deg,#9393ed 0.0px,#9595ee 4.2px,#9898ee 8.5px,#9a9aef 12.7px,#9c9cef 17.0px,#a6a6f1 21.2px,#afaff3 25.3px,#b9b9f5 29.5px,#c2c2f7 33.7px,#ccccf9 37.9px,#dcdcfb 41.4px,#ececfd 44.9px,#ffffff 49.6px,#e2f2ee 54.4px,#bbe0d5 59.1px,#a4d4c5 62.1px,#50a68b 65.4px,#37977a 69.4px,#238a6c 73.4px,#319376 77.2px,#439e82 81.0px,#c0e2d9 84.7px,#ddefea 88.5px,#ffffff 93.5px,#ebebfd 96.5px,#d6d6fa 99.5px,#ddddfb 104.5px,#e4e4fc 109.5px,#e4e4fc 113.8px,#e4e4fc 118.0px,#e4e4fc 122.3px,#e4e4fc 126.5px,#e4e4fc 130.8px,#e6e6fc 134.6px,#e7e7fc 138.4px,#e9e9fd 142.2px,#ebebfd 146.0px,#e9e9fd 149.5px,#e8e8fc 152.9px,#e6e6fc 156.3px,#ededfd 159.7px,#f4f4fe 163.1px,#f4f4fe 168.0px,#f4f4fe 172.9px,#f4f4fe 177.8px,#f4f4fe 182.7px,#f5f5fe 187.6px,#f5f5fe 192.5px,#f5f5fe 197.4px,#f5f5fe 202.3px,#f5f5fe 207.2px,#f6f6fe 212.1px,#f6f6fe 217.0px,#f6f6fe 221.8px,#f6f6fe 226.7px,#f6f6fe 231.6px,#f6f6fe 236.5px,#f7f7fe 241.4px,#f7f7fe 246.3px,#f7f7fe 251.2px,#f7f7fe 256.1px,#f7f7fe 261.0px,#f8f8fe 265.9px,#f8f8fe 270.8px,#f8f8fe 275.7px,#f8f8fe 280.6px,#f8f8fe 285.5px)"></i>
<i style="top:90.0px;height:1.5px;background:linear-gradient(90deg,#9494ed 0.0px,#9696ee 4.3px,#9898ee 8.5px,#9a9aef 12.8px,#9c9cef 17.1px,#a6a6f1 21.3px,#b0b0f3 25.5px,#b9b9f5 29.8px,#c3c3f7 34.0px,#ccccf9 38.2px,#ddddfb 41.7px,#ececfd 45.2px,#ffffff 50.1px,#e3f2ee 54.8px,#bde0d6 59.5px,#a4d4c6 62.5px,#51a68c 65.8px,#39987b 69.7px,#248b6d 73.6px,#339577 77.4px,#45a084 81.1px,#c1e2d9 84.8px,#dcefea 88.5px,#ffffff 93.5px,#ebebfd 96.5px,#d7d7fb 99.5px,#dedefb 104.5px,#e4e4fc 109.5px,#e4e4fc 113.7px,#e4e4fc 118.0px,#e4e4fc 122.2px,#e4e4fc 126.4px,#e4e4fc 130.6px,#e6e6fc 134.5px,#e7e7fc 138.3px,#e9e9fd 142.1px,#ebebfd 145.9px,#e9e9fd 149.3px,#e8e8fc 152.7px,#e6e6fc 156.1px,#ededfd 159.4px,#f4f4fe 162.8px,#f4f4fe 167.7px,#f4f4fe 172.6px,#f4f4fe 177.5px,#f4f4fe 182.4px,#f5f5fe 187.3px,#f5f5fe 192.2px,#f5f5fe 197.1px,#f5f5fe 202.1px,#f5f5fe 207.0px,#f6f6fe 211.9px,#f6f6fe 216.8px,#f6f6fe 221.7px,#f6f6fe 226.6px,#f6f6fe 231.5px,#f6f6fe 236.4px,#f7f7fe 241.3px,#f7f7fe 246.2px,#f7f7fe 251.1px,#f7f7fe 256.0px,#f7f7fe 261.0px,#f8f8fe 265.9px,#f8f8fe 270.8px,#f8f8fe 275.7px,#f8f8fe 280.6px,#f8f8fe 285.5px)"></i>
<i style="top:91.0px;height:1.5px;background:linear-gradient(90deg,#9595ee 0.0px,#9797ee 4.3px,#9999ee 8.6px,#9b9bef 12.9px,#9c9cef 17.2px,#a6a6f1 21.4px,#b0b0f3 25.7px,#babaf5 30.0px,#c3c3f7 34.2px,#cdcdf9 38.5px,#ddddfb 42.0px,#ededfd 45.5px,#f6f6fe 48.0px,#ffffff 50.5px,#e4f3ef 55.2px,#bee1d7 59.8px,#a5d5c6 62.8px,#52a78d 66.2px,#3a997c 70.0px,#268c6e 73.8px,#359679 77.5px,#48a186 81.2px,#c1e3d9 84.8px,#dcefea 88.5px,#ffffff 93.5px,#ececfd 96.5px,#d8d8fb 99.5px,#dedefb 104.5px,#e4e4fc 109.5px,#e4e4fc 113.7px,#e4e4fc 117.9px,#e4e4fc 122.1px,#e4e4fc 126.3px,#e4e4fc 130.5px,#e6e6fc 134.3px,#e7e7fc 138.2px,#e9e9fd 142.0px,#ebebfd 145.8px,#e8e8fc 150.8px,#e6e6fc 155.8px,#ededfd 159.2px,#f4f4fe 162.5px,#f4f4fe 167.4px,#f4f4fe 172.3px,#f4f4fe 177.3px,#f4f4fe 182.2px,#f5f5fe 187.1px,#f5f5fe 192.0px,#f5f5fe 196.9px,#f5f5fe 201.9px,#f5f5fe 206.8px,#f6f6fe 211.7px,#f6f6fe 216.6px,#f6f6fe 221.5px,#f6f6fe 226.5px,#f6f6fe 231.4px,#f6f6fe 236.3px,#f7f7fe 241.2px,#f7f7fe 246.1px,#f7f7fe 251.1px,#f7f7fe 256.0px,#f7f7fe 260.9px,#f8f8fe 265.8px,#f8f8fe 270.7px,#f8f8fe 275.7px,#f8f8fe 280.6px,#f8f8fe 285.5px)"></i>
<i style="top:92.0px;height:1.5px;background:linear-gradient(90deg,#9696ee 0.0px,#9898ee 4.3px,#9999ef 8.6px,#9b9bef 13.0px,#9d9def 17.3px,#a7a7f1 21.6px,#b0b0f3 25.9px,#babaf5 30.2px,#c4c4f7 34.5px,#cecef9 38.8px,#dedefb 42.3px,#eeeefd 45.8px,#f6f6fe 48.4px,#ffffff 51.0px,#e4f3ef 55.6px,#c0e2d8 60.2px,#a6d5c7 63.2px,#53a88d 66.6px,#3c9a7e 70.3px,#288d6f 74.0px,#38977b 77.7px,#4aa387 81.3px,#c2e3da 84.9px,#dcefea 88.5px,#ffffff 93.5px,#ececfd 96.5px,#d9d9fb 99.5px,#dedefb 104.5px,#e4e4fc 109.5px,#e4e4fc 113.7px,#e4e4fc 117.8px,#e4e4fc 122.0px,#e4e4fc 126.2px,#e4e4fc 130.3px,#e6e6fc 134.2px,#e7e7fc 138.0px,#e9e9fd 141.9px,#ebebfd 145.7px,#e8e8fc 150.7px,#e6e6fc 155.6px,#ededfd 158.9px,#f4f4fe 162.2px,#f4f4fe 167.1px,#f4f4fe 172.1px,#f4f4fe 177.0px,#f4f4fe 181.9px,#f5f5fe 186.9px,#f5f5fe 191.8px,#f5f5fe 196.7px,#f5f5fe 201.6px,#f5f5fe 206.6px,#f6f6fe 211.5px,#f6f6fe 216.4px,#f6f6fe 221.4px,#f6f6fe 226.3px,#f6f6fe 231.2px,#f6f6fe 236.2px,#f7f7fe 241.1px,#f7f7fe 246.0px,#f7f7fe 251.0px,#f7f7fe 255.9px,#f7f7fe 260.8px,#f8f8fe 265.8px,#f8f8fe 270.7px,#f8f8fe 275.6px,#f8f8fe 280.6px,#f8f8fe 285.5px)"></i>
<i style="top:93.0px;height:1.5px;background:linear-gradient(90deg,#9797ee 0.0px,#9898ee 4.3px,#9a9aef 8.7px,#9b9bef 13.0px,#9d9def 17.4px,#a7a7f1 21.7px,#b1b1f3 26.1px,#bbbbf5 30.4px,#c5c5f7 34.8px,#cfcff9 39.1px,#dfdffb 42.6px,#eeeefd 46.1px,#f7f7fe 48.8px,#ffffff 51.4px,#e5f3f0 56.0px,#c1e3d9 60.5px,#a7d5c7 63.5px,#54a88e 67.0px,#3e9b7f 70.6px,#298e70 74.2px,#3a997c 77.8px,#4da489 81.4px,#c2e3da 84.9px,#dcefea 88.5px,#ffffff 93.5px,#ececfd 96.5px,#dadafb 99.5px,#dfdffb 104.5px,#e4e4fc 109.5px,#e4e4fc 113.6px,#e4e4fc 117.8px,#e4e4fc 121.9px,#e4e4fc 126.1px,#e4e4fc 130.2px,#e6e6fc 134.1px,#e7e7fc 137.9px,#e9e9fd 141.8px,#ebebfd 145.6px,#e8e8fc 150.5px,#e6e6fc 155.3px,#ededfd 158.6px,#f4f4fe 161.9px,#f4f4fe 166.8px,#f4f4fe 171.8px,#f4f4fe 176.7px,#f4f4fe 181.7px,#f5f5fe 186.6px,#f5f5fe 191.6px,#f5f5fe 196.5px,#f5f5fe 201.4px,#f5f5fe 206.4px,#f6f6fe 211.3px,#f6f6fe 216.3px,#f6f6fe 221.2px,#f6f6fe 226.2px,#f6f6fe 231.1px,#f6f6fe 236.1px,#f7f7fe 241.0px,#f7f7fe 245.9px,#f7f7fe 250.9px,#f7f7fe 255.8px,#f7f7fe 260.8px,#f8f8fe 265.7px,#f8f8fe 270.7px,#f8f8fe 275.6px,#f8f8fe 280.6px,#f8f8fe 285.5px)"></i>
<i style="top:94.0px;height:1.5px;background:linear-gradient(90deg,#9898ee 0.0px,#9999ee 4.4px,#9a9aef 8.7px,#9c9cef 13.1px,#9d9def 17.5px,#a7a7f1 21.9px,#b1b1f3 26.2px,#bbbbf5 30.6px,#c5c5f7 35.0px,#cfcff9 39.4px,#dfdffb 42.9px,#efeffd 46.4px,#f7f7fe 49.1px,#ffffff 51.9px,#e6f4f0 56.4px,#c3e3da 60.9px,#a7d6c8 63.9px,#55a98f 67.4px,#3f9c80 70.9px,#2b8f71 74.4px,#3d9a7e 78.0px,#4fa68b 81.5px,#c3e3da 85.0px,#dbefea 88.5px,#ffffff 93.5px,#ededfd 96.5px,#dbdbfb 99.5px,#dfdffb 104.5px,#e4e4fc 109.5px,#e4e4fc 113.6px,#e4e4fc 117.7px,#e4e4fc 121.8px,#e4e4fc 125.9px,#e4e4fc 130.0px,#e6e6fc 133.9px,#e7e7fc 137.8px,#e9e9fd 141.7px,#ebebfd 145.5px,#e8e8fc 150.3px,#e6e6fc 155.1px,#ededfd 158.3px,#f4f4fe 161.6px,#f4f4fe 166.5px,#f4f4fe 171.5px,#f4f4fe 176.5px,#f4f4fe 181.4px,#f5f5fe 186.4px,#f5f5fe 191.3px,#f5f5fe 196.3px,#f5f5fe 201.2px,#f5f5fe 206.2px,#f6f6fe 211.2px,#f6f6fe 216.1px,#f6f6fe 221.1px,#f6f6fe 226.0px,#f6f6fe 231.0px,#f6f6fe 235.9px,#f7f7fe 240.9px,#f7f7fe 245.8px,#f7f7fe 250.8px,#f7f7fe 255.8px,#f7f7fe 260.7px,#f8f8fe 265.7px,#f8f8fe 270.6px,#f8f8fe 275.6px,#f8f8fe 280.5px,#f8f8fe 285.5px)"></i>
<i style="top:95.0px;height:1.5px;background:linear-gradient(90deg,#9898ee 0.0px,#9a9aef 4.4px,#9b9bef 8.8px,#9c9cef 13.2px,#9d9def 17.6px,#a8a8f2 22.0px,#b2b2f4 26.4px,#bcbcf6 30.9px,#c6c6f8 35.3px,#d0d0fa 39.7px,#e0e0fc 43.2px,#f0f0fd 46.7px,#f7f7fe 49.5px,#ffffff 52.3px,#e7f4f0 56.8px,#c4e4db 61.2px,#a8d6c8 64.2px,#56a98f 67.8px,#419d81 71.2px,#2c9173 74.6px,#3f9c80 78.1px,#52a78d 81.6px,#c3e4db 85.0px,#dbefe9 88.5px,#ffffff 93.5px,#ededfd 96.5px,#dcdcfb 99.5px,#e0e0fc 104.5px,#e4e4fc 109.5px,#e4e4fc 113.6px,#e4e4fc 117.7px,#e4e4fc 121.7px,#e4e4fc 125.8px,#e4e4fc 129.9px,#e6e6fc 133.8px,#e7e7fc 137.7px,#e9e9fd 141.5px,#ebebfd 145.4px,#e8e8fc 150.1px,#e6e6fc 154.8px,#ededfd 158.1px,#f4f4fe 161.3px,#f4f4fe 166.3px,#f4f4fe 171.2px,#f4f4fe 176.2px,#f4f4fe 181.2px,#f5f5fe 186.1px,#f5f5fe 191.1px,#f5f5fe 196.1px,#f5f5fe 201.0px,#f5f5fe 206.0px,#f6f6fe 211.0px,#f6f6fe 215.9px,#f6f6fe 220.9px,#f6f6fe 225.9px,#f6f6fe 230.8px,#f6f6fe 235.8px,#f7f7fe 240.8px,#f7f7fe 245.8px,#f7f7fe 250.7px,#f7f7fe 255.7px,#f7f7fe 260.7px,#f8f8fe 265.6px,#f8f8fe 270.6px,#f8f8fe 275.6px,#f8f8fe 280.5px,#f8f8fe 285.5px)"></i>
<i style="top:96.0px;height:1.5px;background:linear-gradient(90deg,#9999ef 0.0px,#9a9aef 4.4px,#9b9bef 8.8px,#9d9def 13.3px,#9e9ef0 17.7px,#a8a8f2 22.1px,#b2b2f4 26.6px,#bcbcf6 31.1px,#c7c7f8 35.5px,#d1d1fa 40.0px,#e1e1fc 43.5px,#f0f0fd 47.0px,#f8f8fe 49.9px,#ffffff 52.8px,#e8f4f1 57.2px,#c6e5dc 61.6px,#a9d6c9 64.6px,#57aa90 68.2px,#439e82 71.5px,#2e9274 74.8px,#419d81 78.3px,#54a98e 81.7px,#c4e4db 85.1px,#dbefe9 88.5px,#ffffff 93.5px,#eeeefd 96.5px,#ddddfb 99.5px,#e0e0fc 104.5px,#e4e4fc 109.5px,#e4e4fc 113.5px,#e4e4fc 117.6px,#e4e4fc 121.6px,#e4e4fc 125.7px,#e4e4fc 129.7px,#e6e6fc 133.6px,#e7e7fc 137.5px,#e9e9fd 141.4px,#ebebfd 145.3px,#e8e8fc 150.0px,#e6e6fc 154.6px,#ededfd 157.8px,#f4f4fe 161.0px,#f4f4fe 166.0px,#f4f4fe 171.0px,#f4f4fe 175.9px,#f4f4fe 180.9px,#f5f5fe 185.9px,#f5f5fe 190.9px,#f5f5fe 195.9px,#f5f5fe 200.8px,#f5f5fe 205.8px,#f6f6fe 210.8px,#f6f6fe 215.8px,#f6f6fe 220.8px,#f6f6fe 225.7px,#f6f6fe 230.7px,#f6f6fe 235.7px,#f7f7fe 240.7px,#f7f7fe 245.7px,#f7f7fe 250.6px,#f7f7fe 255.6px,#f7f7fe 260.6px,#f8f8fe 265.6px,#f8f8fe 270.6px,#f8f8fe 275.5px,#f8f8fe 280.5px,#f8f8fe 285.5px)"></i>
<i style="top:97.0px;height:1.5px;background:linear-gradient(90deg,#9a9aef 0.0px,#9b9bef 4.4px,#9c9cef 8.9px,#9d9def 13.3px,#9e9ef0 17.8px,#a8a8f2 22.3px,#b3b3f4 26.8px,#bdbdf6 31.3px,#c7c7f8 35.8px,#d2d2fa 40.3px,#e1e1fc 43.8px,#f1f1fd 47.3px,#f8f8fe 50.3px,#ffffff 53.2px,#e8f5f1 57.6px,#c7e6dd 61.9px,#aad7c9 64.9px,#58ab91 68.6px,#449f83 71.8px,#319376 75.0px,#449f83 78.4px,#57aa90 81.8px,#c4e4dc 85.1px,#dbeee9 88.5px,#ffffff 93.5px,#eeeefd 96.5px,#ddddfb 99.5px,#e1e1fc 104.5px,#e4e4fc 109.5px,#e4e4fc 113.5px,#e4e4fc 117.5px,#e4e4fc 121.6px,#e4e4fc 125.6px,#e4e4fc 129.6px,#e6e6fc 133.5px,#e7e7fc 137.4px,#e9e9fd 141.3px,#ebebfd 145.2px,#e9e9fc 149.8px,#e6e6fc 154.3px,#ededfd 157.5px,#f4f4fe 160.7px,#f4f4fe 165.7px,#f4f4fe 170.7px,#f4f4fe 175.7px,#f4f4fe 180.7px,#f5f5fe 185.7px,#f5f5fe 190.6px,#f5f5fe 195.6px,#f5f5fe 200.6px,#f5f5fe 205.6px,#f6f6fe 210.6px,#f6f6fe 215.6px,#f6f6fe 220.6px,#f6f6fe 225.6px,#f6f6fe 230.6px,#f6f6fe 235.6px,#f7f7fe 240.6px,#f7f7fe 245.6px,#f7f7fe 250.6px,#f7f7fe 255.5px,#f7f7fe 260.5px,#f8f8fe 265.5px,#f8f8fe 270.5px,#f8f8fe 275.5px,#f8f8fe 280.5px,#f8f8fe 285.5px)"></i>
<i style="top:98.0px;height:1.5px;background:linear-gradient(90deg,#9b9bef 0.0px,#9c9cef 4.5px,#9d9def 8.9px,#9d9def 13.4px,#9e9ef0 17.9px,#a9a9f2 22.4px,#b3b3f4 27.0px,#bebef6 31.5px,#c8c8f8 36.1px,#d2d2fa 40.6px,#e2e2fc 44.1px,#f2f2fe 47.6px,#f8f8fe 50.6px,#ffffff 53.7px,#e9f5f2 58.0px,#c9e6de 62.3px,#aad7ca 65.3px,#59ab92 69.0px,#46a084 72.1px,#339477 75.2px,#46a085 78.6px,#59ac92 81.9px,#c5e4dc 85.2px,#daeee9 88.5px,#ffffff 93.5px,#efeffd 96.5px,#dedefb 99.5px,#e1e1fc 104.5px,#e4e4fc 109.5px,#e4e4fc 114.5px,#e4e4fc 119.5px,#e4e4fc 124.5px,#e4e4fc 129.4px,#e6e6fc 133.4px,#e7e7fc 137.3px,#e9e9fd 141.2px,#ebebfd 145.1px,#e9e9fc 149.6px,#e6e6fc 154.1px,#ededfd 157.2px,#f4f4fe 160.4px,#f4f4fe 165.2px,#f4f4fe 170.0px,#f4f4fe 174.8px,#f4f4fe 179.6px,#f5f5fe 184.4px,#f5f5fe 189.3px,#f5f5fe 194.1px,#f5f5fe 198.9px,#f5f5fe 203.7px,#f5f5fe 208.5px,#f6f6fe 213.3px,#f6f6fe 218.1px,#f6f6fe 222.9px,#f6f6fe 227.8px,#f6f6fe 232.6px,#f7f7fe 237.4px,#f7f7fe 242.2px,#f7f7fe 247.0px,#f7f7fe 251.8px,#f7f7fe 256.6px,#f7f7fe 261.4px,#f8f8fe 266.3px,#f8f8fe 271.1px,#f8f8fe 275.9px,#f8f8fe 280.7px,#f8f8fe 285.5px)"></i>
<i style="top:99.0px;height:1.5px;background:linear-gradient(90deg,#9c9cef 0.0px,#9c9cef 4.5px,#9d9def 9.0px,#9e9ef0 13.5px,#9f9ff0 18.0px,#a9a9f2 22.6px,#b4b4f4 27.1px,#bebef6 31.7px,#c9c9f8 36.3px,#d3d3fa 40.9px,#e3e3fc 44.4px,#f2f2fe 47.9px,#f9f9fe 51.0px,#ffffff 54.1px,#eaf6f2 58.4px,#cae7df 62.6px,#abd8ca 65.6px,#5aac92 69.4px,#47a185 72.4px,#359679 75.4px,#48a186 78.7px,#5cad94 82.0px,#c5e5dc 85.2px,#daeee9 88.5px,#ffffff 93.5px,#efeffd 96.5px,#dfdffb 99.5px,#e2e2fc 104.5px,#e4e4fc 109.5px,#e4e4fc 114.4px,#e4e4fc 119.4px,#e4e4fc 124.3px,#e4e4fc 129.3px,#e6e6fc 133.2px,#e7e7fc 137.2px,#e9e9fd 141.1px,#ebebfd 145.0px,#e8e8fc 149.4px,#e6e6fc 153.8px,#ededfd 157.0px,#f4f4fe 160.1px,#f4f4fe 164.9px,#f4f4fe 169.7px,#f4f4fe 174.6px,#f4f4fe 179.4px,#f5f5fe 184.2px,#f5f5fe 189.0px,#f5f5fe 193.9px,#f5f5fe 198.7px,#f5f5fe 203.5px,#f5f5fe 208.3px,#f6f6fe 213.1px,#f6f6fe 218.0px,#f6f6fe 222.8px,#f6f6fe 227.6px,#f6f6fe 232.4px,#f7f7fe 237.3px,#f7f7fe 242.1px,#f7f7fe 246.9px,#f7f7fe 251.7px,#f7f7fe 256.6px,#f7f7fe 261.4px,#f8f8fe 266.2px,#f8f8fe 271.0px,#f8f8fe 275.9px,#f8f8fe 280.7px,#f8f8fe 285.5px)"></i>
<i style="top:100.0px;height:1.5px;background:linear-gradient(90deg,#9c9cef 0.0px,#9d9def 4.5px,#9e9eef 9.0px,#9e9ef0 13.6px,#9f9ff0 18.1px,#a9a9f2 22.7px,#b4b4f4 27.3px,#bfbff6 32.0px,#c9c9f8 36.6px,#d4d4fa 41.2px,#e3e3fc 44.7px,#f3f3fe 48.2px,#f9f9fe 51.4px,#ffffff 54.6px,#ebf6f3 58.8px,#cce8e0 63.0px,#acd8cb 66.0px,#5bac93 69.8px,#49a287 72.7px,#37977a 75.6px,#4ba388 78.9px,#5eaf95 82.1px,#c6e5dd 85.3px,#daeee9 88.5px,#ffffff 93.5px,#f0f0fd 96.5px,#e0e0fc 99.5px,#e2e2fc 104.5px,#e4e4fc 109.5px,#e4e4fc 114.4px,#e4e4fc 119.3px,#e4e4fc 124.2px,#e4e4fc 129.1px,#e6e6fc 133.1px,#e7e7fc 137.0px,#e9e9fd 141.0px,#ebebfd 144.9px,#e8e8fc 149.3px,#e6e6fc 153.6px,#ededfd 156.7px,#f4f4fe 159.8px,#f4f4fe 164.6px,#f4f4fe 169.5px,#f4f4fe 174.3px,#f4f4fe 179.1px,#f5f5fe 184.0px,#f5f5fe 188.8px,#f5f5fe 193.6px,#f5f5fe 198.5px,#f5f5fe 203.3px,#f5f5fe 208.1px,#f6f6fe 213.0px,#f6f6fe 217.8px,#f6f6fe 222.6px,#f6f6fe 227.5px,#f6f6fe 232.3px,#f7f7fe 237.1px,#f7f7fe 242.0px,#f7f7fe 246.8px,#f7f7fe 251.7px,#f7f7fe 256.5px,#f7f7fe 261.3px,#f8f8fe 266.2px,#f8f8fe 271.0px,#f8f8fe 275.8px,#f8f8fe 280.7px,#f8f8fe 285.5px)"></i>
<i style="top:101.0px;height:1.5px;background:linear-gradient(90deg,#9d9def 0.0px,#9e9ef0 4.5px,#9e9ef0 9.1px,#9f9ff0 13.6px,#9f9ff0 18.2px,#aaaaf2 22.8px,#b5b5f4 27.5px,#bfbff6 32.2px,#cacaf8 36.8px,#d4d4fa 41.5px,#e4e4fc 45.0px,#f4f4fe 48.5px,#f9f9fe 51.8px,#ffffff 55.0px,#ecf6f3 59.2px,#cee9e1 63.3px,#add8cb 66.3px,#5cad94 70.2px,#4ba388 73.0px,#3a997c 75.8px,#4da48a 79.0px,#61b097 82.2px,#c6e5dd 85.3px,#d9eee8 88.5px,#ffffff 93.5px,#f0f0fd 96.5px,#e1e1fc 99.5px,#e3e3fc 104.5px,#e4e4fc 109.5px,#e4e4fc 114.4px,#e4e4fc 119.2px,#e4e4fc 124.1px,#e4e4fc 129.0px,#e6e6fc 133.0px,#e7e7fc 136.9px,#e9e9fd 140.9px,#ebebfd 144.8px,#e8e8fc 149.1px,#e6e6fc 153.3px,#ededfd 156.4px,#f4f4fe 159.5px,#f4f4fe 164.3px,#f4f4fe 169.2px,#f4f4fe 174.0px,#f4f4fe 178.9px,#f5f5fe 183.7px,#f5f5fe 188.6px,#f5f5fe 193.4px,#f5f5fe 198.3px,#f5f5fe 203.1px,#f5f5fe 208.0px,#f6f6fe 212.8px,#f6f6fe 217.6px,#f6f6fe 222.5px,#f6f6fe 227.3px,#f6f6fe 232.2px,#f7f7fe 237.0px,#f7f7fe 241.9px,#f7f7fe 246.7px,#f7f7fe 251.6px,#f7f7fe 256.4px,#f7f7fe 261.3px,#f8f8fe 266.1px,#f8f8fe 271.0px,#f8f8fe 275.8px,#f8f8fe 280.7px,#f8f8fe 285.5px)"></i>
<i style="top:102.0px;height:1.5px;background:linear-gradient(90deg,#9e9ef0 0.0px,#9e9ef0 4.6px,#9f9ff0 9.1px,#9f9ff0 13.7px,#9f9ff0 18.3px,#aaaaf2 23.0px,#b5b5f4 27.7px,#c0c0f6 32.4px,#cbcbf9 37.1px,#d5d5fa 41.8px,#e5e5fc 45.3px,#f4f4fe 48.8px,#fafafe 52.1px,#ffffff 55.5px,#edf7f4 59.6px,#cfe9e2 63.7px,#add9cc 66.7px,#5dae94 70.6px,#4ca489 73.3px,#3c9a7d 76.0px,#50a68b 79.2px,#64b299 82.3px,#c7e5dd 85.4px,#d9eee8 88.5px,#ffffff 93.5px,#f0f0fd 96.5px,#e2e2fc 99.5px,#e3e3fc 104.5px,#e4e4fc 109.5px,#e4e4fc 114.3px,#e4e4fc 119.2px,#e4e4fc 124.0px,#e4e4fc 128.8px,#e6e6fc 132.8px,#e7e7fc 136.8px,#e9e9fd 140.8px,#ebebfd 144.7px,#e8e8fc 148.9px,#e6e6fc 153.1px,#ededfd 156.1px,#f4f4fe 159.2px,#f4f4fe 164.0px,#f4f4fe 168.9px,#f4f4fe 173.8px,#f4f4fe 178.6px,#f5f5fe 183.5px,#f5f5fe 188.3px,#f5f5fe 193.2px,#f5f5fe 198.1px,#f5f5fe 202.9px,#f5f5fe 207.8px,#f6f6fe 212.6px,#f6f6fe 217.5px,#f6f6fe 222.3px,#f6f6fe 227.2px,#f6f6fe 232.1px,#f7f7fe 236.9px,#f7f7fe 241.8px,#f7f7fe 246.6px,#f7f7fe 251.5px,#f7f7fe 256.4px,#f7f7fe 261.2px,#f8f8fe 266.1px,#f8f8fe 270.9px,#f8f8fe 275.8px,#f8f8fe 280.6px,#f8f8fe 285.5px)"></i>
<i style="top:103.0px;height:1.5px;background:linear-gradient(90deg,#9f9ff0 0.0px,#9f9ff0 4.6px,#9f9ff0 9.2px,#9f9ff0 13.8px,#a0a0f0 18.4px,#ababf2 23.1px,#b5b5f4 27.9px,#c0c0f6 32.6px,#cbcbf9 37.4px,#d6d6fa 42.1px,#e5e5fc 45.6px,#f5f5fe 49.1px,#fafafe 52.5px,#ffffff 55.9px,#edf7f4 60.0px,#d1eae3 64.0px,#aed9cc 67.0px,#5eae95 71.0px,#4ea58a 73.6px,#3e9b7f 76.2px,#52a78d 79.3px,#66b39b 82.4px,#c7e6de 85.4px,#d9eee8 88.5px,#ffffff 93.5px,#f1f1fd 96.5px,#e3e3fc 99.5px,#e3e3fc 104.5px,#e4e4fc 109.5px,#e4e4fc 114.3px,#e4e4fc 119.1px,#e4e4fc 123.9px,#e4e4fc 128.7px,#e6e6fc 132.7px,#e7e7fc 136.7px,#e9e9fd 140.6px,#ebebfd 144.6px,#e8e8fc 148.7px,#e6e6fc 152.8px,#ededfd 155.9px,#f4f4fe 158.9px,#f4f4fe 163.8px,#f4f4fe 168.6px,#f4f4fe 173.5px,#f4f4fe 178.4px,#f5f5fe 183.2px,#f5f5fe 188.1px,#f5f5fe 193.0px,#f5f5fe 197.8px,#f5f5fe 202.7px,#f5f5fe 207.6px,#f6f6fe 212.5px,#f6f6fe 217.3px,#f6f6fe 222.2px,#f6f6fe 227.1px,#f6f6fe 231.9px,#f7f7fe 236.8px,#f7f7fe 241.7px,#f7f7fe 246.5px,#f7f7fe 251.4px,#f7f7fe 256.3px,#f7f7fe 261.2px,#f8f8fe 266.0px,#f8f8fe 270.9px,#f8f8fe 275.8px,#f8f8fe 280.6px,#f8f8fe 285.5px)"></i>
<i style="top:104.0px;height:1.5px;background:linear-gradient(90deg,#a0a0f0 0.0px,#a0a0f0 4.6px,#a0a0f0 9.2px,#a0a0f0 13.9px,#a0a0f0 18.5px,#ababf2 23.3px,#b6b6f4 28.0px,#c1c1f7 32.8px,#ccccf9 37.6px,#d6d6fa 42.4px,#e6e6fc 45.9px,#f6f6fe 49.4px,#fafafe 52.9px,#ffffff 56.4px,#eef7f5 60.4px,#d3ebe4 64.4px,#afd9cd 67.4px,#5faf96 71.4px,#50a68b 73.9px,#409d81 76.4px,#54a98f 79.5px,#69b59d 82.5px,#c8e6de 85.5px,#d9eee8 88.5px,#ffffff 93.5px,#f1f1fd 96.5px,#e4e4fc 99.5px,#e4e4fc 104.5px,#e4e4fc 109.5px,#e4e4fc 114.3px,#e4e4fc 119.0px,#e4e4fc 123.8px,#e4e4fc 128.5px,#e6e6fc 132.5px,#e7e7fc 136.5px,#e9e9fd 140.5px,#ebebfd 144.5px,#e8e8fc 148.6px,#e6e6fc 152.6px,#ededfd 155.6px,#f4f4fe 158.6px,#f4f4fe 163.5px,#f4f4fe 168.4px,#f4f4fe 173.2px,#f4f4fe 178.1px,#f5f5fe 183.0px,#f5f5fe 187.9px,#f5f5fe 192.8px,#f5f5fe 197.6px,#f5f5fe 202.5px,#f5f5fe 207.4px,#f6f6fe 212.3px,#f6f6fe 217.2px,#f6f6fe 222.0px,#f6f6fe 226.9px,#f6f6fe 231.8px,#f7f7fe 236.7px,#f7f7fe 241.6px,#f7f7fe 246.5px,#f7f7fe 251.3px,#f7f7fe 256.2px,#f7f7fe 261.1px,#f8f8fe 266.0px,#f8f8fe 270.9px,#f8f8fe 275.7px,#f8f8fe 280.6px,#f8f8fe 285.5px)"></i>
<i style="top:105.0px;height:1.5px;background:linear-gradient(90deg,#a1a1f0 0.0px,#a1a1f0 4.6px,#a1a1f0 9.2px,#a1a1f0 13.9px,#a1a1f0 18.5px,#acacf2 23.3px,#b7b7f5 28.2px,#c2c2f7 33.0px,#cdcdf9 37.9px,#d7d7fb 42.7px,#e6e6fc 46.2px,#f6f6fe 49.7px,#fafafe 53.2px,#ffffff 56.7px,#eff8f5 60.7px,#d3ebe5 64.7px,#b0dace 67.7px,#62b198 71.6px,#449f83 76.6px,#58ab91 79.6px,#6db69f 82.5px,#c9e6de 85.5px,#d9eee8 88.5px,#ffffff 93.5px,#f2f2fe 96.5px,#e4e4fc 99.5px,#e4e4fc 104.5px,#e4e4fc 109.5px,#e4e4fc 114.3px,#e4e4fc 119.0px,#e4e4fc 123.7px,#e4e4fc 128.4px,#e6e6fc 132.4px,#e7e7fc 136.3px,#e9e9fd 140.3px,#ebebfd 144.2px,#e9e9fd 148.2px,#e6e6fc 152.2px,#ededfd 155.2px,#f4f4fe 158.1px,#f4f4fe 163.0px,#f4f4fe 167.9px,#f4f4fe 172.8px,#f4f4fe 177.7px,#f5f5fe 182.6px,#f5f5fe 187.5px,#f5f5fe 192.4px,#f5f5fe 197.3px,#f5f5fe 202.2px,#f5f5fe 207.1px,#f6f6fe 212.0px,#f6f6fe 216.9px,#f6f6fe 221.8px,#f6f6fe 226.7px,#f6f6fe 231.6px,#f7f7fe 236.5px,#f7f7fe 241.4px,#f7f7fe 246.3px,#f7f7fe 251.2px,#f7f7fe 256.1px,#f7f7fe 261.0px,#f8f8fe 265.9px,#f8f8fe 270.8px,#f8f8fe 275.7px,#f8f8fe 280.6px,#f8f8fe 285.5px)"></i>
<i style="top:106.0px;height:1.5px;background:linear-gradient(90deg,#a2a2f0 0.0px,#a2a2f0 4.6px,#a2a2f0 9.2px,#a1a1f0 13.9px,#a1a1f0 18.5px,#acacf2 23.4px,#b7b7f5 28.3px,#c2c2f7 33.2px,#cdcdf9 38.1px,#d8d8fb 43.0px,#e7e7fc 46.6px,#f6f6fe 50.1px,#fafafe 53.6px,#ffffff 57.1px,#eff8f5 61.1px,#d4ebe5 65.0px,#b2dbcf 67.9px,#66b39b 71.8px,#49a286 76.8px,#5cad94 79.7px,#71b9a2 82.6px,#cae7df 85.6px,#d9eee8 88.6px,#ecf6f4 91.1px,#ffffff 93.6px,#f2f2fe 96.6px,#e4e4fc 99.6px,#e4e4fc 104.6px,#e4e4fc 109.6px,#e4e4fc 114.3px,#e4e4fc 119.0px,#e4e4fc 123.6px,#e4e4fc 128.3px,#e6e6fc 132.2px,#e7e7fc 136.1px,#e9e9fd 139.9px,#ebebfd 143.8px,#e9e9fd 147.8px,#e6e6fc 151.7px,#ededfd 154.7px,#f4f4fe 157.6px,#f4f4fe 162.6px,#f4f4fe 167.5px,#f4f4fe 172.4px,#f4f4fe 177.3px,#f5f5fe 182.2px,#f5f5fe 187.2px,#f5f5fe 192.1px,#f5f5fe 197.0px,#f5f5fe 201.9px,#f5f5fe 206.8px,#f6f6fe 211.7px,#f6f6fe 216.7px,#f6f6fe 221.6px,#f6f6fe 226.5px,#f6f6fe 231.4px,#f7f7fe 236.3px,#f7f7fe 241.2px,#f7f7fe 246.2px,#f7f7fe 251.1px,#f7f7fe 256.0px,#f7f7fe 260.9px,#f8f8fe 265.8px,#f8f8fe 270.7px,#f8f8fe 275.7px,#f8f8fe 280.6px,#f8f8fe 285.5px)"></i>
<i style="top:107.0px;height:1.5px;background:linear-gradient(90deg,#a3a3f1 0.0px,#a3a3f1 4.6px,#a3a3f1 9.2px,#a2a2f0 13.9px,#a2a2f0 18.5px,#adadf3 23.5px,#b8b8f5 28.4px,#c3c3f7 33.4px,#cecef9 38.3px,#d8d8fb 43.3px,#e7e7fc 46.9px,#f6f6fe 50.4px,#fafafe 53.9px,#ffffff 57.4px,#eff8f6 61.4px,#d4ece5 65.3px,#b4dcd0 68.2px,#6bb59e 72.0px,#4da48a 76.9px,#60af97 79.8px,#74bba5 82.6px,#cbe7e0 85.6px,#daeee9 88.6px,#ffffff 93.6px,#f2f2fe 96.6px,#e5e5fc 99.6px,#e4e4fc 103.0px,#e4e4fc 106.3px,#e4e4fc 109.6px,#e4e4fc 114.3px,#e4e4fc 118.9px,#e4e4fc 123.6px,#e4e4fc 128.2px,#e6e6fc 132.0px,#e7e7fc 135.8px,#e9e9fd 139.6px,#ebebfd 143.4px,#e9e9fd 147.4px,#e7e7fc 151.3px,#ededfd 154.2px,#f4f4fe 157.1px,#f4f4fe 162.1px,#f4f4fe 167.0px,#f4f4fe 172.0px,#f4f4fe 176.9px,#f5f5fe 181.8px,#f5f5fe 186.8px,#f5f5fe 191.7px,#f5f5fe 196.6px,#f5f5fe 201.6px,#f5f5fe 206.5px,#f6f6fe 211.5px,#f6f6fe 216.4px,#f6f6fe 221.3px,#f6f6fe 226.3px,#f6f6fe 231.2px,#f7f7fe 236.1px,#f7f7fe 241.1px,#f7f7fe 246.0px,#f7f7fe 250.9px,#f7f7fe 255.9px,#f7f7fe 260.8px,#f8f8fe 265.8px,#f8f8fe 270.7px,#f8f8fe 275.6px,#f8f8fe 280.6px,#f8f8fe 285.5px)"></i>
<i style="top:108.0px;height:1.5px;background:linear-gradient(90deg,#a5a5f1 0.0px,#a4a4f1 4.6px,#a4a4f1 9.2px,#a3a3f1 13.9px,#a3a3f1 18.5px,#acacf2 22.7px,#b5b5f4 26.9px,#bebef6 31.1px,#c7c7f8 35.2px,#d1d1fa 39.4px,#d9d9fb 43.6px,#e7e7fc 47.2px,#f6f6fe 50.8px,#fafafe 54.3px,#ffffff 57.8px,#f0f8f6 61.8px,#d5ece6 65.6px,#b5ddd1 68.4px,#6fb8a1 72.2px,#52a78d 77.1px,#64b29a 79.9px,#78bda7 82.7px,#cce8e0 85.7px,#dbeee9 88.7px,#ffffff 93.7px,#f2f2fe 96.7px,#e5e5fc 99.7px,#e4e4fc 104.7px,#e4e4fc 109.7px,#e4e4fc 114.3px,#e4e4fc 118.9px,#e4e4fc 123.5px,#e4e4fc 128.1px,#e6e6fc 133.1px,#e8e8fc 138.1px,#ebebfd 143.0px,#e9e9fd 146.9px,#e7e7fc 150.8px,#ededfd 153.7px,#f4f4fe 156.6px,#f4f4fe 161.6px,#f4f4fe 166.6px,#f4f4fe 171.5px,#f4f4fe 176.5px,#f5f5fe 181.4px,#f5f5fe 186.4px,#f5f5fe 191.3px,#f5f5fe 196.3px,#f5f5fe 201.3px,#f5f5fe 206.2px,#f6f6fe 211.2px,#f6f6fe 216.1px,#f6f6fe 221.1px,#f6f6fe 226.0px,#f6f6fe 231.0px,#f7f7fe 235.9px,#f7f7fe 240.9px,#f7f7fe 245.9px,#f7f7fe 250.8px,#f7f7fe 255.8px,#f7f7fe 260.7px,#f8f8fe 265.7px,#f8f8fe 270.6px,#f8f8fe 275.6px,#f8f8fe 280.5px,#f8f8fe 285.5px)"></i>
<i style="top:109.0px;height:1.5px;background:linear-gradient(90deg,#a6a6f1 0.0px,#a5a5f1 4.6px,#a5a5f1 9.2px,#a4a4f1 13.9px,#a4a4f1 18.5px,#adadf3 22.7px,#b6b6f4 27.0px,#bfbff6 31.2px,#c8c8f8 35.4px,#d1d1fa 39.7px,#dadafb 43.9px,#e8e8fc 47.5px,#f6f6fe 51.1px,#fafafe 54.6px,#ffffff 58.1px,#f0f8f6 62.1px,#d6ece6 65.9px,#b7ded3 68.7px,#74baa4 72.4px,#56aa90 77.2px,#69b49d 80.0px,#7cbfaa 82.7px,#cde8e1 85.7px,#dbefe9 88.7px,#ffffff 93.7px,#f2f2fe 96.7px,#e5e5fc 99.7px,#e5e5fc 104.7px,#e4e4fc 109.7px,#e4e4fc 114.3px,#e4e4fc 118.9px,#e4e4fc 123.5px,#e4e4fc 128.0px,#e6e6fc 132.9px,#e8e8fc 137.8px,#ebebfd 142.6px,#e9e9fd 146.5px,#e7e7fc 150.4px,#ededfd 153.3px,#f4f4fe 156.2px,#f4f4fe 161.1px,#f4f4fe 166.1px,#f4f4fe 171.1px,#f4f4fe 176.1px,#f5f5fe 181.0px,#f5f5fe 186.0px,#f5f5fe 191.0px,#f5f5fe 196.0px,#f5f5fe 200.9px,#f5f5fe 205.9px,#f6f6fe 210.9px,#f6f6fe 215.9px,#f6f6fe 220.8px,#f6f6fe 225.8px,#f6f6fe 230.8px,#f7f7fe 235.8px,#f7f7fe 240.7px,#f7f7fe 245.7px,#f7f7fe 250.7px,#f7f7fe 255.7px,#f7f7fe 260.6px,#f8f8fe 265.6px,#f8f8fe 270.6px,#f8f8fe 275.6px,#f8f8fe 280.5px,#f8f8fe 285.5px)"></i>
<i style="top:110.0px;height:1.5px;background:linear-gradient(90deg,#a7a7f1 0.0px,#a6a6f1 4.6px,#a6a6f1 9.2px,#a5a5f1 13.9px,#a4a4f1 18.5px,#adadf3 22.8px,#b7b7f5 27.1px,#c0c0f6 31.4px,#c9c9f8 35.6px,#d2d2fa 39.9px,#dadafb 44.2px,#e8e8fc 47.9px,#f6f6fe 51.5px,#fafafe 55.0px,#ffffff 58.5px,#f0f8f6 62.5px,#d6ece6 66.2px,#b9ded4 68.9px,#78bda7 72.6px,#5bac93 77.4px,#6db7a0 80.1px,#80c1ad 82.8px,#cee9e2 85.8px,#dcefea 88.8px,#ffffff 93.8px,#f2f2fe 96.8px,#e5e5fc 99.8px,#e5e5fc 104.8px,#e4e4fc 109.8px,#e4e4fc 114.3px,#e4e4fc 118.9px,#e4e4fc 123.4px,#e4e4fc 127.9px,#e6e6fc 132.7px,#e8e8fc 137.5px,#ebebfd 142.2px,#e9e9fd 146.1px,#e7e7fc 149.9px,#ededfd 152.8px,#f4f4fe 155.6px,#f4f4fe 160.6px,#f4f4fe 165.6px,#f4f4fe 170.6px,#f4f4fe 175.6px,#f5f5fe 180.6px,#f5f5fe 185.6px,#f5f5fe 190.6px,#f5f5fe 195.6px,#f5f5fe 200.6px,#f5f5fe 205.6px,#f6f6fe 210.6px,#f6f6fe 215.6px,#f6f6fe 220.6px,#f6f6fe 225.6px,#f6f6fe 230.6px,#f7f7fe 235.6px,#f7f7fe 240.6px,#f7f7fe 245.5px,#f7f7fe 250.5px,#f7f7fe 255.5px,#f7f7fe 260.5px,#f8f8fe 265.5px,#f8f8fe 270.5px,#f8f8fe 275.5px,#f8f8fe 280.5px,#f8f8fe 285.5px)"></i>
<i style="top:111.0px;height:1.5px;background:linear-gradient(90deg,#a8a8f2 0.0px,#a8a8f2 4.6px,#a7a7f1 9.2px,#a6a6f1 13.9px,#a5a5f1 18.5px,#aeaef3 22.8px,#b7b7f5 27.2px,#c1c1f7 31.5px,#cacaf8 35.8px,#d3d3fa 40.2px,#dbdbfb 44.5px,#e9e9fd 48.2px,#f6f6fe 51.8px,#fafafe 55.3px,#ffffff 58.8px,#f0f8f6 62.8px,#d7ede7 66.5px,#bbdfd5 69.2px,#7cbfaa 72.8px,#5faf96 77.5px,#71b9a3 80.2px,#84c3af 82.8px,#cfe9e2 85.8px,#dcefea 88.8px,#ffffff 93.8px,#f2f2fe 96.8px,#e6e6fc 99.8px,#e5e5fc 104.8px,#e4e4fc 109.8px,#e4e4fc 114.3px,#e4e4fc 118.8px,#e4e4fc 123.3px,#e4e4fc 127.8px,#e6e6fc 132.5px,#e8e8fc 137.2px,#ebebfd 141.8px,#e9e9fd 145.7px,#e7e7fc 149.5px,#ededfd 152.3px,#f4f4fe 155.1px,#f4f4fe 160.0px,#f4f4fe 164.8px,#f4f4fe 169.6px,#f4f4fe 174.5px,#f5f5fe 179.3px,#f5f5fe 184.1px,#f5f5fe 188.9px,#f5f5fe 193.8px,#f5f5fe 198.6px,#f5f5fe 203.4px,#f6f6fe 208.3px,#f6f6fe 213.1px,#f6f6fe 217.9px,#f6f6fe 222.7px,#f6f6fe 227.6px,#f6f6fe 232.4px,#f7f7fe 237.2px,#f7f7fe 242.0px,#f7f7fe 246.9px,#f7f7fe 251.7px,#f7f7fe 256.5px,#f7f7fe 261.4px,#f8f8fe 266.2px,#f8f8fe 271.0px,#f8f8fe 275.8px,#f8f8fe 280.7px,#f8f8fe 285.5px)"></i>
<i style="top:112.0px;height:1.5px;background:linear-gradient(90deg,#aaaaf2 0.0px,#a9a9f2 4.6px,#a8a8f2 9.2px,#a7a7f1 13.9px,#a6a6f1 18.5px,#afaff3 22.9px,#b8b8f5 27.3px,#c1c1f7 31.7px,#cacaf8 36.0px,#d3d3fa 40.4px,#dcdcfb 44.8px,#e9e9fd 48.5px,#f6f6fe 52.2px,#fafafe 55.7px,#ffffff 59.2px,#f1f8f6 63.2px,#d7ede7 66.8px,#bce0d6 69.4px,#81c1ad 73.0px,#64b29a 77.7px,#76bba6 80.3px,#88c5b2 82.9px,#d0eae3 85.9px,#ddefea 88.9px,#ffffff 93.9px,#f2f2fe 96.9px,#e6e6fc 99.9px,#e5e5fc 104.9px,#e4e4fc 109.9px,#e4e4fc 114.3px,#e4e4fc 118.8px,#e4e4fc 123.3px,#e4e4fc 127.7px,#e6e6fc 132.3px,#e8e8fc 136.9px,#ebebfd 141.4px,#e9e9fd 145.2px,#e7e7fc 149.0px,#ededfd 151.8px,#f4f4fe 154.6px,#f4f4fe 159.5px,#f4f4fe 164.3px,#f4f4fe 169.2px,#f4f4fe 174.0px,#f5f5fe 178.9px,#f5f5fe 183.7px,#f5f5fe 188.6px,#f5f5fe 193.4px,#f5f5fe 198.3px,#f5f5fe 203.1px,#f6f6fe 208.0px,#f6f6fe 212.8px,#f6f6fe 217.7px,#f6f6fe 222.5px,#f6f6fe 227.3px,#f6f6fe 232.2px,#f7f7fe 237.0px,#f7f7fe 241.9px,#f7f7fe 246.7px,#f7f7fe 251.6px,#f7f7fe 256.4px,#f7f7fe 261.3px,#f8f8fe 266.1px,#f8f8fe 271.0px,#f8f8fe 275.8px,#f8f8fe 280.7px,#f8f8fe 285.5px)"></i>
<i style="top:113.0px;height:1.5px;background:linear-gradient(90deg,#ababf2 0.0px,#aaaaf2 4.6px,#a9a9f2 9.2px,#a8a8f2 13.9px,#a7a7f1 18.5px,#b0b0f3 22.9px,#b9b9f5 27.4px,#c2c2f7 31.8px,#cbcbf9 36.2px,#d4d4fa 40.7px,#dcdcfb 45.1px,#e9e9fd 48.8px,#f6f6fe 52.5px,#fafafe 56.0px,#ffffff 59.5px,#f1f9f7 63.5px,#d8ede7 67.1px,#bee1d7 69.7px,#85c4b0 73.2px,#69b49d 77.8px,#7abea9 80.4px,#8bc7b5 82.9px,#d2eae4 85.9px,#ddf0eb 88.9px,#ffffff 93.9px,#f2f2fe 96.9px,#e6e6fc 99.9px,#e5e5fc 104.9px,#e4e4fc 109.9px,#e4e4fc 114.4px,#e4e4fc 118.8px,#e4e4fc 123.2px,#e4e4fc 127.6px,#e6e6fc 132.1px,#e8e8fc 136.6px,#ebebfd 141.0px,#e9e9fd 144.8px,#e7e7fc 148.6px,#ededfd 151.4px,#f4f4fe 154.1px,#f4f4fe 159.0px,#f4f4fe 163.9px,#f4f4fe 168.7px,#f4f4fe 173.6px,#f5f5fe 178.5px,#f5f5fe 183.3px,#f5f5fe 188.2px,#f5f5fe 193.1px,#f5f5fe 197.9px,#f5f5fe 202.8px,#f6f6fe 207.7px,#f6f6fe 212.5px,#f6f6fe 217.4px,#f6f6fe 222.3px,#f6f6fe 227.1px,#f6f6fe 232.0px,#f7f7fe 236.9px,#f7f7fe 241.7px,#f7f7fe 246.6px,#f7f7fe 251.4px,#f7f7fe 256.3px,#f7f7fe 261.2px,#f8f8fe 266.0px,#f8f8fe 270.9px,#f8f8fe 275.8px,#f8f8fe 280.6px,#f8f8fe 285.5px)"></i>
<i style="top:114.0px;height:1.5px;background:linear-gradient(90deg,#acacf2 0.0px,#ababf2 4.6px,#aaaaf2 9.2px,#a8a8f2 13.9px,#a7a7f1 18.5px,#b0b0f3 23.0px,#babaf5 27.5px,#c3c3f7 32.0px,#ccccf9 36.4px,#d5d5fa 40.9px,#ddddfb 45.4px,#eaeafd 49.2px,#f6f6fe 52.9px,#fafafe 56.4px,#ffffff 59.9px,#f1f9f7 63.9px,#d8ede8 67.4px,#c0e2d9 69.9px,#8ac6b3 73.4px,#6eb7a0 78.0px,#7fc0ac 80.5px,#8fc9b7 83.0px,#d3ebe4 86.0px,#def0eb 89.0px,#ffffff 94.0px,#f3f3fe 97.0px,#e6e6fc 100.0px,#e5e5fc 105.0px,#e4e4fc 110.0px,#e4e4fc 114.4px,#e4e4fc 118.8px,#e4e4fc 123.1px,#e4e4fc 127.5px,#e6e6fc 131.9px,#e9e9fc 136.3px,#ebebfd 140.6px,#e9e9fd 144.4px,#e7e7fc 148.1px,#eeeefd 150.9px,#f4f4fe 153.7px,#f4f4fe 158.5px,#f4f4fe 163.4px,#f4f4fe 168.3px,#f4f4fe 173.2px,#f5f5fe 178.1px,#f5f5fe 183.0px,#f5f5fe 187.8px,#f5f5fe 192.7px,#f5f5fe 197.6px,#f5f5fe 202.5px,#f6f6fe 207.4px,#f6f6fe 212.2px,#f6f6fe 217.1px,#f6f6fe 222.0px,#f6f6fe 226.9px,#f6f6fe 231.8px,#f7f7fe 236.7px,#f7f7fe 241.6px,#f7f7fe 246.4px,#f7f7fe 251.3px,#f7f7fe 256.2px,#f7f7fe 261.1px,#f8f8fe 266.0px,#f8f8fe 270.9px,#f8f8fe 275.7px,#f8f8fe 280.6px,#f8f8fe 285.5px)"></i>
<i style="top:115.0px;height:1.5px;background:linear-gradient(90deg,#adadf3 0.0px,#acacf2 4.6px,#ababf2 9.2px,#a9a9f2 13.9px,#a8a8f2 18.5px,#b1b1f3 23.0px,#babaf5 27.6px,#c4c4f7 32.1px,#cdcdf9 36.6px,#d5d5fa 41.2px,#dedefb 45.7px,#eaeafd 49.5px,#f6f6fe 53.2px,#fafafe 56.7px,#ffffff 60.2px,#f1f9f7 64.2px,#d9eee8 67.7px,#c2e3da 70.2px,#8ec9b7 73.6px,#73baa4 78.1px,#93cbba 83.0px,#d4ebe5 86.0px,#def0eb 89.0px,#eff8f5 91.5px,#ffffff 94.0px,#f3f3fe 97.0px,#e6e6fc 100.0px,#e6e6fc 103.4px,#e5e5fc 106.7px,#e4e4fc 110.0px,#e4e4fc 114.4px,#e4e4fc 118.7px,#e4e4fc 123.1px,#e4e4fc 127.4px,#e6e6fc 131.7px,#e8e8fc 136.0px,#ebebfd 140.2px,#e9e9fd 144.0px,#e7e7fc 147.7px,#eeeefd 150.4px,#f4f4fe 153.1px,#f4f4fe 158.1px,#f4f4fe 163.0px,#f4f4fe 167.9px,#f4f4fe 172.8px,#f5f5fe 177.7px,#f5f5fe 182.6px,#f5f5fe 187.5px,#f5f5fe 192.4px,#f5f5fe 197.3px,#f5f5fe 202.2px,#f6f6fe 207.1px,#f6f6fe 212.0px,#f6f6fe 216.9px,#f6f6fe 221.8px,#f6f6fe 226.7px,#f6f6fe 231.6px,#f7f7fe 236.5px,#f7f7fe 241.4px,#f7f7fe 246.3px,#f7f7fe 251.2px,#f7f7fe 256.1px,#f7f7fe 261.0px,#f8f8fe 265.9px,#f8f8fe 270.8px,#f8f8fe 275.7px,#f8f8fe 280.6px,#f8f8fe 285.5px)"></i>
<i style="top:116.0px;height:1.5px;background:linear-gradient(90deg,#afaff3 0.0px,#adadf3 4.6px,#acacf2 9.2px,#aaaaf2 13.9px,#a9a9f2 18.5px,#b2b2f4 23.1px,#bbbbf5 27.7px,#c4c4f7 32.3px,#cdcdf9 36.8px,#d6d6fa 41.4px,#dedefb 46.0px,#eaeafd 49.8px,#f6f6fe 53.6px,#fafafe 57.1px,#ffffff 60.6px,#f2f9f7 64.6px,#d9eee8 68.0px,#c3e4db 70.4px,#92cbba 73.8px,#78bda7 78.3px,#97cdbd 83.1px,#d5ece6 86.1px,#dff0ec 89.1px,#eff8f5 91.6px,#ffffff 94.1px,#f3f3fe 97.1px,#e7e7fc 100.1px,#e5e5fc 105.1px,#e4e4fc 110.1px,#e4e4fc 114.4px,#e4e4fc 118.7px,#e4e4fc 123.0px,#e4e4fc 127.3px,#e6e6fc 131.5px,#e8e8fc 135.7px,#ebebfd 139.8px,#e9e9fd 143.5px,#e8e8fc 147.2px,#eeeefd 149.9px,#f4f4fe 152.6px,#f4f4fe 157.6px,#f4f4fe 162.5px,#f4f4fe 167.4px,#f4f4fe 172.3px,#f5f5fe 177.3px,#f5f5fe 182.2px,#f5f5fe 187.1px,#f5f5fe 192.0px,#f5f5fe 196.9px,#f5f5fe 201.9px,#f6f6fe 206.8px,#f6f6fe 211.7px,#f6f6fe 216.6px,#f6f6fe 221.5px,#f6f6fe 226.5px,#f6f6fe 231.4px,#f7f7fe 236.3px,#f7f7fe 241.2px,#f7f7fe 246.1px,#f7f7fe 251.1px,#f7f7fe 256.0px,#f7f7fe 260.9px,#f8f8fe 265.8px,#f8f8fe 270.7px,#f8f8fe 275.7px,#f8f8fe 280.6px,#f8f8fe 285.5px)"></i>
<i style="top:117.0px;height:1.5px;background:linear-gradient(90deg,#b0b0f3 0.0px,#aeaef3 4.6px,#adadf3 9.2px,#ababf2 13.9px,#aaaaf2 18.5px,#b3b3f4 23.1px,#bcbcf6 27.8px,#c5c5f7 32.4px,#cecef9 37.0px,#d7d7fb 41.7px,#dfdffb 46.3px,#ebebfd 50.1px,#f6f6fe 53.9px,#fafafe 57.4px,#ffffff 60.9px,#f2f9f7 64.9px,#daeee9 68.3px,#c5e5dc 70.7px,#97cdbd 74.0px,#7dbfab 78.4px,#9acfbf 83.1px,#d6ece6 86.1px,#dff1ec 89.1px,#ffffff 94.1px,#f3f3fe 97.1px,#e7e7fc 100.1px,#e5e5fc 105.1px,#e4e4fc 110.1px,#e4e4fc 114.4px,#e4e4fc 118.7px,#e4e4fc 123.0px,#e4e4fc 127.2px,#e6e6fc 131.3px,#e8e8fc 135.4px,#ebebfd 139.4px,#e9e9fd 143.1px,#e8e8fc 146.8px,#eeeefd 149.5px,#f4f4fe 152.2px,#f4f4fe 157.1px,#f4f4fe 162.0px,#f4f4fe 167.0px,#f4f4fe 171.9px,#f5f5fe 176.8px,#f5f5fe 181.8px,#f5f5fe 186.7px,#f5f5fe 191.7px,#f5f5fe 196.6px,#f5f5fe 201.5px,#f6f6fe 206.5px,#f6f6fe 211.4px,#f6f6fe 216.4px,#f6f6fe 221.3px,#f6f6fe 226.2px,#f6f6fe 231.2px,#f7f7fe 236.1px,#f7f7fe 241.1px,#f7f7fe 246.0px,#f7f7fe 250.9px,#f7f7fe 255.9px,#f7f7fe 260.8px,#f8f8fe 265.7px,#f8f8fe 270.7px,#f8f8fe 275.6px,#f8f8fe 280.6px,#f8f8fe 285.5px)"></i>
<i style="top:118.0px;height:1.5px;background:linear-gradient(90deg,#b1b1f3 0.0px,#afaff3 4.6px,#aeaef3 9.2px,#acacf2 13.9px,#aaaaf2 18.5px,#b3b3f4 23.2px,#bdbdf6 27.9px,#c6c6f8 32.6px,#cfcff9 37.2px,#d7d7fb 41.9px,#e0e0fc 46.6px,#ebebfd 50.5px,#f6f6fe 54.3px,#fafafe 57.8px,#ffffff 61.3px,#f2f9f7 65.3px,#dbeee9 68.6px,#c7e5dd 70.9px,#9bcfbf 74.2px,#82c2ae 78.6px,#9ed1c1 83.2px,#d7ede7 86.2px,#e0f1ec 89.2px,#ffffff 94.2px,#f3f3fe 97.2px,#e7e7fc 100.2px,#e6e6fc 105.2px,#e4e4fc 110.2px,#e4e4fc 114.4px,#e4e4fc 118.7px,#e4e4fc 122.9px,#e4e4fc 127.1px,#e6e6fc 131.1px,#e9e9fc 135.1px,#ebebfd 139.0px,#e9e9fd 142.7px,#e8e8fc 146.3px,#eeeefd 149.0px,#f4f4fe 151.6px,#f4f4fe 156.6px,#f4f4fe 161.6px,#f4f4fe 166.5px,#f4f4fe 171.5px,#f5f5fe 176.4px,#f5f5fe 181.4px,#f5f5fe 186.4px,#f5f5fe 191.3px,#f5f5fe 196.3px,#f5f5fe 201.2px,#f6f6fe 206.2px,#f6f6fe 211.1px,#f6f6fe 216.1px,#f6f6fe 221.1px,#f6f6fe 226.0px,#f6f6fe 231.0px,#f7f7fe 235.9px,#f7f7fe 240.9px,#f7f7fe 245.8px,#f7f7fe 250.8px,#f7f7fe 255.8px,#f7f7fe 260.7px,#f8f8fe 265.7px,#f8f8fe 270.6px,#f8f8fe 275.6px,#f8f8fe 280.5px,#f8f8fe 285.5px)"></i>
<i style="top:119.0px;height:1.5px;background:linear-gradient(90deg,#b2b2f4 0.0px,#b1b1f3 4.6px,#afaff3 9.2px,#adadf3 13.9px,#ababf2 18.5px,#b4b4f4 23.2px,#bdbdf6 28.0px,#c7c7f8 32.7px,#d0d0fa 37.4px,#d8d8fb 42.2px,#e0e0fc 46.9px,#ebebfd 50.8px,#f6f6fe 54.6px,#fafafe 58.1px,#ffffff 61.6px,#f3f9f8 65.6px,#dbefe9 68.9px,#c9e6de 71.2px,#9fd1c2 74.4px,#87c5b1 78.7px,#a1d3c4 83.2px,#d8ede8 86.2px,#e1f1ed 89.2px,#ffffff 94.2px,#f3f3fe 97.2px,#e7e7fc 100.2px,#e6e6fc 105.2px,#e4e4fc 110.2px,#e4e4fc 114.4px,#e4e4fc 118.6px,#e4e4fc 122.8px,#e4e4fc 127.0px,#e6e6fc 130.9px,#e8e8fc 134.8px,#ebebfd 138.6px,#e9e9fd 142.3px,#e8e8fc 145.9px,#eeeefd 148.5px,#f4f4fe 151.2px,#f4f4fe 156.1px,#f4f4fe 161.1px,#f4f4fe 166.1px,#f4f4fe 171.1px,#f5f5fe 176.0px,#f5f5fe 181.0px,#f5f5fe 186.0px,#f5f5fe 191.0px,#f5f5fe 195.9px,#f5f5fe 200.9px,#f6f6fe 205.9px,#f6f6fe 210.9px,#f6f6fe 215.8px,#f6f6fe 220.8px,#f6f6fe 225.8px,#f6f6fe 230.8px,#f7f7fe 235.7px,#f7f7fe 240.7px,#f7f7fe 245.7px,#f7f7fe 250.7px,#f7f7fe 255.6px,#f7f7fe 260.6px,#f8f8fe 265.6px,#f8f8fe 270.6px,#f8f8fe 275.5px,#f8f8fe 280.5px,#f8f8fe 285.5px)"></i>
<i style="top:120.0px;height:1.5px;background:linear-gradient(90deg,#b4b4f4 0.0px,#b2b2f4 4.6px,#b0b0f3 9.2px,#aeaef3 13.9px,#acacf2 18.5px,#b5b5f4 23.3px,#bebef6 28.1px,#c7c7f8 32.9px,#d0d0fa 37.6px,#d9d9fb 42.4px,#e1e1fc 47.2px,#ececfd 51.1px,#f6f6fe 55.0px,#fafafe 58.5px,#ffffff 62.0px,#f3f9f8 66.0px,#dcefea 69.2px,#cbe7e0 71.4px,#a3d3c5 74.6px,#8cc7b5 78.9px,#a5d4c6 83.3px,#d9eee8 86.3px,#e1f1ed 89.3px,#f0f8f6 91.8px,#ffffff 94.3px,#f3f3fe 97.3px,#e8e8fc 100.3px,#e6e6fc 105.3px,#e4e4fc 110.3px,#e4e4fc 114.4px,#e4e4fc 118.6px,#e4e4fc 122.8px,#e4e4fc 126.9px,#e6e6fc 130.7px,#e8e8fc 134.5px,#ebebfd 138.2px,#e9e9fd 141.8px,#e8e8fc 145.4px,#eeeefd 148.0px,#f4f4fe 150.7px,#f4f4fe 155.6px,#f4f4fe 160.6px,#f4f4fe 165.6px,#f4f4fe 170.6px,#f5f5fe 175.6px,#f5f5fe 180.6px,#f5f5fe 185.6px,#f5f5fe 190.6px,#f5f5fe 195.6px,#f5f5fe 200.6px,#f6f6fe 205.6px,#f6f6fe 210.6px,#f6f6fe 215.6px,#f6f6fe 220.6px,#f6f6fe 225.6px,#f6f6fe 230.6px,#f7f7fe 235.6px,#f7f7fe 240.6px,#f7f7fe 245.5px,#f7f7fe 250.5px,#f7f7fe 255.5px,#f7f7fe 260.5px,#f8f8fe 265.5px,#f8f8fe 270.5px,#f8f8fe 275.5px,#f8f8fe 280.5px,#f8f8fe 285.5px)"></i>
<i style="top:121.0px;height:1.5px;background:linear-gradient(90deg,#b5b5f4 0.0px,#b3b3f4 4.6px,#b1b1f3 9.2px,#afaff3 13.9px,#adadf3 18.5px,#b6b6f4 23.3px,#bfbff6 28.2px,#c8c8f8 33.0px,#d1d1fa 37.8px,#dadafb 42.7px,#e2e2fc 47.5px,#ececfd 51.4px,#f6f6fe 55.3px,#fafafe 58.8px,#ffffff 62.3px,#f3faf8 66.3px,#dcefea 69.5px,#cde8e1 71.7px,#a7d5c7 74.8px,#91cab8 79.0px,#a8d6c9 83.3px,#daeee9 86.3px,#e2f2ed 89.3px,#f0f8f6 91.8px,#ffffff 94.3px,#f3f3fe 97.3px,#e8e8fc 100.3px,#e6e6fc 105.3px,#e4e4fc 110.3px,#e4e4fc 114.5px,#e4e4fc 118.6px,#e4e4fc 122.7px,#e4e4fc 126.8px,#e6e6fc 130.5px,#e8e8fc 134.2px,#ebebfd 137.8px,#e9e9fd 141.4px,#e8e8fc 145.0px,#eeeefd 147.6px,#f4f4fe 150.2px,#f4f4fe 155.0px,#f4f4fe 159.8px,#f4f4fe 164.7px,#f4f4fe 169.5px,#f5f5fe 174.3px,#f5f5fe 179.2px,#f5f5fe 184.0px,#f5f5fe 188.8px,#f5f5fe 193.7px,#f5f5fe 198.5px,#f6f6fe 203.3px,#f6f6fe 208.2px,#f6f6fe 213.0px,#f6f6fe 217.8px,#f6f6fe 222.7px,#f6f6fe 227.5px,#f6f6fe 232.3px,#f7f7fe 237.2px,#f7f7fe 242.0px,#f7f7fe 246.8px,#f7f7fe 251.7px,#f7f7fe 256.5px,#f7f7fe 261.3px,#f8f8fe 266.2px,#f8f8fe 271.0px,#f8f8fe 275.8px,#f8f8fe 280.7px,#f8f8fe 285.5px)"></i>
<i style="top:122.0px;height:1.5px;background:linear-gradient(90deg,#b6b6f4 0.0px,#b4b4f4 4.6px,#b2b2f4 9.2px,#afaff3 13.9px,#adadf3 18.5px,#b6b6f4 23.4px,#c0c0f6 28.3px,#c9c9f8 33.2px,#d2d2fa 38.0px,#dadafb 42.9px,#e2e2fc 47.8px,#ececfd 51.8px,#f6f6fe 55.7px,#fafafe 59.2px,#ffffff 62.7px,#f3faf8 66.7px,#ddefea 69.8px,#cfe9e2 71.9px,#abd7ca 75.0px,#96cdbc 79.2px,#acd8cb 83.4px,#dbefea 86.4px,#e2f2ee 89.4px,#ffffff 94.4px,#f3f3fe 97.4px,#e8e8fc 100.4px,#e6e6fc 105.4px,#e4e4fc 110.4px,#e4e4fc 114.5px,#e4e4fc 118.6px,#e4e4fc 122.6px,#e4e4fc 126.7px,#e6e6fc 130.3px,#e8e8fc 133.9px,#ebebfd 137.4px,#e9e9fd 141.0px,#e8e8fc 144.5px,#eeeefd 147.1px,#f4f4fe 149.7px,#f4f4fe 154.5px,#f4f4fe 159.4px,#f4f4fe 164.2px,#f4f4fe 169.1px,#f5f5fe 173.9px,#f5f5fe 178.8px,#f5f5fe 183.6px,#f5f5fe 188.5px,#f5f5fe 193.3px,#f5f5fe 198.2px,#f6f6fe 203.0px,#f6f6fe 207.9px,#f6f6fe 212.7px,#f6f6fe 217.6px,#f6f6fe 222.4px,#f6f6fe 227.3px,#f6f6fe 232.1px,#f7f7fe 237.0px,#f7f7fe 241.8px,#f7f7fe 246.7px,#f7f7fe 251.5px,#f7f7fe 256.4px,#f7f7fe 261.2px,#f8f8fe 266.1px,#f8f8fe 270.9px,#f8f8fe 275.8px,#f8f8fe 280.6px,#f8f8fe 285.5px)"></i>
<i style="top:123.0px;height:1.5px;background:linear-gradient(90deg,#b7b7f5 0.0px,#b5b5f4 4.6px,#b3b3f4 9.2px,#b0b0f3 13.9px,#aeaef3 18.5px,#b7b7f5 23.4px,#c0c0f6 28.4px,#cacaf8 33.3px,#d3d3fa 38.2px,#dbdbfb 43.2px,#e3e3fc 48.1px,#ededfd 52.1px,#f6f6fe 56.0px,#fafafe 59.5px,#ffffff 63.0px,#f4faf8 67.0px,#ddf0eb 70.1px,#d0eae3 72.2px,#afd9cd 75.2px,#9acfbf 79.3px,#afdacd 83.4px,#ddefea 86.4px,#e3f2ee 89.4px,#ffffff 94.4px,#f4f4fe 97.4px,#e8e8fc 100.4px,#e6e6fc 105.4px,#e4e4fc 110.4px,#e4e4fc 114.5px,#e4e4fc 118.5px,#e4e4fc 122.6px,#e4e4fc 126.6px,#e6e6fc 130.1px,#e8e8fc 133.6px,#ebebfd 137.0px,#eaeafd 140.6px,#e8e8fc 144.1px,#eeeefd 146.6px,#f4f4fe 149.2px,#f4f4fe 154.0px,#f4f4fe 158.9px,#f4f4fe 163.8px,#f4f4fe 168.6px,#f5f5fe 173.5px,#f5f5fe 178.4px,#f5f5fe 183.2px,#f5f5fe 188.1px,#f5f5fe 193.0px,#f5f5fe 197.8px,#f6f6fe 202.7px,#f6f6fe 207.6px,#f6f6fe 212.5px,#f6f6fe 217.3px,#f6f6fe 222.2px,#f6f6fe 227.1px,#f6f6fe 231.9px,#f7f7fe 236.8px,#f7f7fe 241.7px,#f7f7fe 246.5px,#f7f7fe 251.4px,#f7f7fe 256.3px,#f7f7fe 261.2px,#f8f8fe 266.0px,#f8f8fe 270.9px,#f8f8fe 275.8px,#f8f8fe 280.6px,#f8f8fe 285.5px)"></i>
<i style="top:124.0px;height:1.5px;background:linear-gradient(90deg,#b9b9f5 0.0px,#b6b6f4 4.6px,#b4b4f4 9.2px,#b1b1f3 13.9px,#afaff3 18.5px,#b8b8f5 23.5px,#c1c1f7 28.5px,#cacaf8 33.5px,#d3d3fa 38.4px,#dcdcfb 43.4px,#e4e4fc 48.4px,#ededfd 52.4px,#f6f6fe 56.4px,#fafafe 59.9px,#ffffff 63.4px,#f4faf8 67.4px,#def0eb 70.4px,#d2ebe4 72.4px,#b3dbd0 75.4px,#9fd1c2 79.5px,#b3dbd0 83.5px,#def0eb 86.5px,#e3f2ee 89.5px,#ffffff 94.5px,#f4f4fe 97.5px,#e8e8fc 100.5px,#e6e6fc 105.5px,#e4e4fc 110.5px,#e4e4fc 114.5px,#e4e4fc 118.5px,#e4e4fc 122.5px,#e4e4fc 126.5px,#e6e6fc 129.9px,#e8e8fc 133.3px,#ebebfd 136.6px,#eaeafd 140.1px,#e8e8fc 143.6px,#eeeefd 146.1px,#f4f4fe 148.7px,#f4f4fe 153.5px,#f4f4fe 158.4px,#f4f4fe 163.3px,#f4f4fe 168.2px,#f5f5fe 173.1px,#f5f5fe 178.0px,#f5f5fe 182.9px,#f5f5fe 187.8px,#f5f5fe 192.6px,#f5f5fe 197.5px,#f6f6fe 202.4px,#f6f6fe 207.3px,#f6f6fe 212.2px,#f6f6fe 217.1px,#f6f6fe 222.0px,#f6f6fe 226.9px,#f6f6fe 231.7px,#f7f7fe 236.6px,#f7f7fe 241.5px,#f7f7fe 246.4px,#f7f7fe 251.3px,#f7f7fe 256.2px,#f7f7fe 261.1px,#f8f8fe 265.9px,#f8f8fe 270.8px,#f8f8fe 275.7px,#f8f8fe 280.6px,#f8f8fe 285.5px)"></i>
<i style="top:125.0px;height:1.5px;background:linear-gradient(90deg,#babaf5 0.0px,#b7b7f5 4.7px,#b5b5f4 9.3px,#b2b2f4 14.0px,#b0b0f3 18.6px,#b7b7f5 22.9px,#bfbff6 27.2px,#c7c7f8 31.5px,#cfcff9 35.8px,#d6d6fa 40.1px,#ddddfb 44.4px,#e4e4fc 48.7px,#ededfd 52.7px,#f6f6fe 56.7px,#fbfbfe 60.2px,#ffffff 63.7px,#f4faf8 67.7px,#def0eb 70.7px,#d4ebe5 72.7px,#b5ddd1 75.7px,#a1d3c4 79.7px,#b5dcd1 83.6px,#def0eb 86.6px,#e4f3ef 89.6px,#ffffff 94.5px,#f4f4fe 97.5px,#e9e9fd 100.5px,#e6e6fc 105.5px,#e4e4fc 110.5px,#e4e4fc 114.5px,#e4e4fc 118.5px,#e4e4fc 122.4px,#e4e4fc 126.4px,#e7e7fc 131.4px,#ebebfd 136.3px,#eaeafd 139.8px,#e9e9fd 143.2px,#eeeefd 145.7px,#f4f4fe 148.2px,#f4f4fe 153.1px,#f4f4fe 158.0px,#f4f4fe 162.9px,#f4f4fe 167.8px,#f5f5fe 172.7px,#f5f5fe 177.6px,#f5f5fe 182.5px,#f5f5fe 187.4px,#f5f5fe 192.3px,#f5f5fe 197.2px,#f6f6fe 202.2px,#f6f6fe 207.1px,#f6f6fe 212.0px,#f6f6fe 216.9px,#f6f6fe 221.8px,#f6f6fe 226.7px,#f6f6fe 231.6px,#f7f7fe 236.5px,#f7f7fe 241.4px,#f7f7fe 246.3px,#f7f7fe 251.2px,#f7f7fe 256.1px,#f7f7fe 261.0px,#f8f8fe 265.9px,#f8f8fe 270.8px,#f8f8fe 275.7px,#f8f8fe 280.6px,#f8f8fe 285.5px)"></i>
<i style="top:126.0px;height:1.5px;background:linear-gradient(90deg,#bbbbf5 -0.0px,#b8b8f5 4.7px,#b6b6f4 9.4px,#b3b3f4 14.1px,#b1b1f3 18.8px,#b8b8f5 23.1px,#c0c0f6 27.4px,#c8c8f8 31.7px,#cfcff9 36.0px,#d7d7fb 40.3px,#dedefb 44.7px,#e5e5fc 49.0px,#ededfd 53.0px,#f6f6fe 57.1px,#fafafe 60.6px,#ffffff 64.1px,#f4faf8 68.1px,#dff0ec 71.1px,#d5ece6 73.1px,#b7ddd2 76.0px,#a3d4c5 80.0px,#b6ddd2 83.8px,#dff0ec 86.7px,#e4f3ef 89.7px,#ffffff 94.6px,#f4f4fe 97.6px,#e9e9fd 100.6px,#e7e7fc 105.6px,#e5e5fc 110.5px,#e5e5fc 114.4px,#e5e5fc 118.4px,#e5e5fc 122.3px,#e5e5fc 126.3px,#e8e8fc 131.2px,#eaeafd 136.0px,#eaeafd 139.4px,#e9e9fd 142.8px,#f4f4fe 147.8px,#f4f4fe 152.7px,#f4f4fe 157.7px,#f4f4fe 162.6px,#f4f4fe 167.5px,#f5f5fe 172.4px,#f5f5fe 177.3px,#f5f5fe 182.2px,#f5f5fe 187.2px,#f5f5fe 192.1px,#f5f5fe 197.0px,#f6f6fe 201.9px,#f6f6fe 206.8px,#f6f6fe 211.7px,#f6f6fe 216.7px,#f6f6fe 221.6px,#f6f6fe 226.5px,#f6f6fe 231.4px,#f7f7fe 236.3px,#f7f7fe 241.2px,#f7f7fe 246.2px,#f7f7fe 251.1px,#f7f7fe 256.0px,#f7f7fe 260.9px,#f8f8fe 265.8px,#f8f8fe 270.7px,#f8f8fe 275.7px,#f8f8fe 280.6px,#f8f8fe 285.5px)"></i>
<i style="top:127.0px;height:1.5px;background:linear-gradient(90deg,#bcbcf6 0.0px,#b9b9f5 4.8px,#b7b7f5 9.5px,#b4b4f4 14.3px,#b2b2f4 19.0px,#b9b9f5 23.4px,#c1c1f7 27.7px,#c8c8f8 32.0px,#d0d0fa 36.3px,#d7d7fb 40.6px,#dedefb 44.9px,#e5e5fc 49.2px,#ededfd 53.3px,#f6f6fe 57.4px,#fafafe 60.9px,#ffffff 64.4px,#f4faf8 68.4px,#dff0ec 71.4px,#d6ece6 73.4px,#b9ded3 76.2px,#a5d5c6 80.2px,#b8ded3 84.0px,#dff0ec 86.9px,#e4f3ef 89.9px,#ffffff 94.7px,#f4f4fe 97.7px,#e9e9fd 100.7px,#e7e7fc 105.6px,#e5e5fc 110.5px,#e5e5fc 114.4px,#e5e5fc 118.3px,#e5e5fc 122.2px,#e5e5fc 126.1px,#e8e8fc 131.0px,#eaeafd 135.8px,#eaeafd 139.1px,#e9e9fd 142.4px,#f4f4fe 147.4px,#f4f4fe 152.4px,#f4f4fe 157.3px,#f4f4fe 162.2px,#f4f4fe 167.1px,#f5f5fe 172.1px,#f5f5fe 177.0px,#f5f5fe 181.9px,#f5f5fe 186.9px,#f5f5fe 191.8px,#f5f5fe 196.7px,#f6f6fe 201.7px,#f6f6fe 206.6px,#f6f6fe 211.5px,#f6f6fe 216.5px,#f6f6fe 221.4px,#f6f6fe 226.3px,#f6f6fe 231.3px,#f7f7fe 236.2px,#f7f7fe 241.1px,#f7f7fe 246.0px,#f7f7fe 251.0px,#f7f7fe 255.9px,#f7f7fe 260.8px,#f8f8fe 265.8px,#f8f8fe 270.7px,#f8f8fe 275.6px,#f8f8fe 280.6px,#f8f8fe 285.5px)"></i>
<i style="top:128.0px;height:1.5px;background:linear-gradient(90deg,#bdbdf6 -0.0px,#babaf5 4.8px,#b8b8f5 9.6px,#b5b5f4 14.4px,#b3b3f4 19.2px,#babaf5 23.6px,#c2c2f7 27.9px,#c9c9f8 32.2px,#d1d1fa 36.5px,#d8d8fb 40.8px,#dedefb 45.2px,#e5e5fc 49.5px,#eeeefd 53.6px,#f6f6fe 57.7px,#fafafe 61.2px,#ffffff 64.7px,#f4faf8 68.7px,#dff1ec 71.7px,#d7ede7 73.7px,#badfd5 76.5px,#a7d6c8 80.5px,#b9ded4 84.2px,#dff1ec 87.0px,#e5f3ef 90.0px,#ffffff 94.7px,#f4f4fe 97.7px,#eaeafd 100.7px,#e7e7fc 105.6px,#e5e5fc 110.5px,#e5e5fc 114.4px,#e5e5fc 118.3px,#e5e5fc 122.1px,#e5e5fc 126.0px,#e8e8fc 130.8px,#eaeafd 135.5px,#eaeafd 138.8px,#eaeafd 142.0px,#f4f4fe 147.0px,#f4f4fe 152.0px,#f4f4fe 156.9px,#f4f4fe 161.9px,#f4f4fe 166.8px,#f5f5fe 171.7px,#f5f5fe 176.7px,#f5f5fe 181.6px,#f5f5fe 186.6px,#f5f5fe 191.5px,#f5f5fe 196.5px,#f6f6fe 201.4px,#f6f6fe 206.4px,#f6f6fe 211.3px,#f6f6fe 216.3px,#f6f6fe 221.2px,#f6f6fe 226.2px,#f6f6fe 231.1px,#f7f7fe 236.0px,#f7f7fe 241.0px,#f7f7fe 245.9px,#f7f7fe 250.9px,#f7f7fe 255.8px,#f7f7fe 260.8px,#f8f8fe 265.7px,#f8f8fe 270.7px,#f8f8fe 275.6px,#f8f8fe 280.6px,#f8f8fe 285.5px)"></i>
<i style="top:129.0px;height:1.5px;background:linear-gradient(90deg,#bebef6 0.0px,#bbbbf5 4.9px,#b9b9f5 9.7px,#b6b6f4 14.6px,#b4b4f4 19.4px,#bbbbf5 23.8px,#c3c3f7 28.1px,#cacaf8 32.4px,#d1d1fa 36.8px,#d8d8fb 41.1px,#dfdffb 45.4px,#e5e5fc 49.8px,#eeeefd 53.9px,#f6f6fe 58.1px,#fafafe 61.6px,#ffffff 65.1px,#f4faf8 69.1px,#e0f1ec 72.1px,#d8ede8 74.1px,#bce0d6 76.8px,#a9d7c9 80.8px,#badfd5 84.4px,#e0f1ec 87.1px,#e5f3f0 90.1px,#ffffff 94.8px,#f4f4fe 97.8px,#eaeafd 100.8px,#e8e8fc 105.7px,#e5e5fc 110.5px,#e5e5fc 114.3px,#e5e5fc 118.2px,#e5e5fc 122.0px,#e5e5fc 125.9px,#e8e8fc 130.6px,#eaeafd 135.2px,#eaeafd 138.4px,#eaeafd 141.6px,#f4f4fe 146.6px,#f4f4fe 151.6px,#f4f4fe 156.5px,#f4f4fe 161.5px,#f4f4fe 166.5px,#f5f5fe 171.4px,#f5f5fe 176.4px,#f5f5fe 181.3px,#f5f5fe 186.3px,#f5f5fe 191.3px,#f5f5fe 196.2px,#f6f6fe 201.2px,#f6f6fe 206.1px,#f6f6fe 211.1px,#f6f6fe 216.1px,#f6f6fe 221.0px,#f6f6fe 226.0px,#f6f6fe 230.9px,#f7f7fe 235.9px,#f7f7fe 240.9px,#f7f7fe 245.8px,#f7f7fe 250.8px,#f7f7fe 255.7px,#f7f7fe 260.7px,#f8f8fe 265.7px,#f8f8fe 270.6px,#f8f8fe 275.6px,#f8f8fe 280.5px,#f8f8fe 285.5px)"></i>
<i style="top:130.0px;height:1.5px;background:linear-gradient(90deg,#bfbff6 0.0px,#bcbcf6 4.9px,#babaf5 9.8px,#b7b7f5 14.7px,#b5b5f4 19.6px,#bcbcf6 24.0px,#c3c3f7 28.3px,#cbcbf9 32.7px,#d2d2fa 37.0px,#d9d9fb 41.3px,#dfdffb 45.7px,#e6e6fc 50.0px,#eeeefd 54.2px,#f6f6fe 58.4px,#fafafe 61.9px,#ffffff 65.4px,#f4faf8 69.4px,#e0f1ec 72.4px,#d9eee8 74.4px,#bee1d7 77.0px,#abd8cb 81.0px,#bce0d6 84.6px,#e0f1ec 87.3px,#e6f3f0 90.3px,#ffffff 94.9px,#f5f5fe 97.9px,#eaeafd 100.9px,#e8e8fc 105.7px,#e6e6fc 110.5px,#e6e6fc 114.3px,#e6e6fc 118.1px,#e6e6fc 121.9px,#e6e6fc 125.7px,#e8e8fc 130.4px,#eaeafd 135.0px,#eaeafd 138.1px,#eaeafd 141.2px,#efeffd 143.7px,#f4f4fe 146.2px,#f4f4fe 151.2px,#f4f4fe 156.2px,#f4f4fe 161.1px,#f4f4fe 166.1px,#f5f5fe 171.1px,#f5f5fe 176.1px,#f5f5fe 181.0px,#f5f5fe 186.0px,#f5f5fe 191.0px,#f5f5fe 196.0px,#f6f6fe 200.9px,#f6f6fe 205.9px,#f6f6fe 210.9px,#f6f6fe 215.9px,#f6f6fe 220.8px,#f6f6fe 225.8px,#f6f6fe 230.8px,#f7f7fe 235.8px,#f7f7fe 240.7px,#f7f7fe 245.7px,#f7f7fe 250.7px,#f7f7fe 255.7px,#f7f7fe 260.6px,#f8f8fe 265.6px,#f8f8fe 270.6px,#f8f8fe 275.6px,#f8f8fe 280.5px,#f8f8fe 285.5px)"></i>
<i style="top:131.0px;height:1.5px;background:linear-gradient(90deg,#c0c0f6 0.0px,#bdbdf6 5.0px,#bbbbf5 9.9px,#b8b8f5 14.9px,#b6b6f4 19.8px,#bdbdf6 24.2px,#c4c4f7 28.5px,#cbcbf9 32.9px,#d3d3fa 37.2px,#d9d9fb 41.6px,#e0e0fc 45.9px,#e6e6fc 50.3px,#eeeefd 54.5px,#f6f6fe 58.7px,#fafafe 62.2px,#ffffff 65.7px,#f4faf8 69.7px,#e0f1ed 72.7px,#daeee9 74.7px,#bfe2d8 77.3px,#add9cc 81.3px,#bde0d6 84.8px,#e0f1ed 87.4px,#e6f4f0 90.4px,#ffffff 94.9px,#f5f5fe 97.9px,#ebebfd 100.9px,#e8e8fc 105.7px,#e6e6fc 110.5px,#e6e6fc 114.3px,#e6e6fc 118.1px,#e6e6fc 121.8px,#e6e6fc 125.6px,#e8e8fc 130.2px,#eaeafd 134.7px,#eaeafd 137.8px,#ebebfd 140.8px,#efeffd 143.3px,#f4f4fe 145.8px,#f4f4fe 150.8px,#f4f4fe 155.8px,#f4f4fe 160.8px,#f4f4fe 165.8px,#f5f5fe 170.8px,#f5f5fe 175.8px,#f5f5fe 180.7px,#f5f5fe 185.7px,#f5f5fe 190.7px,#f5f5fe 195.7px,#f6f6fe 200.7px,#f6f6fe 205.7px,#f6f6fe 210.7px,#f6f6fe 215.7px,#f6f6fe 220.6px,#f6f6fe 225.6px,#f6f6fe 230.6px,#f7f7fe 235.6px,#f7f7fe 240.6px,#f7f7fe 245.6px,#f7f7fe 250.6px,#f7f7fe 255.6px,#f7f7fe 260.6px,#f8f8fe 265.5px,#f8f8fe 270.5px,#f8f8fe 275.5px,#f8f8fe 280.5px,#f8f8fe 285.5px)"></i>
<i style="top:132.0px;height:1.5px;background:linear-gradient(90deg,#c1c1f7 0.0px,#bfbff6 4.0px,#bdbdf6 8.0px,#bbbbf5 12.0px,#b9b9f5 16.0px,#b7b7f5 20.0px,#bebef6 24.4px,#c5c5f7 28.8px,#ccccf9 33.1px,#d3d3fa 37.5px,#d9d9fb 41.8px,#e0e0fc 46.2px,#e6e6fc 50.6px,#eeeefd 54.8px,#f6f6fe 59.1px,#fafafe 62.6px,#ffffff 66.1px,#f4faf8 70.1px,#e1f1ed 73.1px,#dbefea 75.1px,#c1e2d9 77.6px,#afdacd 81.6px,#bee1d7 85.0px,#e1f1ed 87.5px,#e6f4f0 90.5px,#ffffff 95.0px,#f5f5fe 98.0px,#ebebfd 101.0px,#e9e9fd 105.8px,#e6e6fc 110.5px,#e6e6fc 115.5px,#e6e6fc 120.5px,#e6e6fc 125.5px,#e8e8fc 130.0px,#eaeafd 134.4px,#eaeafd 137.4px,#ebebfd 140.4px,#f4f4fe 145.4px,#f4f4fe 150.3px,#f4f4fe 155.1px,#f4f4fe 159.9px,#f4f4fe 164.7px,#f5f5fe 169.6px,#f5f5fe 174.4px,#f5f5fe 179.2px,#f5f5fe 184.1px,#f5f5fe 188.9px,#f5f5fe 193.7px,#f5f5fe 198.6px,#f6f6fe 203.4px,#f6f6fe 208.2px,#f6f6fe 213.0px,#f6f6fe 217.9px,#f6f6fe 222.7px,#f6f6fe 227.5px,#f7f7fe 232.4px,#f7f7fe 237.2px,#f7f7fe 242.0px,#f7f7fe 246.9px,#f7f7fe 251.7px,#f7f7fe 256.5px,#f7f7fe 261.3px,#f8f8fe 266.2px,#f8f8fe 271.0px,#f8f8fe 275.8px,#f8f8fe 280.7px,#f8f8fe 285.5px)"></i>
<i style="top:133.0px;height:1.5px;background:linear-gradient(90deg,#c2c2f7 0.0px,#c0c0f6 4.0px,#bebef6 8.1px,#bcbcf6 12.1px,#babaf5 16.2px,#b8b8f5 20.2px,#bfbff6 24.6px,#c6c6f8 29.0px,#cdcdf9 33.3px,#d4d4fa 37.7px,#dadafb 42.1px,#e0e0fc 46.5px,#e7e7fc 50.8px,#eeeefd 55.1px,#f6f6fe 59.4px,#fafafe 62.9px,#ffffff 66.4px,#f4faf8 70.4px,#e1f1ed 73.4px,#ddefea 75.4px,#c2e3da 77.8px,#b1dbcf 81.8px,#c0e2d8 85.2px,#e1f1ed 87.7px,#e7f4f0 90.7px,#ffffff 95.1px,#f5f5fe 98.1px,#ebebfd 101.1px,#e9e9fd 105.8px,#e7e7fc 110.5px,#e7e7fc 115.4px,#e7e7fc 120.4px,#e7e7fc 125.3px,#e8e8fc 129.8px,#e9e9fd 134.2px,#eaeafd 137.1px,#ebebfd 140.0px,#f4f4fe 145.0px,#f4f4fe 149.9px,#f4f4fe 154.7px,#f4f4fe 159.6px,#f4f4fe 164.4px,#f5f5fe 169.2px,#f5f5fe 174.1px,#f5f5fe 178.9px,#f5f5fe 183.8px,#f5f5fe 188.6px,#f5f5fe 193.5px,#f5f5fe 198.3px,#f6f6fe 203.1px,#f6f6fe 208.0px,#f6f6fe 212.8px,#f6f6fe 217.7px,#f6f6fe 222.5px,#f6f6fe 227.4px,#f7f7fe 232.2px,#f7f7fe 237.1px,#f7f7fe 241.9px,#f7f7fe 246.7px,#f7f7fe 251.6px,#f7f7fe 256.4px,#f7f7fe 261.3px,#f8f8fe 266.1px,#f8f8fe 271.0px,#f8f8fe 275.8px,#f8f8fe 280.7px,#f8f8fe 285.5px)"></i>
<i style="top:134.0px;height:1.5px;background:linear-gradient(90deg,#c3c3f7 0.0px,#c1c1f7 4.1px,#bfbff6 8.2px,#bdbdf6 12.3px,#bbbbf5 16.4px,#b9b9f5 20.4px,#c0c0f6 24.8px,#c7c7f8 29.2px,#cdcdf9 33.6px,#d4d4fa 38.0px,#dadafb 42.3px,#e1e1fc 46.7px,#e7e7fc 51.1px,#eeeefd 55.4px,#f6f6fe 59.7px,#fafafe 63.2px,#ffffff 66.7px,#f4faf8 70.7px,#e2f2ed 73.7px,#def0eb 75.7px,#c4e4db 78.1px,#b3dcd0 82.1px,#c1e2d9 85.4px,#e2f2ed 87.8px,#e7f4f1 90.8px,#ffffff 95.1px,#f5f5fe 98.1px,#ebebfd 101.1px,#e9e9fd 105.8px,#e7e7fc 110.5px,#e7e7fc 115.4px,#e7e7fc 120.3px,#e7e7fc 125.2px,#e8e8fc 129.6px,#e9e9fd 133.9px,#eaeafd 136.8px,#ebebfd 139.6px,#f4f4fe 144.6px,#f4f4fe 149.5px,#f4f4fe 154.3px,#f4f4fe 159.2px,#f4f4fe 164.1px,#f5f5fe 168.9px,#f5f5fe 173.8px,#f5f5fe 178.6px,#f5f5fe 183.5px,#f5f5fe 188.3px,#f5f5fe 193.2px,#f5f5fe 198.1px,#f6f6fe 202.9px,#f6f6fe 207.8px,#f6f6fe 212.6px,#f6f6fe 217.5px,#f6f6fe 222.3px,#f6f6fe 227.2px,#f7f7fe 232.1px,#f7f7fe 236.9px,#f7f7fe 241.8px,#f7f7fe 246.6px,#f7f7fe 251.5px,#f7f7fe 256.4px,#f7f7fe 261.2px,#f8f8fe 266.1px,#f8f8fe 270.9px,#f8f8fe 275.8px,#f8f8fe 280.6px,#f8f8fe 285.5px)"></i>
<i style="top:135.0px;height:1.5px;background:linear-gradient(90deg,#c4c4f7 0.0px,#c2c2f7 4.1px,#c0c0f6 8.3px,#bebef6 12.4px,#bcbcf6 16.5px,#babaf5 20.6px,#c1c1f7 25.0px,#c7c7f8 29.4px,#cecef9 33.8px,#d5d5fa 38.2px,#dbdbfb 42.6px,#e1e1fc 47.0px,#e7e7fc 51.4px,#efeffd 55.7px,#f6f6fe 60.1px,#fafafe 63.6px,#ffffff 67.1px,#f4faf8 71.1px,#e2f2ee 74.1px,#dff0ec 76.1px,#c6e5dd 78.4px,#b5ddd1 82.4px,#c2e3da 85.6px,#e2f2ee 87.9px,#e7f4f1 90.9px,#ffffff 95.2px,#f5f5fe 98.2px,#ececfd 101.2px,#e9e9fd 105.9px,#e7e7fc 110.5px,#e7e7fc 115.4px,#e7e7fc 120.2px,#e7e7fc 125.1px,#e8e8fc 129.4px,#e9e9fd 133.6px,#eaeafd 136.4px,#ececfd 139.2px,#f4f4fe 144.2px,#f4f4fe 149.1px,#f4f4fe 154.0px,#f4f4fe 158.8px,#f4f4fe 163.7px,#f5f5fe 168.6px,#f5f5fe 173.5px,#f5f5fe 178.3px,#f5f5fe 183.2px,#f5f5fe 188.1px,#f5f5fe 192.9px,#f5f5fe 197.8px,#f6f6fe 202.7px,#f6f6fe 207.6px,#f6f6fe 212.4px,#f6f6fe 217.3px,#f6f6fe 222.2px,#f6f6fe 227.0px,#f7f7fe 231.9px,#f7f7fe 236.8px,#f7f7fe 241.7px,#f7f7fe 246.5px,#f7f7fe 251.4px,#f7f7fe 256.3px,#f7f7fe 261.1px,#f8f8fe 266.0px,#f8f8fe 270.9px,#f8f8fe 275.8px,#f8f8fe 280.6px,#f8f8fe 285.5px)"></i>
<i style="top:136.0px;height:1.5px;background:linear-gradient(90deg,#c5c5f7 0.0px,#c3c3f7 4.2px,#c1c1f7 8.3px,#bfbff6 12.5px,#bdbdf6 16.7px,#bbbbf5 20.8px,#c1c1f7 25.2px,#c8c8f8 29.6px,#cfcff9 34.0px,#d5d5fa 38.4px,#dbdbfb 42.8px,#e1e1fc 47.2px,#e8e8fc 51.6px,#efeffd 56.0px,#f6f6fe 60.4px,#fafafe 63.9px,#ffffff 67.4px,#f4faf8 71.4px,#e2f2ee 74.4px,#e0f1ec 76.4px,#c7e6de 78.6px,#b7ded3 82.6px,#c4e4db 85.8px,#e2f2ee 88.1px,#e8f4f1 91.1px,#ffffff 95.3px,#f6f6fe 98.3px,#ececfd 101.3px,#eaeafd 105.9px,#e8e8fc 110.5px,#e8e8fc 115.3px,#e8e8fc 120.1px,#e8e8fc 124.9px,#e8e8fc 129.2px,#e9e9fd 133.4px,#ebebfd 136.1px,#ececfd 138.8px,#f0f0fd 141.3px,#f4f4fe 143.8px,#f4f4fe 148.7px,#f4f4fe 153.6px,#f4f4fe 158.5px,#f4f4fe 163.4px,#f5f5fe 168.2px,#f5f5fe 173.1px,#f5f5fe 178.0px,#f5f5fe 182.9px,#f5f5fe 187.8px,#f5f5fe 192.7px,#f5f5fe 197.6px,#f6f6fe 202.4px,#f6f6fe 207.3px,#f6f6fe 212.2px,#f6f6fe 217.1px,#f6f6fe 222.0px,#f6f6fe 226.9px,#f7f7fe 231.8px,#f7f7fe 236.6px,#f7f7fe 241.5px,#f7f7fe 246.4px,#f7f7fe 251.3px,#f7f7fe 256.2px,#f7f7fe 261.1px,#f8f8fe 266.0px,#f8f8fe 270.8px,#f8f8fe 275.7px,#f8f8fe 280.6px,#f8f8fe 285.5px)"></i>
<i style="top:137.0px;height:1.5px;background:linear-gradient(90deg,#c6c6f8 0.0px,#c4c4f7 4.2px,#c2c2f7 8.4px,#c0c0f6 12.6px,#bebef6 16.8px,#bcbcf6 21.0px,#c2c2f7 25.4px,#c9c9f8 29.9px,#d0d0fa 34.3px,#d6d6fa 38.7px,#dcdcfb 43.1px,#e2e2fc 47.5px,#e8e8fc 51.9px,#efeffd 56.3px,#f6f6fe 60.7px,#fafafe 64.2px,#ffffff 67.7px,#f4faf8 71.7px,#e3f2ee 74.7px,#e1f1ed 76.7px,#c9e7df 78.9px,#b9dfd4 82.9px,#c5e4dc 86.0px,#e3f2ee 88.2px,#e8f5f1 91.2px,#ffffff 95.3px,#f6f6fe 98.3px,#ececfd 101.3px,#eaeafd 105.9px,#e8e8fc 110.5px,#e8e8fc 115.3px,#e8e8fc 120.0px,#e8e8fc 124.8px,#e8e8fc 129.0px,#e9e9fd 133.1px,#ebebfd 135.8px,#ececfd 138.4px,#f4f4fe 143.4px,#f4f4fe 148.3px,#f4f4fe 153.2px,#f4f4fe 158.1px,#f4f4fe 163.0px,#f5f5fe 167.9px,#f5f5fe 172.8px,#f5f5fe 177.7px,#f5f5fe 182.6px,#f5f5fe 187.5px,#f5f5fe 192.4px,#f5f5fe 197.3px,#f6f6fe 202.2px,#f6f6fe 207.1px,#f6f6fe 212.0px,#f6f6fe 216.9px,#f6f6fe 221.8px,#f6f6fe 226.7px,#f7f7fe 231.6px,#f7f7fe 236.5px,#f7f7fe 241.4px,#f7f7fe 246.3px,#f7f7fe 251.2px,#f7f7fe 256.1px,#f7f7fe 261.0px,#f8f8fe 265.9px,#f8f8fe 270.8px,#f8f8fe 275.7px,#f8f8fe 280.6px,#f8f8fe 285.5px)"></i>
<i style="top:138.0px;height:1.5px;background:linear-gradient(90deg,#c7c7f8 0.0px,#c5c5f7 4.2px,#c3c3f7 8.5px,#c1c1f7 12.7px,#bfbff6 17.0px,#bdbdf6 21.2px,#c3c3f7 25.7px,#cacaf8 30.1px,#d0d0fa 34.5px,#d6d6fa 38.9px,#dcdcfb 43.3px,#e2e2fc 47.7px,#e8e8fc 52.2px,#efeffd 56.6px,#f6f6fe 61.1px,#fafafe 64.6px,#ffffff 68.1px,#f4faf8 72.1px,#e3f2ee 75.1px,#e2f2ee 77.1px,#cbe7e0 79.2px,#bbe0d5 83.2px,#c6e5dd 86.2px,#e3f2ee 88.3px,#e9f5f2 91.3px,#ffffff 95.4px,#f6f6fe 98.4px,#ededfd 101.4px,#eaeafd 106.0px,#e8e8fc 110.5px,#e8e8fc 115.2px,#e8e8fc 119.9px,#e8e8fc 124.7px,#e8e8fc 128.8px,#e9e9fd 132.8px,#ebebfd 135.4px,#ededfd 138.0px,#f4f4fe 143.0px,#f4f4fe 147.9px,#f4f4fe 152.8px,#f4f4fe 157.8px,#f4f4fe 162.7px,#f5f5fe 167.6px,#f5f5fe 172.5px,#f5f5fe 177.4px,#f5f5fe 182.3px,#f5f5fe 187.2px,#f5f5fe 192.2px,#f5f5fe 197.1px,#f6f6fe 202.0px,#f6f6fe 206.9px,#f6f6fe 211.8px,#f6f6fe 216.7px,#f6f6fe 221.6px,#f6f6fe 226.5px,#f7f7fe 231.5px,#f7f7fe 236.4px,#f7f7fe 241.3px,#f7f7fe 246.2px,#f7f7fe 251.1px,#f7f7fe 256.0px,#f7f7fe 260.9px,#f8f8fe 265.8px,#f8f8fe 270.8px,#f8f8fe 275.7px,#f8f8fe 280.6px,#f8f8fe 285.5px)"></i>
<i style="top:139.0px;height:1.5px;background:linear-gradient(90deg,#c8c8f8 0.0px,#c6c6f8 4.3px,#c4c4f7 8.6px,#c2c2f7 12.9px,#c0c0f6 17.2px,#bebef6 21.4px,#c4c4f7 25.9px,#cbcbf9 30.3px,#d1d1fa 34.7px,#d7d7fb 39.1px,#ddddfb 43.6px,#e3e3fc 48.0px,#e8e8fc 52.4px,#efeffd 56.9px,#f6f6fe 61.4px,#fafafe 64.9px,#ffffff 68.4px,#f4faf8 72.4px,#e3f2ee 75.4px,#e3f2ee 77.4px,#cde8e1 79.4px,#bde1d7 83.4px,#c8e6de 86.4px,#e3f2ee 88.5px,#e9f5f2 91.5px,#ffffff 95.5px,#f6f6fe 98.5px,#ededfd 101.5px,#ebebfd 106.0px,#e8e8fc 110.5px,#e8e8fc 115.2px,#e8e8fc 119.9px,#e8e8fc 124.5px,#e8e8fc 128.6px,#e9e9fd 132.6px,#ebebfd 135.1px,#ededfd 137.6px,#f4f4fe 142.6px,#f4f4fe 147.5px,#f4f4fe 152.5px,#f4f4fe 157.4px,#f4f4fe 162.3px,#f5f5fe 167.3px,#f5f5fe 172.2px,#f5f5fe 177.1px,#f5f5fe 182.0px,#f5f5fe 187.0px,#f5f5fe 191.9px,#f5f5fe 196.8px,#f6f6fe 201.7px,#f6f6fe 206.7px,#f6f6fe 211.6px,#f6f6fe 216.5px,#f6f6fe 221.5px,#f6f6fe 226.4px,#f7f7fe 231.3px,#f7f7fe 236.2px,#f7f7fe 241.2px,#f7f7fe 246.1px,#f7f7fe 251.0px,#f7f7fe 255.9px,#f7f7fe 260.9px,#f8f8fe 265.8px,#f8f8fe 270.7px,#f8f8fe 275.6px,#f8f8fe 280.6px,#f8f8fe 285.5px)"></i>
<i style="top:140.0px;height:1.5px;background:linear-gradient(90deg,#c8c8f8 0.0px,#c7c7f8 4.3px,#c5c5f7 8.7px,#c3c3f7 13.0px,#c1c1f7 17.4px,#bfbff6 21.7px,#c5c5f7 26.2px,#ccccf9 30.6px,#d2d2fa 35.0px,#d8d8fb 39.4px,#ddddfb 43.8px,#e3e3fc 48.3px,#e9e9fd 52.7px,#efeffd 57.2px,#f6f6fe 61.7px,#fafafe 65.2px,#ffffff 68.6px,#f4faf8 72.5px,#e4f2ee 75.5px,#e4f2ee 77.5px,#cee9e1 79.5px,#bee1d8 83.5px,#c8e6de 86.5px,#e4f2ee 88.5px,#e9f5f2 91.5px,#ffffff 95.5px,#f6f6fe 98.5px,#ededfd 101.5px,#ebebfd 106.0px,#e9e9fd 110.5px,#e9e9fd 115.1px,#e9e9fd 119.7px,#e9e9fd 124.3px,#e9e9fd 128.3px,#e9e9fd 132.2px,#ededfd 137.2px,#f4f4fe 142.2px,#f4f4fe 147.2px,#f4f4fe 152.1px,#f4f4fe 157.0px,#f4f4fe 162.0px,#f5f5fe 166.9px,#f5f5fe 171.9px,#f5f5fe 176.8px,#f5f5fe 181.7px,#f5f5fe 186.7px,#f5f5fe 191.6px,#f5f5fe 196.6px,#f6f6fe 201.5px,#f6f6fe 206.4px,#f6f6fe 211.4px,#f6f6fe 216.3px,#f6f6fe 221.3px,#f6f6fe 226.2px,#f7f7fe 231.1px,#f7f7fe 236.1px,#f7f7fe 241.0px,#f7f7fe 246.0px,#f7f7fe 250.9px,#f7f7fe 255.9px,#f7f7fe 260.8px,#f8f8fe 265.7px,#f8f8fe 270.7px,#f8f8fe 275.6px,#f8f8fe 280.6px,#f8f8fe 285.5px)"></i>
<i style="top:141.0px;height:1.5px;background:linear-gradient(90deg,#c9c9f8 0.0px,#c7c7f8 4.4px,#c6c6f8 8.8px,#c4c4f7 13.3px,#c2c2f7 17.7px,#c0c0f6 22.1px,#c7c7f8 26.5px,#cdcdf9 30.9px,#d3d3fa 35.3px,#d8d8fb 39.7px,#dedefb 44.1px,#e3e3fc 48.6px,#e9e9fd 53.0px,#f0f0fd 57.5px,#f6f6fe 62.1px,#fafafe 65.4px,#ffffff 68.7px,#f4faf8 72.6px,#e4f2ee 75.6px,#e4f2ee 77.6px,#cee9e2 79.6px,#bfe2d8 83.6px,#c9e6de 86.6px,#e4f2ee 88.6px,#eaf5f2 91.6px,#ffffff 95.6px,#f6f6fe 98.6px,#ededfd 101.6px,#ebebfd 106.1px,#e9e9fd 110.5px,#e9e9fd 115.0px,#e9e9fd 119.5px,#e9e9fd 124.0px,#e9e9fd 127.9px,#e9e9fd 131.8px,#ededfd 136.8px,#f4f4fe 141.8px,#f4f4fe 146.8px,#f4f4fe 151.7px,#f4f4fe 156.7px,#f4f4fe 161.6px,#f5f5fe 166.6px,#f5f5fe 171.5px,#f5f5fe 176.5px,#f5f5fe 181.4px,#f5f5fe 186.4px,#f5f5fe 191.3px,#f5f5fe 196.3px,#f6f6fe 201.3px,#f6f6fe 206.2px,#f6f6fe 211.2px,#f6f6fe 216.1px,#f6f6fe 221.1px,#f6f6fe 226.0px,#f7f7fe 231.0px,#f7f7fe 235.9px,#f7f7fe 240.9px,#f7f7fe 245.9px,#f7f7fe 250.8px,#f7f7fe 255.8px,#f7f7fe 260.7px,#f8f8fe 265.7px,#f8f8fe 270.6px,#f8f8fe 275.6px,#f8f8fe 280.5px,#f8f8fe 285.5px)"></i>
<i style="top:142.0px;height:1.5px;background:linear-gradient(90deg,#cacaf8 0.0px,#c8c8f8 4.5px,#c7c7f8 9.0px,#c5c5f7 13.5px,#c3c3f7 17.9px,#c2c2f7 22.4px,#c8c8f8 26.8px,#cecef9 31.2px,#d4d4fa 35.6px,#d9d9fb 40.0px,#dedefb 44.4px,#e4e4fc 48.8px,#e9e9fd 53.2px,#f0f0fd 57.8px,#f6f6fe 62.4px,#fafafe 65.7px,#ffffff 68.9px,#f4faf8 72.7px,#e4f2ee 75.7px,#e4f2ee 77.7px,#cfe9e2 79.7px,#c0e2d8 83.7px,#c9e6df 86.7px,#e4f2ee 88.7px,#eaf5f2 91.7px,#ffffff 95.7px,#f6f6fe 98.7px,#ededfd 101.7px,#ebebfd 106.1px,#e9e9fd 110.5px,#e9e9fd 114.9px,#e9e9fd 119.3px,#e9e9fd 123.8px,#e9e9fd 127.6px,#e9e9fd 131.4px,#ededfd 136.4px,#f1f1fd 138.9px,#f4f4fe 141.4px,#f4f4fe 146.4px,#f4f4fe 151.3px,#f4f4fe 156.3px,#f4f4fe 161.3px,#f5f5fe 166.2px,#f5f5fe 171.2px,#f5f5fe 176.2px,#f5f5fe 181.1px,#f5f5fe 186.1px,#f5f5fe 191.1px,#f5f5fe 196.0px,#f6f6fe 201.0px,#f6f6fe 206.0px,#f6f6fe 211.0px,#f6f6fe 215.9px,#f6f6fe 220.9px,#f6f6fe 225.9px,#f7f7fe 230.8px,#f7f7fe 235.8px,#f7f7fe 240.8px,#f7f7fe 245.7px,#f7f7fe 250.7px,#f7f7fe 255.7px,#f7f7fe 260.7px,#f8f8fe 265.6px,#f8f8fe 270.6px,#f8f8fe 275.6px,#f8f8fe 280.5px,#f8f8fe 285.5px)"></i>
<i style="top:143.0px;height:1.5px;background:linear-gradient(90deg,#cbcbf9 0.0px,#c9c9f8 4.6px,#c8c8f8 9.1px,#c6c6f8 13.7px,#c5c5f7 18.2px,#c3c3f7 22.8px,#c9c9f8 27.2px,#cfcff9 31.6px,#d4d4fa 36.0px,#dadafb 40.3px,#dfdffb 44.7px,#e4e4fc 49.1px,#eaeafd 53.5px,#f0f0fd 58.1px,#f6f6fe 62.8px,#fafafe 65.9px,#ffffff 69.0px,#f4faf8 72.8px,#e4f2ee 75.8px,#e4f2ee 77.8px,#cfe9e2 79.8px,#c1e2d9 83.8px,#c9e7df 86.8px,#e4f2ee 88.8px,#eaf6f3 91.8px,#ffffff 95.8px,#f6f6fe 98.8px,#eeeefd 101.8px,#ececfd 106.1px,#eaeafd 110.5px,#eaeafd 114.8px,#eaeafd 119.2px,#eaeafd 123.5px,#eaeafd 127.2px,#eaeafd 131.0px,#eeeefd 136.0px,#f4f4fe 141.0px,#f4f4fe 146.0px,#f4f4fe 150.9px,#f4f4fe 155.9px,#f4f4fe 160.9px,#f5f5fe 165.9px,#f5f5fe 170.9px,#f5f5fe 175.9px,#f5f5fe 180.8px,#f5f5fe 185.8px,#f5f5fe 190.8px,#f5f5fe 195.8px,#f6f6fe 200.8px,#f6f6fe 205.8px,#f6f6fe 210.7px,#f6f6fe 215.7px,#f6f6fe 220.7px,#f6f6fe 225.7px,#f7f7fe 230.7px,#f7f7fe 235.7px,#f7f7fe 240.6px,#f7f7fe 245.6px,#f7f7fe 250.6px,#f7f7fe 255.6px,#f7f7fe 260.6px,#f8f8fe 265.6px,#f8f8fe 270.5px,#f8f8fe 275.5px,#f8f8fe 280.5px,#f8f8fe 285.5px)"></i>
<i style="top:144.0px;height:1.5px;background:linear-gradient(90deg,#cbcbf9 0.0px,#cacaf8 4.6px,#c9c9f8 9.2px,#c7c7f8 13.9px,#c6c6f8 18.5px,#c4c4f7 23.1px,#cacaf8 27.5px,#d0d0fa 31.9px,#d5d5fa 36.3px,#dadafb 40.6px,#e0e0fc 45.0px,#e5e5fc 49.4px,#eaeafd 53.8px,#f0f0fd 58.5px,#f6f6fe 63.1px,#fafafe 66.1px,#ffffff 69.1px,#f4faf8 72.8px,#e4f2ee 75.8px,#e4f2ee 77.8px,#cfe9e2 79.8px,#c1e3d9 83.8px,#cae7df 86.8px,#e4f2ee 88.8px,#ebf6f3 91.8px,#ffffff 95.8px,#f6f6fe 98.8px,#eeeefd 101.8px,#ececfd 106.2px,#eaeafd 110.5px,#eaeafd 114.7px,#eaeafd 119.0px,#eaeafd 123.2px,#eaeafd 126.9px,#eaeafd 130.6px,#eeeefd 135.6px,#f4f4fe 140.6px,#f4f4fe 145.6px,#f4f4fe 150.6px,#f4f4fe 155.5px,#f4f4fe 160.5px,#f5f5fe 165.5px,#f5f5fe 170.5px,#f5f5fe 175.5px,#f5f5fe 180.5px,#f5f5fe 185.5px,#f5f5fe 190.5px,#f5f5fe 195.5px,#f6f6fe 200.5px,#f6f6fe 205.5px,#f6f6fe 210.5px,#f6f6fe 215.5px,#f6f6fe 220.5px,#f6f6fe 225.5px,#f7f7fe 230.5px,#f7f7fe 235.5px,#f7f7fe 240.5px,#f7f7fe 245.5px,#f7f7fe 250.5px,#f7f7fe 255.5px,#f7f7fe 260.5px,#f8f8fe 265.5px,#f8f8fe 270.5px,#f8f8fe 275.5px,#f8f8fe 280.5px,#f8f8fe 285.5px)"></i>
<i style="top:145.0px;height:1.5px;background:linear-gradient(90deg,#ccccf9 0.0px,#cbcbf9 4.7px,#cacaf8 9.4px,#c8c8f8 14.1px,#c7c7f8 18.8px,#c6c6f8 23.5px,#cbcbf9 27.8px,#d1d1fa 32.2px,#d6d6fa 36.6px,#dbdbfb 41.0px,#e0e0fc 45.3px,#e5e5fc 49.7px,#eaeafd 54.1px,#f0f0fd 58.8px,#f6f6fe 63.5px,#fafafe 66.4px,#ffffff 69.3px,#f4faf8 72.9px,#e4f2ee 75.9px,#e4f2ee 77.9px,#d0e9e3 79.9px,#c2e3da 83.9px,#cae7df 86.9px,#e4f2ee 88.9px,#ebf6f3 91.9px,#ffffff 95.9px,#f6f6fe 98.9px,#eeeefd 101.9px,#ececfd 106.2px,#eaeafd 110.5px,#eaeafd 114.6px,#eaeafd 118.8px,#eaeafd 122.9px,#eaeafd 126.5px,#eaeafd 130.1px,#eeeefd 135.1px,#f1f1fd 137.6px,#f4f4fe 140.1px,#f4f4fe 145.0px,#f4f4fe 149.8px,#f4f4fe 154.7px,#f4f4fe 159.5px,#f4f4fe 164.4px,#f5f5fe 169.2px,#f5f5fe 174.1px,#f5f5fe 178.9px,#f5f5fe 183.7px,#f5f5fe 188.6px,#f5f5fe 193.4px,#f6f6fe 198.3px,#f6f6fe 203.1px,#f6f6fe 208.0px,#f6f6fe 212.8px,#f6f6fe 217.7px,#f6f6fe 222.5px,#f6f6fe 227.4px,#f7f7fe 232.2px,#f7f7fe 237.0px,#f7f7fe 241.9px,#f7f7fe 246.7px,#f7f7fe 251.6px,#f7f7fe 256.4px,#f7f7fe 261.3px,#f8f8fe 266.1px,#f8f8fe 271.0px,#f8f8fe 275.8px,#f8f8fe 280.7px,#f8f8fe 285.5px)"></i>
<i style="top:146.0px;height:1.5px;background:linear-gradient(90deg,#cdcdf9 0.0px,#ccccf9 4.8px,#cacaf8 9.5px,#c9c9f8 14.3px,#c8c8f8 19.0px,#c7c7f8 23.8px,#cdcdf9 28.2px,#d2d2fa 32.5px,#d7d7fb 36.9px,#dcdcfb 41.3px,#e1e1fc 45.6px,#e6e6fc 50.0px,#ebebfd 54.3px,#f0f0fd 59.1px,#f6f6fe 63.8px,#fbfbfe 66.6px,#ffffff 69.4px,#f4faf8 73.0px,#e4f2ee 76.0px,#e4f2ee 78.0px,#d0eae3 80.0px,#c3e3da 84.0px,#cbe7e0 87.0px,#e4f2ee 89.0px,#ecf6f3 92.0px,#ffffff 96.0px,#f7f7fe 99.0px,#eeeefd 102.0px,#ececfd 106.2px,#ebebfd 110.5px,#ebebfd 114.6px,#ebebfd 118.6px,#ebebfd 122.7px,#ebebfd 126.2px,#ebebfd 129.7px,#eeeefd 134.7px,#f1f1fd 137.2px,#f4f4fe 139.7px,#f4f4fe 144.6px,#f4f4fe 149.4px,#f4f4fe 154.3px,#f4f4fe 159.2px,#f5f5fe 164.0px,#f5f5fe 168.9px,#f5f5fe 173.7px,#f5f5fe 178.6px,#f5f5fe 183.5px,#f5f5fe 188.3px,#f5f5fe 193.2px,#f6f6fe 198.0px,#f6f6fe 202.9px,#f6f6fe 207.8px,#f6f6fe 212.6px,#f6f6fe 217.5px,#f6f6fe 222.3px,#f6f6fe 227.2px,#f7f7fe 232.1px,#f7f7fe 236.9px,#f7f7fe 241.8px,#f7f7fe 246.6px,#f7f7fe 251.5px,#f7f7fe 256.3px,#f8f8fe 261.2px,#f8f8fe 266.1px,#f8f8fe 270.9px,#f8f8fe 275.8px,#f8f8fe 280.6px,#f8f8fe 285.5px)"></i>
<i style="top:147.0px;height:1.5px;background:linear-gradient(90deg,#cdcdf9 0.0px,#ccccf9 4.8px,#cbcbf9 9.7px,#cacaf8 14.5px,#cacaf8 19.3px,#c9c9f8 24.2px,#cecef9 28.5px,#d3d3fa 32.9px,#d8d8fb 37.2px,#ddddfb 41.6px,#e1e1fc 45.9px,#e6e6fc 50.3px,#ebebfd 54.6px,#f0f0fd 59.4px,#f6f6fe 64.2px,#fafafe 66.9px,#ffffff 69.6px,#f4faf8 73.0px,#e4f2ee 76.0px,#e4f2ee 78.0px,#d0eae3 80.0px,#c3e4db 84.0px,#cbe7e0 87.0px,#e4f2ee 89.0px,#ecf6f4 92.0px,#ffffff 96.0px,#f7f7fe 99.0px,#eeeefd 102.0px,#ededfd 106.3px,#ebebfd 110.5px,#ebebfd 114.5px,#ebebfd 118.4px,#ebebfd 122.4px,#ebebfd 125.8px,#ebebfd 129.3px,#eeeefd 134.3px,#f4f4fe 139.3px,#f4f4fe 144.2px,#f4f4fe 149.1px,#f4f4fe 153.9px,#f4f4fe 158.8px,#f4f4fe 163.7px,#f5f5fe 168.6px,#f5f5fe 173.4px,#f5f5fe 178.3px,#f5f5fe 183.2px,#f5f5fe 188.0px,#f5f5fe 192.9px,#f6f6fe 197.8px,#f6f6fe 202.7px,#f6f6fe 207.5px,#f6f6fe 212.4px,#f6f6fe 217.3px,#f6f6fe 222.2px,#f6f6fe 227.0px,#f7f7fe 231.9px,#f7f7fe 236.8px,#f7f7fe 241.6px,#f7f7fe 246.5px,#f7f7fe 251.4px,#f7f7fe 256.3px,#f8f8fe 261.1px,#f8f8fe 266.0px,#f8f8fe 270.9px,#f8f8fe 275.8px,#f8f8fe 280.6px,#f8f8fe 285.5px)"></i>
<i style="top:148.0px;height:1.5px;background:linear-gradient(90deg,#cecef9 0.0px,#cdcdf9 4.9px,#ccccf9 9.8px,#ccccf9 14.7px,#cbcbf9 19.6px,#cacaf8 24.5px,#cfcff9 28.8px,#d4d4fa 33.2px,#d9d9fb 37.5px,#ddddfb 41.9px,#e2e2fc 46.2px,#e7e7fc 50.6px,#ebebfd 54.9px,#f1f1fd 59.7px,#f6f6fe 64.5px,#fafafe 67.1px,#ffffff 69.7px,#f4faf8 73.1px,#e4f2ee 76.1px,#e4f2ee 78.1px,#d1eae3 80.1px,#c4e4db 84.1px,#cbe8e0 87.1px,#e4f2ee 89.1px,#ecf6f4 92.1px,#ffffff 96.1px,#f7f7fe 99.1px,#eeeefd 102.1px,#ededfd 106.3px,#ebebfd 110.5px,#ebebfd 114.4px,#ebebfd 118.2px,#ebebfd 122.1px,#ebebfd 125.5px,#ebebfd 128.9px,#eeeefd 133.9px,#f4f4fe 138.9px,#f4f4fe 143.8px,#f4f4fe 148.7px,#f4f4fe 153.6px,#f4f4fe 158.4px,#f4f4fe 163.3px,#f5f5fe 168.2px,#f5f5fe 173.1px,#f5f5fe 178.0px,#f5f5fe 182.9px,#f5f5fe 187.8px,#f5f5fe 192.7px,#f6f6fe 197.5px,#f6f6fe 202.4px,#f6f6fe 207.3px,#f6f6fe 212.2px,#f6f6fe 217.1px,#f6f6fe 222.0px,#f6f6fe 226.9px,#f7f7fe 231.7px,#f7f7fe 236.6px,#f7f7fe 241.5px,#f7f7fe 246.4px,#f7f7fe 251.3px,#f7f7fe 256.2px,#f7f7fe 261.1px,#f8f8fe 266.0px,#f8f8fe 270.8px,#f8f8fe 275.7px,#f8f8fe 280.6px,#f8f8fe 285.5px)"></i>
<i style="top:149.0px;height:1.5px;background:linear-gradient(90deg,#cfcff9 0.0px,#cecef9 5.0px,#cdcdf9 9.9px,#cdcdf9 14.9px,#ccccf9 19.9px,#cbcbf9 24.8px,#d0d0fa 29.2px,#d5d5fa 33.5px,#dadafb 37.8px,#dedefb 42.2px,#e3e3fc 46.5px,#e7e7fc 50.8px,#ececfd 55.2px,#f1f1fd 60.0px,#f6f6fe 64.8px,#ffffff 69.8px,#f4faf8 73.2px,#e4f2ee 76.2px,#e4f2ee 78.2px,#d1eae4 80.2px,#c5e4dc 84.2px,#cce8e0 87.2px,#e4f2ee 89.2px,#edf7f4 92.2px,#ffffff 96.2px,#f7f7fe 99.2px,#efeffd 102.2px,#ededfd 106.3px,#ececfd 110.5px,#ececfd 114.3px,#ececfd 118.0px,#ececfd 121.8px,#ececfd 125.2px,#ececfd 128.5px,#efeffd 133.5px,#f4f4fe 138.5px,#f4f4fe 143.4px,#f4f4fe 148.3px,#f4f4fe 153.2px,#f4f4fe 158.1px,#f4f4fe 163.0px,#f5f5fe 167.9px,#f5f5fe 172.8px,#f5f5fe 177.7px,#f5f5fe 182.6px,#f5f5fe 187.5px,#f5f5fe 192.4px,#f6f6fe 197.3px,#f6f6fe 202.2px,#f6f6fe 207.1px,#f6f6fe 212.0px,#f6f6fe 216.9px,#f6f6fe 221.8px,#f6f6fe 226.7px,#f7f7fe 231.6px,#f7f7fe 236.5px,#f7f7fe 241.4px,#f7f7fe 246.3px,#f7f7fe 251.2px,#f7f7fe 256.1px,#f7f7fe 261.0px,#f8f8fe 265.9px,#f8f8fe 270.8px,#f8f8fe 275.7px,#f8f8fe 280.6px,#f8f8fe 285.5px)"></i>
<i style="top:150.0px;height:1.5px;background:linear-gradient(90deg,#cfcff9 0.0px,#cfcff9 4.2px,#cfcff9 8.4px,#cecef9 12.6px,#cecef9 16.8px,#cdcdf9 21.0px,#cdcdf9 25.2px,#d2d2fa 29.5px,#d6d6fa 33.8px,#dadafb 38.2px,#dfdffb 42.5px,#e3e3fc 46.8px,#e7e7fc 51.1px,#ececfd 55.5px,#f1f1fd 60.3px,#f6f6fe 65.2px,#ffffff 70.0px,#f4faf8 73.2px,#e4f2ee 76.2px,#e4f2ee 78.2px,#d2eae4 80.2px,#c5e5dc 84.2px,#cce8e0 87.2px,#e4f2ee 89.2px,#edf7f4 92.2px,#ffffff 96.2px,#f7f7fe 99.2px,#efeffd 102.2px,#ededfd 106.4px,#ececfd 110.5px,#ececfd 114.2px,#ececfd 117.9px,#ececfd 121.5px,#ececfd 124.8px,#ececfd 128.1px,#efeffd 133.1px,#f4f4fe 138.1px,#f4f4fe 143.0px,#f4f4fe 147.9px,#f4f4fe 152.8px,#f4f4fe 157.7px,#f4f4fe 162.6px,#f5f5fe 167.6px,#f5f5fe 172.5px,#f5f5fe 177.4px,#f5f5fe 182.3px,#f5f5fe 187.2px,#f5f5fe 192.1px,#f6f6fe 197.0px,#f6f6fe 202.0px,#f6f6fe 206.9px,#f6f6fe 211.8px,#f6f6fe 216.7px,#f6f6fe 221.6px,#f6f6fe 226.5px,#f7f7fe 231.4px,#f7f7fe 236.4px,#f7f7fe 241.3px,#f7f7fe 246.2px,#f7f7fe 251.1px,#f7f7fe 256.0px,#f8f8fe 260.9px,#f8f8fe 265.8px,#f8f8fe 270.8px,#f8f8fe 275.7px,#f8f8fe 280.6px,#f8f8fe 285.5px)"></i>
<i style="top:151.0px;height:1.5px;background:linear-gradient(90deg,#d0d0fa 0.0px,#d0d0fa 4.3px,#cfcff9 8.5px,#cfcff9 12.8px,#cfcff9 17.0px,#cecef9 21.3px,#cecef9 25.5px,#d3d3fa 29.8px,#d7d7fb 34.2px,#dbdbfb 38.5px,#dfdffb 42.8px,#e4e4fc 47.1px,#e8e8fc 51.4px,#ececfd 55.7px,#f1f1fd 60.6px,#f6f6fe 65.5px,#ffffff 70.1px,#f4faf8 73.3px,#e4f2ee 76.3px,#e4f2ee 78.3px,#d2ebe4 80.3px,#c6e5dd 84.3px,#cce8e1 87.3px,#e4f2ee 89.3px,#edf7f4 92.3px,#ffffff 96.3px,#f7f7fe 99.3px,#efeffd 102.3px,#ededfd 106.4px,#ececfd 110.5px,#ececfd 114.1px,#ececfd 117.7px,#ececfd 121.3px,#ececfd 124.5px,#ececfd 127.7px,#efeffd 132.7px,#f4f4fe 137.7px,#f4f4fe 142.6px,#f4f4fe 147.5px,#f4f4fe 152.4px,#f4f4fe 157.4px,#f4f4fe 162.3px,#f5f5fe 167.2px,#f5f5fe 172.2px,#f5f5fe 177.1px,#f5f5fe 182.0px,#f5f5fe 186.9px,#f5f5fe 191.9px,#f6f6fe 196.8px,#f6f6fe 201.7px,#f6f6fe 206.7px,#f6f6fe 211.6px,#f6f6fe 216.5px,#f6f6fe 221.4px,#f6f6fe 226.4px,#f7f7fe 231.3px,#f7f7fe 236.2px,#f7f7fe 241.1px,#f7f7fe 246.1px,#f7f7fe 251.0px,#f7f7fe 255.9px,#f7f7fe 260.9px,#f8f8fe 265.8px,#f8f8fe 270.7px,#f8f8fe 275.6px,#f8f8fe 280.6px,#f8f8fe 285.5px)"></i>
<i style="top:152.0px;height:1.5px;background:linear-gradient(90deg,#d1d1fa 0.0px,#d1d1fa 4.3px,#d0d0fa 8.6px,#d0d0fa 12.9px,#d0d0fa 17.3px,#d0d0fa 21.6px,#d0d0fa 25.9px,#d4d4fa 30.2px,#d8d8fb 34.5px,#dcdcfb 38.8px,#e0e0fc 43.1px,#e4e4fc 47.4px,#e8e8fc 51.7px,#ececfd 56.0px,#f1f1fd 60.9px,#f6f6fe 65.9px,#ffffff 70.3px,#f4faf8 73.4px,#e4f2ee 76.4px,#e4f2ee 78.4px,#d2ebe4 80.4px,#c7e5dd 84.4px,#cde8e1 87.4px,#e4f2ee 89.4px,#eef7f5 92.4px,#ffffff 96.4px,#f7f7fe 99.4px,#efeffd 102.4px,#eeeefd 106.4px,#ececfd 110.5px,#ececfd 114.0px,#ececfd 117.5px,#ececfd 121.0px,#ececfd 124.1px,#ececfd 127.2px,#efeffd 132.2px,#f1f1fd 134.7px,#f4f4fe 137.2px,#f4f4fe 142.2px,#f4f4fe 147.1px,#f4f4fe 152.1px,#f4f4fe 157.0px,#f4f4fe 162.0px,#f5f5fe 166.9px,#f5f5fe 171.8px,#f5f5fe 176.8px,#f5f5fe 181.7px,#f5f5fe 186.7px,#f5f5fe 191.6px,#f6f6fe 196.5px,#f6f6fe 201.5px,#f6f6fe 206.4px,#f6f6fe 211.4px,#f6f6fe 216.3px,#f6f6fe 221.3px,#f6f6fe 226.2px,#f7f7fe 231.1px,#f7f7fe 236.1px,#f7f7fe 241.0px,#f7f7fe 246.0px,#f7f7fe 250.9px,#f7f7fe 255.8px,#f7f7fe 260.8px,#f8f8fe 265.7px,#f8f8fe 270.7px,#f8f8fe 275.6px,#f8f8fe 280.6px,#f8f8fe 285.5px)"></i>
<i style="top:153.0px;height:1.5px;background:linear-gradient(90deg,#d1d1fa 0.0px,#d1d1fa 4.4px,#d1d1fa 8.7px,#d1d1fa 13.1px,#d1d1fa 17.5px,#d1d1fa 21.9px,#d1d1fa 26.2px,#d5d5fa 30.5px,#d9d9fb 34.8px,#ddddfb 39.1px,#e1e1fc 43.4px,#e5e5fc 47.7px,#e9e9fd 52.0px,#ededfd 56.3px,#f1f1fd 61.3px,#f6f6fe 66.2px,#ffffff 70.4px,#f4faf8 73.4px,#e4f2ee 76.4px,#e4f2ee 78.4px,#d3ebe4 80.4px,#c7e6de 84.4px,#cde8e1 87.4px,#e4f2ee 89.4px,#eef7f5 92.4px,#ffffff 96.4px,#f7f7fe 99.4px,#efeffd 102.4px,#eeeefd 106.5px,#ededfd 110.5px,#ededfd 113.9px,#ededfd 117.3px,#ededfd 120.7px,#ededfd 123.8px,#ededfd 126.8px,#efeffd 131.8px,#f4f4fe 136.8px,#f4f4fe 141.8px,#f4f4fe 146.7px,#f4f4fe 151.7px,#f4f4fe 156.7px,#f4f4fe 161.6px,#f5f5fe 166.6px,#f5f5fe 171.5px,#f5f5fe 176.5px,#f5f5fe 181.4px,#f5f5fe 186.4px,#f5f5fe 191.3px,#f6f6fe 196.3px,#f6f6fe 201.3px,#f6f6fe 206.2px,#f6f6fe 211.2px,#f6f6fe 216.1px,#f6f6fe 221.1px,#f6f6fe 226.0px,#f7f7fe 231.0px,#f7f7fe 235.9px,#f7f7fe 240.9px,#f7f7fe 245.9px,#f7f7fe 250.8px,#f7f7fe 255.8px,#f7f7fe 260.7px,#f8f8fe 265.7px,#f8f8fe 270.6px,#f8f8fe 275.6px,#f8f8fe 280.5px,#f8f8fe 285.5px)"></i>
<i style="top:154.0px;height:0.8px;background:linear-gradient(90deg,#d2d2fa 0.0px,#d2d2fa 4.4px,#d2d2fa 8.8px,#d2d2fa 13.2px,#d2d2fa 17.7px,#d2d2fa 22.1px,#d2d2fa 26.5px,#d6d6fa 31.5px,#dbdbfb 36.5px,#dfdffc 41.5px,#e4e4fc 46.5px,#e8e8fc 51.5px,#ededfd 56.5px,#f2f2fe 61.5px,#f6f6fe 66.5px,#ffffff 70.5px,#f4faf8 73.5px,#e4f2ee 76.5px,#e4f2ee 78.5px,#d3ebe5 80.5px,#c8e6de 84.5px,#cee8e1 87.5px,#e4f2ee 89.5px,#eef8f5 92.5px,#ffffff 96.5px,#f7f7fe 99.5px,#efeffd 102.5px,#eeeefd 106.5px,#ededfd 110.5px,#ededfd 115.5px,#ededfd 120.5px,#ededfd 123.5px,#ededfd 126.5px,#efeffd 131.5px,#f4f4fe 136.5px,#f4f4fe 141.5px,#f4f4fe 146.4px,#f4f4fe 151.4px,#f4f4fe 156.4px,#f4f4fe 161.3px,#f5f5fe 166.3px,#f5f5fe 171.3px,#f5f5fe 176.2px,#f5f5fe 181.2px,#f5f5fe 186.2px,#f5f5fe 191.1px,#f6f6fe 196.1px,#f6f6fe 201.1px,#f6f6fe 206.0px,#f6f6fe 211.0px,#f6f6fe 216.0px,#f6f6fe 220.9px,#f6f6fe 225.9px,#f7f7fe 230.9px,#f7f7fe 235.8px,#f7f7fe 240.8px,#f7f7fe 245.8px,#f7f7fe 250.7px,#f7f7fe 255.7px,#f7f7fe 260.7px,#f8f8fe 265.6px,#f8f8fe 270.6px,#f8f8fe 275.6px,#f8f8fe 280.5px,#f8f8fe 285.5px)"></i>
</div>
<div id="cb"></div>
<svg width="448" height="252" viewBox="0 0 448 252">
<g fill="none" stroke="#000" stroke-width="1.4" stroke-dasharray="1.2 1.25">
<path d="M120.50 5.20 C120.58 7.67 120.58 15.03 121.00 20.00 C121.42 24.97 122.00 29.17 123.00 35.00 C124.00 40.83 125.42 49.17 127.00 55.00 C128.58 60.83 130.67 65.67 132.50 70.00 C134.33 74.33 134.92 75.17 138.00 81.00 C141.08 86.83 146.83 96.83 151.00 105.00 C155.17 113.17 159.08 120.92 163.00 130.00 C166.92 139.08 172.58 154.58 174.50 159.50"/>
<path d="M244.00 5.20 C241.83 9.00 234.83 20.53 231.00 28.00 C227.17 35.47 224.00 43.83 221.00 50.00 C218.00 56.17 215.50 60.00 213.00 65.00 C210.50 70.00 208.33 75.00 206.00 80.00 C203.67 85.00 200.67 90.00 199.00 95.00 C197.33 100.00 196.67 104.17 196.00 110.00 C195.33 115.83 195.33 121.75 195.00 130.00 C194.67 138.25 194.17 154.58 194.00 159.50"/>
<path d="M326.60 5.20 C324.67 6.33 318.47 9.53 315.00 12.00 C311.53 14.47 308.80 17.00 305.80 20.00 C302.80 23.00 299.80 26.67 297.00 30.00 C294.20 33.33 291.25 36.67 289.00 40.00 C286.75 43.33 285.17 46.67 283.50 50.00 C281.83 53.33 280.33 56.67 279.00 60.00 C277.67 63.33 276.75 66.67 275.50 70.00 C274.25 73.33 272.83 76.67 271.50 80.00 C270.17 83.33 268.83 86.67 267.50 90.00 C266.17 93.33 264.92 96.92 263.50 100.00 C262.08 103.08 261.75 102.67 259.00 108.50 C256.25 114.33 251.00 126.50 247.00 135.00 C243.00 143.50 237.00 155.42 235.00 159.50"/>
</g>
<rect x="103.2" y="4.9" width="286.3" height="154.9" fill="none" stroke="#999" stroke-width="1.6"/>
<g stroke="#22325c" stroke-width="1.3">
<ellipse cx="124" cy="86.25" rx="74" ry="11.75" transform="rotate(72.9 124 86.25)" fill="#c0c0f7"/>
<ellipse cx="239.6" cy="87.6" rx="74.3" ry="9.7" transform="rotate(-64.6 239.6 87.6)" fill="#c0c0f7"/>
<ellipse cx="176.4" cy="27.9" rx="55.8" ry="20.7" fill="#7dbfab"/>
<ellipse cx="317.2" cy="134.4" rx="57.3" ry="18.9" fill="#dde6f4"/>
</g>
<!-- markers -->
<circle cx="103.5" cy="5.0" r="2.05" fill="#00dede" stroke="#081018" stroke-width="1.1"/>
<rect x="127.2" y="2.7" width="4.7" height="4.7" rx="0.6" fill="#e2570e" stroke="#1c2d66" stroke-width="1.1"/>
<rect x="153.1" y="2.7" width="4.7" height="4.7" rx="0.6" fill="#ffd800" stroke="#1c2d66" stroke-width="1.1"/>
<rect x="179.1" y="2.7" width="4.7" height="4.7" rx="0.6" fill="#ffd800" stroke="#1c2d66" stroke-width="1.1"/>
<rect x="205.0" y="2.7" width="4.7" height="4.7" rx="0.6" fill="#ffd800" stroke="#1c2d66" stroke-width="1.1"/>
<rect x="231.0" y="2.7" width="4.7" height="4.7" rx="0.6" fill="#e2570e" stroke="#1c2d66" stroke-width="1.1"/>
<circle cx="259.2" cy="5.0" r="2.05" fill="#00dede" stroke="#081018" stroke-width="1.1"/>
<circle cx="285.2" cy="5.0" r="2.05" fill="#00dede" stroke="#081018" stroke-width="1.1"/>
<circle cx="389.0" cy="5.0" r="2.05" fill="#00dede" stroke="#081018" stroke-width="1.1"/>
<circle cx="103.5" cy="56.6" r="2.05" fill="#00dede" stroke="#081018" stroke-width="1.1"/>
<rect x="127.2" y="54.3" width="4.7" height="4.7" rx="0.6" fill="#e2570e" stroke="#1c2d66" stroke-width="1.1"/>
<rect x="153.1" y="54.3" width="4.7" height="4.7" rx="0.6" fill="#ffd800" stroke="#1c2d66" stroke-width="1.1"/>
<rect x="179.1" y="54.3" width="4.7" height="4.7" rx="0.6" fill="#ffd800" stroke="#1c2d66" stroke-width="1.1"/>
<rect x="205.0" y="54.3" width="4.7" height="4.7" rx="0.6" fill="#e2570e" stroke="#1c2d66" stroke-width="1.1"/>
<circle cx="233.3" cy="56.6" r="2.05" fill="#00dede" stroke="#081018" stroke-width="1.1"/>
<circle cx="285.2" cy="56.6" r="2.05" fill="#00dede" stroke="#081018" stroke-width="1.1"/>
<circle cx="389.0" cy="56.6" r="2.05" fill="#00dede" stroke="#081018" stroke-width="1.1"/>
<circle cx="103.5" cy="108.2" r="2.05" fill="#00dede" stroke="#081018" stroke-width="1.1"/>
<rect x="153.1" y="105.9" width="4.7" height="4.7" rx="0.6" fill="#e2570e" stroke="#1c2d66" stroke-width="1.1"/>
<rect x="179.1" y="105.9" width="4.7" height="4.7" rx="0.6" fill="#ffd800" stroke="#1c2d66" stroke-width="1.1"/>
<circle cx="207.3" cy="108.2" r="2.05" fill="#00dede" stroke="#081018" stroke-width="1.1"/>
<circle cx="259.2" cy="108.2" r="2.05" fill="#00dede" stroke="#081018" stroke-width="1.1"/>
<circle cx="285.2" cy="108.2" r="2.05" fill="#00dede" stroke="#081018" stroke-width="1.1"/>
<circle cx="389.0" cy="108.2" r="2.05" fill="#00dede" stroke="#081018" stroke-width="1.1"/>
<circle cx="103.5" cy="159.8" r="2.05" fill="#00dede" stroke="#081018" stroke-width="1.1"/>
<circle cx="129.5" cy="159.8" r="2.05" fill="#00dede" stroke="#081018" stroke-width="1.1"/>
<circle cx="155.4" cy="159.8" r="2.05" fill="#00dede" stroke="#081018" stroke-width="1.1"/>
<rect x="179.1" y="157.5" width="4.7" height="4.7" rx="0.6" fill="#ffd800" stroke="#1c2d66" stroke-width="1.1"/>
<circle cx="207.3" cy="159.8" r="2.05" fill="#00dede" stroke="#081018" stroke-width="1.1"/>
<circle cx="233.3" cy="159.8" r="2.05" fill="#00dede" stroke="#081018" stroke-width="1.1"/>
<circle cx="259.2" cy="159.8" r="2.05" fill="#00dede" stroke="#081018" stroke-width="1.1"/>
<circle cx="285.2" cy="159.8" r="2.05" fill="#00dede" stroke="#081018" stroke-width="1.1"/>
<circle cx="389.0" cy="159.8" r="2.05" fill="#00dede" stroke="#081018" stroke-width="1.1"/>
<!-- ellipse texts -->
<g font-size="15" fill="#1414b8" stroke="#1414b8" stroke-width="0.25" text-anchor="middle">
<text transform="translate(123.2 88) rotate(70) scale(1 1.05)" dy="5" fill="#0c0caa" stroke="#0c0caa">Non-resonance</text>
<text transform="translate(240.4 89) rotate(-65.2) scale(1 1.05)" dy="5" fill="#0c0caa" stroke="#0c0caa">Non-resonance</text>
<text transform="translate(316.5 131.3) scale(1 1.07)" >Limited</text>
<text transform="translate(316.5 148.7) scale(1 1.07)" >effects</text>
<text transform="translate(330.3 90.2) scale(1 1.07)" stroke-width="0.2">TG(15%,2.00)</text>
</g>
<g font-size="15" fill="#1c2a2a" stroke="#1c2a2a" stroke-width="0.15" text-anchor="middle">
<text transform="translate(176.4 26.1) scale(1 1.07)">Flow</text>
<text transform="translate(176.4 43.7) scale(1 1.07)">resonance</text>
</g>
<!-- arrow -->
<path d="M289 58.2 C298 59.5 304 63.5 307.8 71.5" fill="none" stroke="#22325c" stroke-width="1.15"/>
<path d="M303.3 69.6 L308.2 72.4 L309.2 66.8" fill="none" stroke="#22325c" stroke-width="1.15"/>
<!-- tick labels -->
<g font-size="15.5" fill="#111" text-anchor="end">
<text transform="translate(97 11.4) scale(1 1.07)">20</text>
<text transform="translate(97 62.9) scale(1 1.07)">15</text>
<text transform="translate(97 114.3) scale(1 1.07)">10</text>
<text transform="translate(97 165.7) scale(1 1.07)">5</text>
</g>
<g font-size="15.5" fill="#111" text-anchor="middle">
<text transform="translate(129.5 180.6) scale(1 1.07)">0.5</text>
<text transform="translate(181.5 180.6) scale(1 1.07)">1</text>
<text transform="translate(233.3 180.6) scale(1 1.07)">1.5</text>
<text transform="translate(285.2 180.6) scale(1 1.07)">2</text>
<text transform="translate(337.1 180.6) scale(1 1.07)">2.5</text>
<text transform="translate(389 180.6) scale(1 1.07)">3</text>
</g>
<!-- axis labels -->
<g fill="#111">
<text transform="translate(70.5 0) rotate(-90)" font-size="17.5"><tspan x="-122" y="0" font-style="italic" font-size="19.5">σ</tspan><tspan x="-112.4" y="1.4" font-style="italic" font-size="13">v</tspan><tspan x="-102.6" y="2.8" font-size="26">/</tspan><tspan x="-95.3" y="-0.4" font-style="italic" font-size="19.5">U</tspan><tspan x="-70.8" y="0" font-size="19.5">(%)</tspan></text>
<text font-size="17.5" font-style="italic" transform="translate(218.3 200.9) scale(1.4 1)">f</text><text font-size="17.5" font-style="italic" transform="translate(245.8 200.9) scale(1.4 1)">f</text><text y="200.9" font-size="17.5"><tspan x="227.4" y="204.1" font-style="italic" font-size="13">v</tspan><tspan x="235.8" y="206.2" font-size="26">/</tspan><tspan x="254.6" y="204.1" font-style="italic" font-size="13">v</tspan><tspan x="260.2" font-style="italic" font-size="13">s</tspan><tspan x="267" font-size="13">0</tspan></text>
</g>
<!-- colorbar -->
<rect x="102.5" y="220.3" width="214.8" height="12.8" fill="none" stroke="#2a2a2a" stroke-width="0.9"/>
<line x1="209.9" y1="230.6" x2="209.9" y2="233.1" stroke="#111" stroke-width="1"/>
<g font-size="15.5" fill="#111" text-anchor="middle">
<text transform="translate(106.6 252.8) scale(1 1.07)">0.5</text>
<text transform="translate(209.5 252.8) scale(1 1.07)">1.0</text>
<text transform="translate(314.3 252.8) scale(1 1.07)">1.5</text>
</g>
<text y="233" font-size="17.5" fill="#111" stroke="#111" stroke-width="0.25"><tspan x="339.8" font-style="italic">C</tspan><tspan x="349.4" y="235.4" font-style="italic" font-size="12">L</tspan><tspan x="357" y="237.6" font-size="26">/</tspan><tspan x="364.8" y="233" font-style="italic">C</tspan><tspan x="375.5" y="235.4" font-style="italic" font-size="12">L</tspan><tspan font-size="12">0</tspan></text>
<text y="221.2" font-size="10" fill="#111"><tspan x="343.8">~</tspan><tspan x="368.8">~</tspan></text>
</svg>
</body></html>
